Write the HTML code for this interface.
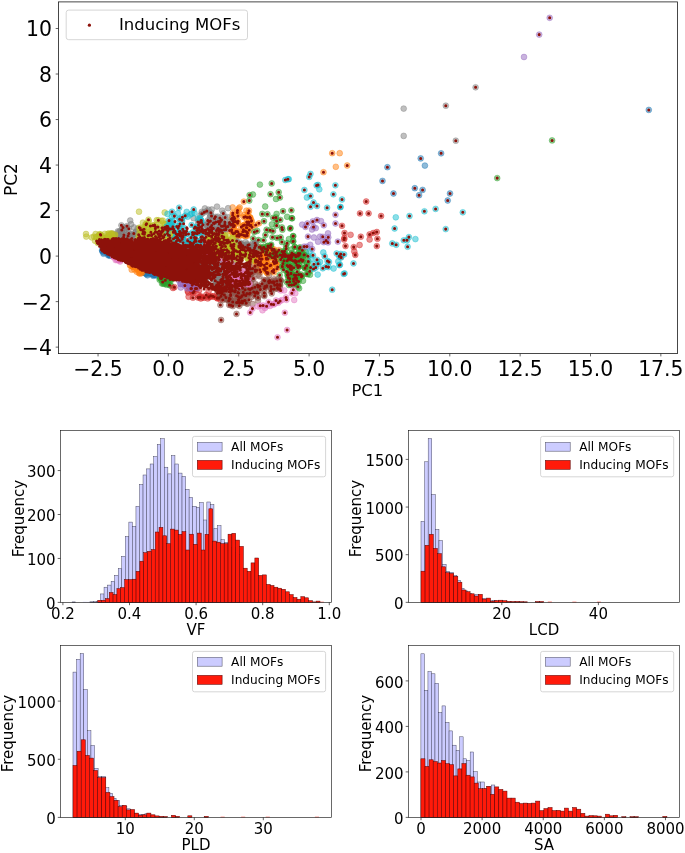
<!DOCTYPE html>
<html><head><meta charset="utf-8"><title>PCA and histograms</title>
<style>html,body{margin:0;padding:0;background:#fff;overflow:hidden}svg{display:block}text{font-family:"DejaVu Sans","Liberation Sans",sans-serif;fill:#000}</style>
</head><body>
<svg width="685" height="853" viewBox="0 0 685 853">
<rect width="685" height="853" fill="#fff"/>
<g fill-opacity="0.5" stroke-opacity="0.5" stroke-width="0.8"><g fill="#1f77b4" stroke="#1f77b4">
<circle cx="648.8" cy="109.9" r="2.9"/><circle cx="441.1" cy="153.3" r="2.9"/><circle cx="420.7" cy="158.4" r="2.9"/><circle cx="424.9" cy="165.6" r="2.9"/><circle cx="387.4" cy="167.2" r="2.9"/><circle cx="382.5" cy="180.9" r="2.9"/><circle cx="393.5" cy="193.5" r="2.9"/><circle cx="414.8" cy="188.2" r="2.9"/><circle cx="422.6" cy="189.9" r="2.9"/><circle cx="419.1" cy="195.2" r="2.9"/><circle cx="450.0" cy="193.5" r="2.9"/><circle cx="447.7" cy="200.5" r="2.9"/><circle cx="105.6" cy="251.6" r="2.9"/><circle cx="110.7" cy="255.2" r="2.9"/><circle cx="108.3" cy="253.3" r="2.9"/><circle cx="103.9" cy="252.6" r="2.9"/><circle cx="110.0" cy="252.9" r="2.9"/><circle cx="110.1" cy="253.9" r="2.9"/><circle cx="102.4" cy="251.4" r="2.9"/><circle cx="109.7" cy="255.2" r="2.9"/><circle cx="108.3" cy="252.4" r="2.9"/><circle cx="103.5" cy="253.7" r="2.9"/><circle cx="108.2" cy="255.3" r="2.9"/><circle cx="102.1" cy="250.2" r="2.9"/><circle cx="108.8" cy="253.3" r="2.9"/><circle cx="107.7" cy="253.7" r="2.9"/><circle cx="109.2" cy="254.5" r="2.9"/><circle cx="109.5" cy="253.8" r="2.9"/><circle cx="102.7" cy="250.6" r="2.9"/><circle cx="109.9" cy="255.7" r="2.9"/><circle cx="150.7" cy="273.8" r="2.9"/><circle cx="155.0" cy="275.1" r="2.9"/><circle cx="152.9" cy="274.7" r="2.9"/><circle cx="143.3" cy="271.7" r="2.9"/><circle cx="143.5" cy="272.2" r="2.9"/><circle cx="147.5" cy="275.3" r="2.9"/><circle cx="151.1" cy="273.7" r="2.9"/><circle cx="142.7" cy="272.1" r="2.9"/><circle cx="154.2" cy="274.3" r="2.9"/><circle cx="153.2" cy="275.8" r="2.9"/><circle cx="154.0" cy="274.8" r="2.9"/><circle cx="146.3" cy="272.0" r="2.9"/><circle cx="156.5" cy="275.6" r="2.9"/><circle cx="143.8" cy="272.6" r="2.9"/><circle cx="146.7" cy="274.3" r="2.9"/><circle cx="156.8" cy="274.4" r="2.9"/><circle cx="148.8" cy="272.7" r="2.9"/><circle cx="146.6" cy="272.9" r="2.9"/><circle cx="146.2" cy="273.4" r="2.9"/><circle cx="145.4" cy="273.4" r="2.9"/>
</g>
<g fill="#ff7f0e" stroke="#ff7f0e">
<circle cx="339.7" cy="153.2" r="2.9"/><circle cx="347.2" cy="165.5" r="2.9"/><circle cx="332.2" cy="153.2" r="2.9"/><circle cx="335.8" cy="166.8" r="2.9"/><circle cx="323.5" cy="172.2" r="2.9"/><circle cx="243.8" cy="201.6" r="2.9"/><circle cx="232.6" cy="207.4" r="2.9"/><circle cx="239.7" cy="207.4" r="2.9"/><circle cx="249.0" cy="210.7" r="2.9"/><circle cx="247.3" cy="217.4" r="2.9"/><circle cx="259.0" cy="223.3" r="2.9"/><circle cx="255.7" cy="225.0" r="2.9"/><circle cx="250.2" cy="224.4" r="2.9"/><circle cx="246.7" cy="232.1" r="2.9"/><circle cx="246.7" cy="235.0" r="2.9"/><circle cx="247.1" cy="224.8" r="2.9"/><circle cx="235.9" cy="231.5" r="2.9"/><circle cx="229.6" cy="230.5" r="2.9"/><circle cx="252.0" cy="227.2" r="2.9"/><circle cx="236.9" cy="236.0" r="2.9"/><circle cx="234.6" cy="218.4" r="2.9"/><circle cx="232.8" cy="220.9" r="2.9"/><circle cx="251.3" cy="221.3" r="2.9"/><circle cx="248.3" cy="212.9" r="2.9"/><circle cx="250.9" cy="225.3" r="2.9"/><circle cx="246.8" cy="222.1" r="2.9"/><circle cx="248.5" cy="222.1" r="2.9"/><circle cx="230.9" cy="225.0" r="2.9"/><circle cx="247.3" cy="232.4" r="2.9"/><circle cx="244.1" cy="235.5" r="2.9"/><circle cx="234.0" cy="217.2" r="2.9"/><circle cx="231.7" cy="229.8" r="2.9"/><circle cx="238.7" cy="208.6" r="2.9"/><circle cx="245.4" cy="216.8" r="2.9"/><circle cx="234.7" cy="233.3" r="2.9"/><circle cx="246.4" cy="210.6" r="2.9"/><circle cx="247.2" cy="235.7" r="2.9"/><circle cx="244.0" cy="217.3" r="2.9"/><circle cx="246.9" cy="227.7" r="2.9"/><circle cx="233.2" cy="224.3" r="2.9"/><circle cx="232.2" cy="224.2" r="2.9"/><circle cx="250.4" cy="218.0" r="2.9"/><circle cx="247.5" cy="232.9" r="2.9"/><circle cx="233.2" cy="233.6" r="2.9"/><circle cx="249.7" cy="217.0" r="2.9"/><circle cx="232.8" cy="213.1" r="2.9"/><circle cx="231.5" cy="219.1" r="2.9"/><circle cx="237.6" cy="223.1" r="2.9"/><circle cx="241.3" cy="227.1" r="2.9"/><circle cx="245.2" cy="231.1" r="2.9"/><circle cx="248.7" cy="223.3" r="2.9"/><circle cx="237.5" cy="235.3" r="2.9"/><circle cx="236.9" cy="222.0" r="2.9"/><circle cx="246.4" cy="227.6" r="2.9"/><circle cx="239.5" cy="213.2" r="2.9"/><circle cx="235.8" cy="221.5" r="2.9"/><circle cx="237.3" cy="231.4" r="2.9"/><circle cx="243.7" cy="235.3" r="2.9"/><circle cx="237.9" cy="216.1" r="2.9"/><circle cx="238.1" cy="221.3" r="2.9"/><circle cx="234.4" cy="225.6" r="2.9"/><circle cx="244.3" cy="224.9" r="2.9"/><circle cx="242.8" cy="231.8" r="2.9"/><circle cx="233.3" cy="219.1" r="2.9"/><circle cx="243.4" cy="229.7" r="2.9"/><circle cx="245.5" cy="236.1" r="2.9"/><circle cx="249.8" cy="225.4" r="2.9"/><circle cx="233.3" cy="226.7" r="2.9"/><circle cx="232.1" cy="232.3" r="2.9"/><circle cx="233.4" cy="221.7" r="2.9"/><circle cx="250.0" cy="219.3" r="2.9"/><circle cx="232.9" cy="225.2" r="2.9"/><circle cx="232.2" cy="218.3" r="2.9"/><circle cx="243.1" cy="225.4" r="2.9"/><circle cx="249.3" cy="230.0" r="2.9"/><circle cx="234.5" cy="221.4" r="2.9"/><circle cx="237.8" cy="231.8" r="2.9"/><circle cx="241.3" cy="234.6" r="2.9"/><circle cx="234.1" cy="226.4" r="2.9"/><circle cx="237.5" cy="210.5" r="2.9"/><circle cx="244.5" cy="215.0" r="2.9"/><circle cx="243.3" cy="231.6" r="2.9"/><circle cx="239.1" cy="236.2" r="2.9"/><circle cx="250.3" cy="218.0" r="2.9"/><circle cx="237.3" cy="212.4" r="2.9"/><circle cx="239.1" cy="234.1" r="2.9"/><circle cx="231.0" cy="224.6" r="2.9"/><circle cx="243.0" cy="225.8" r="2.9"/><circle cx="251.6" cy="220.7" r="2.9"/><circle cx="232.7" cy="214.9" r="2.9"/><circle cx="258.1" cy="252.2" r="2.9"/><circle cx="273.8" cy="269.7" r="2.9"/><circle cx="261.5" cy="264.2" r="2.9"/><circle cx="258.0" cy="264.7" r="2.9"/><circle cx="262.3" cy="250.1" r="2.9"/><circle cx="257.1" cy="256.3" r="2.9"/><circle cx="278.9" cy="250.1" r="2.9"/><circle cx="266.6" cy="272.4" r="2.9"/><circle cx="267.0" cy="249.3" r="2.9"/><circle cx="261.5" cy="264.3" r="2.9"/><circle cx="253.2" cy="251.1" r="2.9"/><circle cx="255.8" cy="251.6" r="2.9"/><circle cx="263.7" cy="269.1" r="2.9"/><circle cx="266.6" cy="265.9" r="2.9"/><circle cx="268.0" cy="247.0" r="2.9"/><circle cx="255.3" cy="270.0" r="2.9"/><circle cx="270.1" cy="265.7" r="2.9"/><circle cx="268.2" cy="255.2" r="2.9"/><circle cx="270.5" cy="248.0" r="2.9"/><circle cx="266.4" cy="259.1" r="2.9"/><circle cx="274.4" cy="263.5" r="2.9"/><circle cx="260.1" cy="260.5" r="2.9"/><circle cx="267.5" cy="259.4" r="2.9"/><circle cx="273.9" cy="272.4" r="2.9"/><circle cx="267.7" cy="249.9" r="2.9"/><circle cx="276.2" cy="253.1" r="2.9"/><circle cx="261.3" cy="255.6" r="2.9"/><circle cx="258.7" cy="256.0" r="2.9"/><circle cx="260.7" cy="265.6" r="2.9"/><circle cx="256.7" cy="270.3" r="2.9"/><circle cx="276.6" cy="252.6" r="2.9"/><circle cx="270.0" cy="265.8" r="2.9"/><circle cx="265.5" cy="254.7" r="2.9"/><circle cx="256.9" cy="263.8" r="2.9"/><circle cx="253.5" cy="256.8" r="2.9"/><circle cx="272.1" cy="271.2" r="2.9"/><circle cx="277.7" cy="267.0" r="2.9"/><circle cx="256.6" cy="253.8" r="2.9"/><circle cx="277.0" cy="268.7" r="2.9"/><circle cx="266.4" cy="252.0" r="2.9"/><circle cx="267.6" cy="272.5" r="2.9"/><circle cx="253.9" cy="256.4" r="2.9"/><circle cx="277.4" cy="256.4" r="2.9"/><circle cx="259.2" cy="252.9" r="2.9"/><circle cx="261.0" cy="253.0" r="2.9"/><circle cx="255.6" cy="261.9" r="2.9"/><circle cx="255.4" cy="260.9" r="2.9"/><circle cx="261.6" cy="255.1" r="2.9"/><circle cx="257.8" cy="261.1" r="2.9"/><circle cx="260.6" cy="272.0" r="2.9"/><circle cx="260.5" cy="265.4" r="2.9"/><circle cx="272.0" cy="250.3" r="2.9"/><circle cx="272.3" cy="256.9" r="2.9"/><circle cx="257.8" cy="252.7" r="2.9"/><circle cx="261.5" cy="249.1" r="2.9"/><circle cx="273.3" cy="253.4" r="2.9"/><circle cx="275.2" cy="263.1" r="2.9"/><circle cx="276.4" cy="261.4" r="2.9"/><circle cx="254.8" cy="255.2" r="2.9"/><circle cx="273.4" cy="261.6" r="2.9"/><circle cx="276.5" cy="262.7" r="2.9"/><circle cx="255.1" cy="259.2" r="2.9"/><circle cx="267.9" cy="258.9" r="2.9"/><circle cx="267.0" cy="263.5" r="2.9"/><circle cx="258.4" cy="262.4" r="2.9"/><circle cx="277.1" cy="252.0" r="2.9"/><circle cx="255.7" cy="259.9" r="2.9"/><circle cx="264.2" cy="265.3" r="2.9"/><circle cx="266.8" cy="271.4" r="2.9"/><circle cx="267.6" cy="273.5" r="2.9"/><circle cx="259.6" cy="258.5" r="2.9"/><circle cx="274.8" cy="258.5" r="2.9"/><circle cx="271.3" cy="252.2" r="2.9"/><circle cx="257.1" cy="254.3" r="2.9"/><circle cx="259.8" cy="262.8" r="2.9"/><circle cx="272.3" cy="249.0" r="2.9"/><circle cx="261.9" cy="254.0" r="2.9"/><circle cx="272.3" cy="257.7" r="2.9"/><circle cx="258.2" cy="253.1" r="2.9"/><circle cx="255.0" cy="266.3" r="2.9"/><circle cx="265.8" cy="254.2" r="2.9"/><circle cx="274.2" cy="249.5" r="2.9"/><circle cx="272.8" cy="254.3" r="2.9"/><circle cx="256.1" cy="260.8" r="2.9"/><circle cx="265.5" cy="267.7" r="2.9"/><circle cx="266.8" cy="268.1" r="2.9"/><circle cx="266.8" cy="258.3" r="2.9"/><circle cx="266.6" cy="263.5" r="2.9"/><circle cx="277.0" cy="264.4" r="2.9"/><circle cx="270.3" cy="253.5" r="2.9"/><circle cx="253.1" cy="253.5" r="2.9"/><circle cx="270.8" cy="265.3" r="2.9"/><circle cx="262.1" cy="259.0" r="2.9"/><circle cx="260.3" cy="262.0" r="2.9"/><circle cx="275.8" cy="259.5" r="2.9"/><circle cx="252.8" cy="253.9" r="2.9"/><circle cx="259.2" cy="247.3" r="2.9"/><circle cx="259.8" cy="269.7" r="2.9"/><circle cx="271.9" cy="270.9" r="2.9"/><circle cx="260.5" cy="261.9" r="2.9"/><circle cx="256.8" cy="251.8" r="2.9"/><circle cx="257.9" cy="252.3" r="2.9"/><circle cx="263.2" cy="251.6" r="2.9"/><circle cx="257.4" cy="261.6" r="2.9"/><circle cx="265.0" cy="270.3" r="2.9"/><circle cx="266.3" cy="258.3" r="2.9"/><circle cx="260.9" cy="265.2" r="2.9"/><circle cx="275.3" cy="251.5" r="2.9"/><circle cx="266.9" cy="268.2" r="2.9"/><circle cx="261.5" cy="259.3" r="2.9"/><circle cx="141.3" cy="273.3" r="2.9"/><circle cx="140.5" cy="269.6" r="2.9"/><circle cx="133.0" cy="266.8" r="2.9"/><circle cx="134.3" cy="269.5" r="2.9"/><circle cx="139.0" cy="273.1" r="2.9"/><circle cx="136.7" cy="268.8" r="2.9"/><circle cx="133.0" cy="266.5" r="2.9"/><circle cx="136.7" cy="271.7" r="2.9"/><circle cx="134.0" cy="266.4" r="2.9"/><circle cx="130.1" cy="265.5" r="2.9"/><circle cx="140.2" cy="272.4" r="2.9"/><circle cx="131.7" cy="269.7" r="2.9"/><circle cx="142.1" cy="269.1" r="2.9"/><circle cx="132.7" cy="266.3" r="2.9"/><circle cx="137.5" cy="270.1" r="2.9"/><circle cx="142.2" cy="272.2" r="2.9"/><circle cx="130.3" cy="265.0" r="2.9"/><circle cx="139.9" cy="270.7" r="2.9"/><circle cx="138.5" cy="267.8" r="2.9"/><circle cx="136.3" cy="267.0" r="2.9"/><circle cx="139.8" cy="273.5" r="2.9"/><circle cx="139.9" cy="268.3" r="2.9"/><circle cx="142.1" cy="270.1" r="2.9"/><circle cx="135.5" cy="267.2" r="2.9"/><circle cx="132.8" cy="266.2" r="2.9"/><circle cx="136.6" cy="268.0" r="2.9"/>
</g>
<g fill="#2ca02c" stroke="#2ca02c">
<circle cx="552.1" cy="140.4" r="2.9"/><circle cx="497.2" cy="178.1" r="2.9"/><circle cx="291.4" cy="210.3" r="2.9"/><circle cx="292.1" cy="218.3" r="2.9"/><circle cx="290.5" cy="228.1" r="2.9"/><circle cx="293.3" cy="236.1" r="2.9"/><circle cx="293.3" cy="241.3" r="2.9"/><circle cx="294.7" cy="246.9" r="2.9"/><circle cx="299.4" cy="248.3" r="2.9"/><circle cx="305.9" cy="252.1" r="2.9"/><circle cx="308.0" cy="256.3" r="2.9"/><circle cx="308.3" cy="261.4" r="2.9"/><circle cx="259.9" cy="184.6" r="2.9"/><circle cx="271.7" cy="183.4" r="2.9"/><circle cx="278.7" cy="192.2" r="2.9"/><circle cx="270.5" cy="194.2" r="2.9"/><circle cx="279.9" cy="197.5" r="2.9"/><circle cx="276.0" cy="199.0" r="2.9"/><circle cx="249.6" cy="195.1" r="2.9"/><circle cx="252.9" cy="194.5" r="2.9"/><circle cx="249.3" cy="200.6" r="2.9"/><circle cx="265.2" cy="206.5" r="2.9"/><circle cx="262.3" cy="213.9" r="2.9"/><circle cx="267.4" cy="214.2" r="2.9"/><circle cx="283.0" cy="211.2" r="2.9"/><circle cx="276.6" cy="213.9" r="2.9"/><circle cx="273.1" cy="217.8" r="2.9"/><circle cx="276.0" cy="217.4" r="2.9"/><circle cx="276.6" cy="220.9" r="2.9"/><circle cx="280.3" cy="219.8" r="2.9"/><circle cx="287.1" cy="216.8" r="2.9"/><circle cx="291.8" cy="218.2" r="2.9"/><circle cx="264.0" cy="221.2" r="2.9"/><circle cx="271.9" cy="224.4" r="2.9"/><circle cx="276.6" cy="225.6" r="2.9"/><circle cx="281.9" cy="227.4" r="2.9"/><circle cx="282.4" cy="229.7" r="2.9"/><circle cx="290.1" cy="228.5" r="2.9"/><circle cx="266.6" cy="229.7" r="2.9"/><circle cx="270.1" cy="230.3" r="2.9"/><circle cx="273.1" cy="230.9" r="2.9"/><circle cx="257.2" cy="230.9" r="2.9"/><circle cx="254.3" cy="232.1" r="2.9"/><circle cx="265.4" cy="235.0" r="2.9"/><circle cx="272.5" cy="237.3" r="2.9"/><circle cx="277.2" cy="237.9" r="2.9"/><circle cx="280.7" cy="237.3" r="2.9"/><circle cx="293.0" cy="236.2" r="2.9"/><circle cx="288.9" cy="239.1" r="2.9"/><circle cx="253.1" cy="238.5" r="2.9"/><circle cx="258.4" cy="240.0" r="2.9"/><circle cx="263.5" cy="240.3" r="2.9"/><circle cx="281.9" cy="242.0" r="2.9"/><circle cx="287.1" cy="243.2" r="2.9"/><circle cx="293.0" cy="241.4" r="2.9"/><circle cx="270.7" cy="245.5" r="2.9"/><circle cx="271.2" cy="244.6" r="2.9"/><circle cx="260.2" cy="246.7" r="2.9"/><circle cx="263.7" cy="247.3" r="2.9"/><circle cx="286.0" cy="246.1" r="2.9"/><circle cx="294.8" cy="247.1" r="2.9"/><circle cx="300.0" cy="247.3" r="2.9"/><circle cx="299.1" cy="288.3" r="2.9"/><circle cx="294.9" cy="275.3" r="2.9"/><circle cx="285.3" cy="256.5" r="2.9"/><circle cx="286.2" cy="248.8" r="2.9"/><circle cx="280.0" cy="284.6" r="2.9"/><circle cx="283.3" cy="252.6" r="2.9"/><circle cx="279.7" cy="275.1" r="2.9"/><circle cx="294.1" cy="284.6" r="2.9"/><circle cx="288.2" cy="257.2" r="2.9"/><circle cx="293.5" cy="279.1" r="2.9"/><circle cx="287.2" cy="259.1" r="2.9"/><circle cx="295.9" cy="283.3" r="2.9"/><circle cx="294.1" cy="284.8" r="2.9"/><circle cx="284.5" cy="251.2" r="2.9"/><circle cx="290.0" cy="283.0" r="2.9"/><circle cx="263.7" cy="247.3" r="2.9"/><circle cx="302.1" cy="275.9" r="2.9"/><circle cx="287.4" cy="275.1" r="2.9"/><circle cx="296.4" cy="277.9" r="2.9"/><circle cx="280.6" cy="259.6" r="2.9"/><circle cx="301.0" cy="259.5" r="2.9"/><circle cx="280.7" cy="281.0" r="2.9"/><circle cx="299.2" cy="254.9" r="2.9"/><circle cx="291.5" cy="249.4" r="2.9"/><circle cx="289.6" cy="281.7" r="2.9"/><circle cx="267.9" cy="245.9" r="2.9"/><circle cx="288.2" cy="266.6" r="2.9"/><circle cx="274.3" cy="253.9" r="2.9"/><circle cx="291.0" cy="273.3" r="2.9"/><circle cx="287.1" cy="265.4" r="2.9"/><circle cx="275.0" cy="254.5" r="2.9"/><circle cx="298.8" cy="274.6" r="2.9"/><circle cx="304.0" cy="255.0" r="2.9"/><circle cx="291.3" cy="258.9" r="2.9"/><circle cx="290.5" cy="259.5" r="2.9"/><circle cx="301.5" cy="276.7" r="2.9"/><circle cx="283.5" cy="269.8" r="2.9"/><circle cx="298.1" cy="267.5" r="2.9"/><circle cx="265.4" cy="249.0" r="2.9"/><circle cx="298.1" cy="255.9" r="2.9"/><circle cx="282.4" cy="266.7" r="2.9"/><circle cx="282.1" cy="255.0" r="2.9"/><circle cx="299.9" cy="253.5" r="2.9"/><circle cx="302.5" cy="261.1" r="2.9"/><circle cx="299.0" cy="251.7" r="2.9"/><circle cx="266.7" cy="252.5" r="2.9"/><circle cx="302.4" cy="250.3" r="2.9"/><circle cx="293.8" cy="254.6" r="2.9"/><circle cx="285.4" cy="255.0" r="2.9"/><circle cx="282.3" cy="257.2" r="2.9"/><circle cx="295.6" cy="255.3" r="2.9"/><circle cx="280.0" cy="255.0" r="2.9"/><circle cx="276.3" cy="254.4" r="2.9"/><circle cx="304.3" cy="254.7" r="2.9"/><circle cx="295.8" cy="256.8" r="2.9"/><circle cx="285.2" cy="262.3" r="2.9"/><circle cx="289.0" cy="285.1" r="2.9"/><circle cx="290.9" cy="273.8" r="2.9"/><circle cx="267.4" cy="245.9" r="2.9"/><circle cx="262.3" cy="248.5" r="2.9"/><circle cx="274.7" cy="251.6" r="2.9"/><circle cx="288.3" cy="277.9" r="2.9"/><circle cx="270.4" cy="256.2" r="2.9"/><circle cx="286.0" cy="261.1" r="2.9"/><circle cx="274.7" cy="256.3" r="2.9"/><circle cx="298.6" cy="281.6" r="2.9"/><circle cx="287.0" cy="257.4" r="2.9"/><circle cx="289.8" cy="278.6" r="2.9"/><circle cx="274.5" cy="254.9" r="2.9"/><circle cx="283.3" cy="255.4" r="2.9"/><circle cx="296.6" cy="280.3" r="2.9"/><circle cx="292.7" cy="274.4" r="2.9"/><circle cx="299.1" cy="279.1" r="2.9"/><circle cx="305.0" cy="268.0" r="2.9"/><circle cx="303.0" cy="280.8" r="2.9"/><circle cx="285.0" cy="254.2" r="2.9"/><circle cx="300.3" cy="259.9" r="2.9"/><circle cx="291.9" cy="253.0" r="2.9"/><circle cx="289.9" cy="265.5" r="2.9"/><circle cx="290.9" cy="254.9" r="2.9"/><circle cx="299.1" cy="261.1" r="2.9"/><circle cx="309.7" cy="271.3" r="2.9"/><circle cx="291.4" cy="269.5" r="2.9"/><circle cx="291.3" cy="266.3" r="2.9"/><circle cx="295.1" cy="260.5" r="2.9"/><circle cx="292.7" cy="260.8" r="2.9"/><circle cx="296.9" cy="265.2" r="2.9"/><circle cx="306.8" cy="274.0" r="2.9"/><circle cx="306.6" cy="265.6" r="2.9"/><circle cx="307.8" cy="274.2" r="2.9"/><circle cx="296.6" cy="278.4" r="2.9"/><circle cx="297.9" cy="286.7" r="2.9"/><circle cx="283.9" cy="260.7" r="2.9"/><circle cx="289.4" cy="266.0" r="2.9"/><circle cx="297.1" cy="271.8" r="2.9"/><circle cx="291.5" cy="285.1" r="2.9"/><circle cx="301.1" cy="274.5" r="2.9"/><circle cx="282.3" cy="266.3" r="2.9"/><circle cx="289.8" cy="257.2" r="2.9"/><circle cx="295.0" cy="261.5" r="2.9"/><circle cx="296.0" cy="275.3" r="2.9"/><circle cx="281.9" cy="253.7" r="2.9"/><circle cx="293.6" cy="281.3" r="2.9"/><circle cx="282.9" cy="263.4" r="2.9"/><circle cx="295.0" cy="277.9" r="2.9"/><circle cx="310.6" cy="267.6" r="2.9"/><circle cx="303.0" cy="260.2" r="2.9"/><circle cx="293.7" cy="267.7" r="2.9"/><circle cx="286.7" cy="281.9" r="2.9"/><circle cx="293.9" cy="278.7" r="2.9"/><circle cx="288.7" cy="259.3" r="2.9"/><circle cx="299.9" cy="266.2" r="2.9"/><circle cx="287.8" cy="272.6" r="2.9"/><circle cx="290.4" cy="268.7" r="2.9"/><circle cx="307.0" cy="262.8" r="2.9"/><circle cx="303.4" cy="256.5" r="2.9"/><circle cx="288.2" cy="275.2" r="2.9"/><circle cx="310.0" cy="274.7" r="2.9"/><circle cx="282.0" cy="251.4" r="2.9"/><circle cx="299.0" cy="265.7" r="2.9"/><circle cx="286.7" cy="271.4" r="2.9"/><circle cx="305.2" cy="267.3" r="2.9"/><circle cx="305.0" cy="268.3" r="2.9"/><circle cx="287.1" cy="260.8" r="2.9"/><circle cx="291.9" cy="256.6" r="2.9"/><circle cx="298.2" cy="253.5" r="2.9"/><circle cx="288.4" cy="255.8" r="2.9"/><circle cx="286.0" cy="255.6" r="2.9"/><circle cx="294.2" cy="274.9" r="2.9"/><circle cx="296.6" cy="261.5" r="2.9"/><circle cx="295.9" cy="262.7" r="2.9"/><circle cx="167.3" cy="276.9" r="2.9"/><circle cx="166.3" cy="276.5" r="2.9"/><circle cx="165.3" cy="280.3" r="2.9"/><circle cx="170.7" cy="280.7" r="2.9"/><circle cx="163.3" cy="280.9" r="2.9"/><circle cx="169.6" cy="285.2" r="2.9"/><circle cx="162.0" cy="283.5" r="2.9"/><circle cx="163.4" cy="283.7" r="2.9"/><circle cx="167.0" cy="282.2" r="2.9"/><circle cx="160.5" cy="275.5" r="2.9"/><circle cx="160.4" cy="278.7" r="2.9"/><circle cx="159.6" cy="279.7" r="2.9"/><circle cx="164.3" cy="276.8" r="2.9"/><circle cx="170.3" cy="279.5" r="2.9"/><circle cx="162.0" cy="277.8" r="2.9"/><circle cx="162.6" cy="276.9" r="2.9"/><circle cx="167.4" cy="276.7" r="2.9"/><circle cx="160.5" cy="278.3" r="2.9"/><circle cx="166.4" cy="284.7" r="2.9"/><circle cx="164.6" cy="283.6" r="2.9"/><circle cx="166.9" cy="283.8" r="2.9"/><circle cx="168.5" cy="280.7" r="2.9"/><circle cx="164.0" cy="281.5" r="2.9"/><circle cx="162.7" cy="282.0" r="2.9"/><circle cx="161.3" cy="278.6" r="2.9"/><circle cx="171.0" cy="285.6" r="2.9"/><circle cx="162.7" cy="278.2" r="2.9"/><circle cx="171.0" cy="278.9" r="2.9"/>
</g>
<g fill="#d62728" stroke="#d62728">
<circle cx="366.2" cy="201.5" r="2.9"/><circle cx="360.0" cy="213.4" r="2.9"/><circle cx="368.6" cy="213.4" r="2.9"/><circle cx="381.1" cy="216.0" r="2.9"/><circle cx="342.0" cy="225.8" r="2.9"/><circle cx="344.5" cy="233.0" r="2.9"/><circle cx="350.6" cy="234.8" r="2.9"/><circle cx="344.1" cy="239.5" r="2.9"/><circle cx="360.8" cy="236.7" r="2.9"/><circle cx="369.6" cy="234.4" r="2.9"/><circle cx="373.3" cy="233.0" r="2.9"/><circle cx="376.8" cy="232.0" r="2.9"/><circle cx="369.6" cy="239.5" r="2.9"/><circle cx="377.4" cy="238.7" r="2.9"/><circle cx="359.6" cy="245.0" r="2.9"/><circle cx="345.5" cy="246.1" r="2.9"/><circle cx="353.7" cy="247.1" r="2.9"/><circle cx="376.8" cy="246.1" r="2.9"/><circle cx="354.3" cy="251.4" r="2.9"/><circle cx="355.3" cy="254.9" r="2.9"/><circle cx="341.0" cy="256.9" r="2.9"/><circle cx="344.4" cy="238.0" r="2.9"/><circle cx="174.4" cy="287.2" r="2.9"/><circle cx="173.0" cy="288.0" r="2.9"/><circle cx="200.6" cy="296.1" r="2.9"/><circle cx="208.8" cy="297.1" r="2.9"/><circle cx="206.2" cy="295.0" r="2.9"/><circle cx="200.0" cy="297.2" r="2.9"/><circle cx="193.9" cy="291.5" r="2.9"/><circle cx="191.8" cy="290.2" r="2.9"/><circle cx="198.0" cy="297.6" r="2.9"/><circle cx="196.6" cy="288.5" r="2.9"/><circle cx="217.4" cy="293.3" r="2.9"/><circle cx="210.1" cy="297.1" r="2.9"/><circle cx="192.9" cy="297.7" r="2.9"/><circle cx="208.6" cy="291.2" r="2.9"/><circle cx="192.4" cy="291.7" r="2.9"/><circle cx="218.8" cy="291.5" r="2.9"/><circle cx="188.6" cy="296.7" r="2.9"/><circle cx="188.9" cy="287.1" r="2.9"/><circle cx="188.2" cy="292.5" r="2.9"/><circle cx="217.3" cy="298.1" r="2.9"/><circle cx="200.8" cy="298.5" r="2.9"/><circle cx="220.2" cy="299.4" r="2.9"/><circle cx="195.4" cy="288.6" r="2.9"/><circle cx="207.7" cy="298.4" r="2.9"/><circle cx="196.4" cy="289.1" r="2.9"/><circle cx="219.0" cy="298.1" r="2.9"/><circle cx="217.2" cy="298.3" r="2.9"/><circle cx="198.4" cy="295.3" r="2.9"/><circle cx="193.0" cy="292.7" r="2.9"/><circle cx="213.9" cy="296.8" r="2.9"/><circle cx="199.2" cy="290.2" r="2.9"/><circle cx="187.7" cy="290.9" r="2.9"/><circle cx="210.7" cy="295.8" r="2.9"/><circle cx="213.0" cy="296.2" r="2.9"/><circle cx="202.1" cy="297.4" r="2.9"/><circle cx="204.1" cy="297.8" r="2.9"/><circle cx="205.0" cy="241.3" r="2.9"/><circle cx="211.4" cy="240.6" r="2.9"/><circle cx="209.6" cy="250.1" r="2.9"/><circle cx="210.8" cy="243.1" r="2.9"/><circle cx="209.4" cy="249.6" r="2.9"/><circle cx="202.4" cy="241.2" r="2.9"/><circle cx="202.1" cy="252.7" r="2.9"/><circle cx="186.8" cy="241.3" r="2.9"/><circle cx="203.8" cy="250.6" r="2.9"/><circle cx="211.2" cy="250.2" r="2.9"/><circle cx="202.8" cy="250.0" r="2.9"/><circle cx="214.3" cy="242.7" r="2.9"/><circle cx="188.7" cy="243.1" r="2.9"/><circle cx="197.1" cy="248.5" r="2.9"/><circle cx="200.3" cy="240.4" r="2.9"/><circle cx="213.6" cy="250.3" r="2.9"/><circle cx="201.6" cy="244.8" r="2.9"/><circle cx="196.7" cy="245.0" r="2.9"/><circle cx="214.2" cy="251.0" r="2.9"/><circle cx="197.7" cy="249.4" r="2.9"/><circle cx="208.6" cy="240.5" r="2.9"/><circle cx="193.4" cy="243.0" r="2.9"/><circle cx="188.5" cy="241.4" r="2.9"/><circle cx="194.9" cy="244.5" r="2.9"/><circle cx="214.3" cy="244.2" r="2.9"/><circle cx="196.0" cy="251.7" r="2.9"/><circle cx="189.6" cy="240.4" r="2.9"/><circle cx="194.6" cy="251.2" r="2.9"/><circle cx="207.4" cy="245.9" r="2.9"/><circle cx="213.3" cy="240.7" r="2.9"/>
</g>
<g fill="#9467bd" stroke="#9467bd">
<circle cx="549.7" cy="17.8" r="2.9"/><circle cx="539.2" cy="34.6" r="2.9"/><circle cx="524.0" cy="57.0" r="2.9"/><circle cx="335.5" cy="214.8" r="2.9"/><circle cx="335.5" cy="223.5" r="2.9"/><circle cx="317.0" cy="220.0" r="2.9"/><circle cx="312.8" cy="221.4" r="2.9"/><circle cx="307.4" cy="223.5" r="2.9"/><circle cx="302.2" cy="224.6" r="2.9"/><circle cx="305.5" cy="226.9" r="2.9"/><circle cx="313.5" cy="226.9" r="2.9"/><circle cx="321.0" cy="221.1" r="2.9"/><circle cx="323.8" cy="225.3" r="2.9"/><circle cx="312.0" cy="229.5" r="2.9"/><circle cx="315.8" cy="228.1" r="2.9"/><circle cx="328.0" cy="233.3" r="2.9"/><circle cx="308.0" cy="236.6" r="2.9"/><circle cx="313.9" cy="237.5" r="2.9"/><circle cx="320.0" cy="236.6" r="2.9"/><circle cx="322.8" cy="236.8" r="2.9"/><circle cx="328.3" cy="237.3" r="2.9"/><circle cx="318.1" cy="241.7" r="2.9"/><circle cx="323.8" cy="242.2" r="2.9"/><circle cx="326.1" cy="240.5" r="2.9"/><circle cx="328.0" cy="242.4" r="2.9"/><circle cx="337.8" cy="241.6" r="2.9"/><circle cx="310.2" cy="244.8" r="2.9"/><circle cx="304.1" cy="246.6" r="2.9"/><circle cx="306.9" cy="246.6" r="2.9"/><circle cx="312.2" cy="249.0" r="2.9"/><circle cx="178.9" cy="280.3" r="2.9"/><circle cx="187.1" cy="288.4" r="2.9"/><circle cx="180.4" cy="283.8" r="2.9"/><circle cx="190.6" cy="283.0" r="2.9"/><circle cx="184.9" cy="285.6" r="2.9"/><circle cx="189.8" cy="284.8" r="2.9"/><circle cx="189.9" cy="285.7" r="2.9"/><circle cx="180.8" cy="287.5" r="2.9"/><circle cx="192.5" cy="284.0" r="2.9"/><circle cx="197.4" cy="288.3" r="2.9"/><circle cx="196.3" cy="285.5" r="2.9"/><circle cx="180.8" cy="284.1" r="2.9"/><circle cx="191.7" cy="285.6" r="2.9"/><circle cx="191.5" cy="288.6" r="2.9"/><circle cx="192.8" cy="282.5" r="2.9"/><circle cx="185.0" cy="282.9" r="2.9"/><circle cx="182.9" cy="284.2" r="2.9"/><circle cx="190.9" cy="288.6" r="2.9"/>
</g>
<g fill="#8c564b" stroke="#8c564b">
<circle cx="236.5" cy="313.9" r="2.9"/><circle cx="220.4" cy="304.9" r="2.9"/><circle cx="221.1" cy="320.0" r="2.9"/><circle cx="223.6" cy="291.0" r="2.9"/><circle cx="263.8" cy="279.9" r="2.9"/><circle cx="234.3" cy="285.6" r="2.9"/><circle cx="233.5" cy="302.0" r="2.9"/><circle cx="277.5" cy="285.6" r="2.9"/><circle cx="247.5" cy="303.8" r="2.9"/><circle cx="217.2" cy="289.4" r="2.9"/><circle cx="243.9" cy="274.3" r="2.9"/><circle cx="246.3" cy="303.3" r="2.9"/><circle cx="278.2" cy="289.1" r="2.9"/><circle cx="279.9" cy="288.6" r="2.9"/><circle cx="239.6" cy="302.8" r="2.9"/><circle cx="228.3" cy="281.9" r="2.9"/><circle cx="271.4" cy="289.1" r="2.9"/><circle cx="274.2" cy="289.3" r="2.9"/><circle cx="250.1" cy="289.5" r="2.9"/><circle cx="229.8" cy="284.5" r="2.9"/><circle cx="230.0" cy="281.5" r="2.9"/><circle cx="240.6" cy="285.0" r="2.9"/><circle cx="274.9" cy="280.7" r="2.9"/><circle cx="235.0" cy="286.2" r="2.9"/><circle cx="274.7" cy="285.1" r="2.9"/><circle cx="229.4" cy="287.8" r="2.9"/><circle cx="225.6" cy="290.5" r="2.9"/><circle cx="225.1" cy="288.4" r="2.9"/><circle cx="223.7" cy="289.1" r="2.9"/><circle cx="262.0" cy="283.8" r="2.9"/><circle cx="260.4" cy="289.6" r="2.9"/><circle cx="273.0" cy="281.8" r="2.9"/><circle cx="274.2" cy="279.3" r="2.9"/><circle cx="248.9" cy="299.8" r="2.9"/><circle cx="271.3" cy="285.9" r="2.9"/><circle cx="221.7" cy="281.9" r="2.9"/><circle cx="264.3" cy="288.4" r="2.9"/><circle cx="230.2" cy="297.7" r="2.9"/><circle cx="219.4" cy="283.2" r="2.9"/><circle cx="229.4" cy="291.7" r="2.9"/><circle cx="243.3" cy="292.2" r="2.9"/><circle cx="242.7" cy="284.8" r="2.9"/><circle cx="221.9" cy="283.2" r="2.9"/><circle cx="231.2" cy="301.8" r="2.9"/><circle cx="236.0" cy="276.5" r="2.9"/><circle cx="241.8" cy="301.1" r="2.9"/><circle cx="243.2" cy="284.4" r="2.9"/><circle cx="224.4" cy="294.9" r="2.9"/><circle cx="258.0" cy="300.8" r="2.9"/><circle cx="271.5" cy="282.2" r="2.9"/><circle cx="222.3" cy="280.9" r="2.9"/><circle cx="227.0" cy="299.7" r="2.9"/><circle cx="280.2" cy="285.4" r="2.9"/><circle cx="269.0" cy="282.0" r="2.9"/><circle cx="254.7" cy="295.9" r="2.9"/><circle cx="250.2" cy="292.9" r="2.9"/><circle cx="218.3" cy="284.2" r="2.9"/><circle cx="230.9" cy="278.3" r="2.9"/><circle cx="241.9" cy="281.4" r="2.9"/><circle cx="246.6" cy="280.3" r="2.9"/><circle cx="258.2" cy="274.7" r="2.9"/><circle cx="268.6" cy="281.4" r="2.9"/><circle cx="252.1" cy="288.3" r="2.9"/><circle cx="233.6" cy="275.0" r="2.9"/><circle cx="227.4" cy="286.8" r="2.9"/><circle cx="237.7" cy="283.1" r="2.9"/><circle cx="253.7" cy="292.0" r="2.9"/><circle cx="257.6" cy="285.3" r="2.9"/><circle cx="241.0" cy="274.8" r="2.9"/><circle cx="234.8" cy="281.9" r="2.9"/><circle cx="234.8" cy="283.4" r="2.9"/><circle cx="232.0" cy="282.3" r="2.9"/><circle cx="244.3" cy="300.7" r="2.9"/><circle cx="249.2" cy="282.1" r="2.9"/><circle cx="255.4" cy="293.3" r="2.9"/><circle cx="250.7" cy="287.9" r="2.9"/><circle cx="252.4" cy="273.2" r="2.9"/><circle cx="279.8" cy="283.5" r="2.9"/><circle cx="230.9" cy="305.2" r="2.9"/><circle cx="245.2" cy="273.3" r="2.9"/><circle cx="256.9" cy="291.9" r="2.9"/><circle cx="242.4" cy="303.0" r="2.9"/><circle cx="243.3" cy="281.9" r="2.9"/><circle cx="235.4" cy="284.4" r="2.9"/><circle cx="276.9" cy="281.0" r="2.9"/><circle cx="218.5" cy="291.3" r="2.9"/><circle cx="225.1" cy="281.2" r="2.9"/><circle cx="236.9" cy="302.7" r="2.9"/><circle cx="235.3" cy="296.2" r="2.9"/><circle cx="274.1" cy="282.1" r="2.9"/><circle cx="241.9" cy="295.7" r="2.9"/><circle cx="225.9" cy="283.0" r="2.9"/><circle cx="277.2" cy="288.0" r="2.9"/><circle cx="277.3" cy="285.9" r="2.9"/><circle cx="221.0" cy="296.2" r="2.9"/><circle cx="270.7" cy="290.7" r="2.9"/><circle cx="238.0" cy="292.6" r="2.9"/><circle cx="239.6" cy="289.2" r="2.9"/><circle cx="277.2" cy="284.3" r="2.9"/><circle cx="271.3" cy="287.7" r="2.9"/><circle cx="265.9" cy="284.9" r="2.9"/><circle cx="251.3" cy="297.0" r="2.9"/><circle cx="241.1" cy="285.3" r="2.9"/><circle cx="241.5" cy="296.8" r="2.9"/><circle cx="252.6" cy="304.0" r="2.9"/><circle cx="236.6" cy="302.6" r="2.9"/><circle cx="264.6" cy="280.6" r="2.9"/><circle cx="238.9" cy="288.9" r="2.9"/><circle cx="237.4" cy="288.9" r="2.9"/><circle cx="273.8" cy="283.0" r="2.9"/><circle cx="278.5" cy="284.7" r="2.9"/><circle cx="280.7" cy="280.4" r="2.9"/><circle cx="220.1" cy="293.1" r="2.9"/><circle cx="234.0" cy="276.1" r="2.9"/><circle cx="230.1" cy="299.1" r="2.9"/><circle cx="273.8" cy="281.7" r="2.9"/><circle cx="256.7" cy="292.4" r="2.9"/><circle cx="269.0" cy="282.7" r="2.9"/><circle cx="264.4" cy="296.1" r="2.9"/><circle cx="230.9" cy="281.6" r="2.9"/><circle cx="237.8" cy="275.2" r="2.9"/><circle cx="243.8" cy="301.7" r="2.9"/><circle cx="241.5" cy="276.4" r="2.9"/><circle cx="259.9" cy="286.3" r="2.9"/><circle cx="264.1" cy="295.1" r="2.9"/><circle cx="219.8" cy="282.4" r="2.9"/><circle cx="249.4" cy="293.5" r="2.9"/><circle cx="217.8" cy="288.2" r="2.9"/><circle cx="227.2" cy="285.3" r="2.9"/><circle cx="238.5" cy="296.8" r="2.9"/><circle cx="241.6" cy="276.9" r="2.9"/><circle cx="266.4" cy="287.0" r="2.9"/><circle cx="232.0" cy="287.2" r="2.9"/><circle cx="225.3" cy="287.0" r="2.9"/><circle cx="269.1" cy="275.3" r="2.9"/><circle cx="230.0" cy="283.6" r="2.9"/><circle cx="218.6" cy="290.5" r="2.9"/><circle cx="255.2" cy="283.8" r="2.9"/><circle cx="228.8" cy="300.7" r="2.9"/><circle cx="258.2" cy="287.0" r="2.9"/><circle cx="249.5" cy="293.9" r="2.9"/><circle cx="231.2" cy="284.5" r="2.9"/><circle cx="241.4" cy="283.2" r="2.9"/><circle cx="217.3" cy="283.3" r="2.9"/><circle cx="223.6" cy="291.2" r="2.9"/><circle cx="269.6" cy="280.5" r="2.9"/><circle cx="278.1" cy="278.8" r="2.9"/><circle cx="234.9" cy="291.8" r="2.9"/><circle cx="237.1" cy="304.6" r="2.9"/><circle cx="225.9" cy="297.4" r="2.9"/><circle cx="258.1" cy="297.4" r="2.9"/><circle cx="266.7" cy="285.8" r="2.9"/><circle cx="277.5" cy="287.7" r="2.9"/><circle cx="264.3" cy="292.7" r="2.9"/><circle cx="264.9" cy="286.6" r="2.9"/><circle cx="229.2" cy="304.9" r="2.9"/><circle cx="257.8" cy="293.1" r="2.9"/><circle cx="236.3" cy="280.2" r="2.9"/><circle cx="258.1" cy="297.5" r="2.9"/><circle cx="237.6" cy="283.8" r="2.9"/><circle cx="280.2" cy="279.8" r="2.9"/><circle cx="232.8" cy="306.1" r="2.9"/><circle cx="236.6" cy="295.8" r="2.9"/><circle cx="257.3" cy="286.9" r="2.9"/><circle cx="245.1" cy="300.4" r="2.9"/><circle cx="239.3" cy="305.8" r="2.9"/><circle cx="271.7" cy="293.4" r="2.9"/><circle cx="277.1" cy="287.2" r="2.9"/><circle cx="244.0" cy="294.8" r="2.9"/><circle cx="264.0" cy="284.4" r="2.9"/><circle cx="270.9" cy="286.6" r="2.9"/><circle cx="267.1" cy="280.2" r="2.9"/><circle cx="232.7" cy="302.0" r="2.9"/><circle cx="252.0" cy="273.0" r="2.9"/><circle cx="252.6" cy="268.6" r="2.9"/><circle cx="250.7" cy="274.1" r="2.9"/><circle cx="240.3" cy="270.3" r="2.9"/><circle cx="229.2" cy="265.2" r="2.9"/><circle cx="236.2" cy="262.9" r="2.9"/><circle cx="230.5" cy="270.7" r="2.9"/><circle cx="246.9" cy="265.0" r="2.9"/><circle cx="248.8" cy="272.7" r="2.9"/><circle cx="231.1" cy="269.0" r="2.9"/><circle cx="238.1" cy="269.0" r="2.9"/><circle cx="242.1" cy="279.0" r="2.9"/><circle cx="235.7" cy="280.5" r="2.9"/><circle cx="256.2" cy="266.7" r="2.9"/><circle cx="248.5" cy="269.5" r="2.9"/><circle cx="228.7" cy="262.7" r="2.9"/><circle cx="236.5" cy="272.6" r="2.9"/><circle cx="226.7" cy="264.9" r="2.9"/><circle cx="248.6" cy="265.1" r="2.9"/><circle cx="226.8" cy="265.6" r="2.9"/><circle cx="228.6" cy="272.1" r="2.9"/><circle cx="233.0" cy="273.3" r="2.9"/><circle cx="236.1" cy="265.4" r="2.9"/><circle cx="236.8" cy="269.4" r="2.9"/><circle cx="237.2" cy="271.7" r="2.9"/><circle cx="233.2" cy="266.3" r="2.9"/><circle cx="236.1" cy="267.6" r="2.9"/><circle cx="248.3" cy="269.6" r="2.9"/><circle cx="250.6" cy="273.8" r="2.9"/><circle cx="247.8" cy="278.8" r="2.9"/><circle cx="239.3" cy="274.3" r="2.9"/><circle cx="241.0" cy="277.7" r="2.9"/><circle cx="255.4" cy="271.4" r="2.9"/><circle cx="253.5" cy="278.6" r="2.9"/><circle cx="259.4" cy="276.2" r="2.9"/><circle cx="232.2" cy="280.9" r="2.9"/><circle cx="245.6" cy="279.9" r="2.9"/><circle cx="235.7" cy="267.8" r="2.9"/><circle cx="249.8" cy="263.1" r="2.9"/><circle cx="245.6" cy="265.8" r="2.9"/><circle cx="234.8" cy="293.5" r="2.9"/><circle cx="247.8" cy="288.8" r="2.9"/><circle cx="216.9" cy="285.5" r="2.9"/><circle cx="224.5" cy="288.3" r="2.9"/><circle cx="238.6" cy="300.5" r="2.9"/><circle cx="239.0" cy="288.1" r="2.9"/><circle cx="221.6" cy="292.1" r="2.9"/><circle cx="235.9" cy="300.9" r="2.9"/><circle cx="235.7" cy="290.2" r="2.9"/><circle cx="237.7" cy="280.2" r="2.9"/><circle cx="245.0" cy="285.1" r="2.9"/><circle cx="229.1" cy="276.9" r="2.9"/><circle cx="217.3" cy="288.3" r="2.9"/><circle cx="219.9" cy="294.7" r="2.9"/><circle cx="248.1" cy="278.5" r="2.9"/><circle cx="223.6" cy="287.9" r="2.9"/><circle cx="237.7" cy="290.0" r="2.9"/><circle cx="239.5" cy="283.8" r="2.9"/><circle cx="237.4" cy="281.3" r="2.9"/><circle cx="224.0" cy="288.1" r="2.9"/><circle cx="225.8" cy="290.2" r="2.9"/><circle cx="225.3" cy="287.3" r="2.9"/><circle cx="229.1" cy="283.5" r="2.9"/><circle cx="236.8" cy="286.4" r="2.9"/><circle cx="230.6" cy="290.0" r="2.9"/><circle cx="216.4" cy="285.4" r="2.9"/><circle cx="242.6" cy="284.9" r="2.9"/><circle cx="216.7" cy="283.8" r="2.9"/><circle cx="220.2" cy="289.9" r="2.9"/><circle cx="239.7" cy="280.0" r="2.9"/><circle cx="223.2" cy="274.9" r="2.9"/><circle cx="245.1" cy="282.8" r="2.9"/><circle cx="222.8" cy="284.2" r="2.9"/><circle cx="222.8" cy="299.9" r="2.9"/><circle cx="248.7" cy="289.0" r="2.9"/><circle cx="218.6" cy="292.4" r="2.9"/><circle cx="222.6" cy="282.2" r="2.9"/><circle cx="244.4" cy="292.5" r="2.9"/><circle cx="222.2" cy="283.2" r="2.9"/><circle cx="231.4" cy="286.5" r="2.9"/><circle cx="245.9" cy="286.5" r="2.9"/><circle cx="221.9" cy="281.1" r="2.9"/><circle cx="245.2" cy="281.5" r="2.9"/><circle cx="227.4" cy="297.1" r="2.9"/><circle cx="223.0" cy="282.1" r="2.9"/><circle cx="227.9" cy="283.5" r="2.9"/><circle cx="240.9" cy="300.0" r="2.9"/><circle cx="237.2" cy="284.1" r="2.9"/><circle cx="238.0" cy="275.8" r="2.9"/><circle cx="240.3" cy="278.6" r="2.9"/><circle cx="241.5" cy="288.7" r="2.9"/><circle cx="217.8" cy="282.7" r="2.9"/><circle cx="238.5" cy="299.7" r="2.9"/><circle cx="243.0" cy="293.3" r="2.9"/><circle cx="235.6" cy="300.2" r="2.9"/><circle cx="232.1" cy="289.8" r="2.9"/><circle cx="247.6" cy="275.4" r="2.9"/><circle cx="251.4" cy="291.2" r="2.9"/><circle cx="238.6" cy="293.0" r="2.9"/><circle cx="246.1" cy="282.5" r="2.9"/><circle cx="223.7" cy="281.9" r="2.9"/><circle cx="245.9" cy="275.8" r="2.9"/><circle cx="242.5" cy="281.4" r="2.9"/><circle cx="228.7" cy="299.8" r="2.9"/><circle cx="226.2" cy="298.7" r="2.9"/><circle cx="220.8" cy="280.0" r="2.9"/><circle cx="245.9" cy="276.4" r="2.9"/><circle cx="244.4" cy="282.6" r="2.9"/><circle cx="237.2" cy="277.9" r="2.9"/><circle cx="245.0" cy="277.1" r="2.9"/><circle cx="244.9" cy="291.7" r="2.9"/><circle cx="232.4" cy="290.7" r="2.9"/><circle cx="247.0" cy="295.8" r="2.9"/><circle cx="222.4" cy="280.0" r="2.9"/><circle cx="246.6" cy="286.8" r="2.9"/><circle cx="242.4" cy="286.3" r="2.9"/><circle cx="215.5" cy="285.0" r="2.9"/><circle cx="233.1" cy="289.6" r="2.9"/><circle cx="242.0" cy="286.6" r="2.9"/><circle cx="220.1" cy="290.3" r="2.9"/><circle cx="229.8" cy="298.9" r="2.9"/><circle cx="236.7" cy="285.6" r="2.9"/><circle cx="229.4" cy="298.3" r="2.9"/><circle cx="241.9" cy="281.5" r="2.9"/><circle cx="236.2" cy="276.0" r="2.9"/><circle cx="228.7" cy="279.9" r="2.9"/><circle cx="232.6" cy="281.6" r="2.9"/><circle cx="226.7" cy="286.8" r="2.9"/><circle cx="246.0" cy="275.6" r="2.9"/><circle cx="226.1" cy="282.7" r="2.9"/><circle cx="233.5" cy="281.7" r="2.9"/><circle cx="240.0" cy="282.7" r="2.9"/><circle cx="244.9" cy="295.1" r="2.9"/><circle cx="222.1" cy="293.8" r="2.9"/><circle cx="218.2" cy="288.1" r="2.9"/><circle cx="217.6" cy="290.6" r="2.9"/><circle cx="237.3" cy="287.7" r="2.9"/><circle cx="242.8" cy="288.2" r="2.9"/><circle cx="241.4" cy="299.4" r="2.9"/><circle cx="252.2" cy="278.9" r="2.9"/><circle cx="219.8" cy="284.4" r="2.9"/><circle cx="254.9" cy="287.2" r="2.9"/><circle cx="226.2" cy="299.2" r="2.9"/><circle cx="220.7" cy="297.4" r="2.9"/><circle cx="230.8" cy="299.3" r="2.9"/><circle cx="232.0" cy="279.0" r="2.9"/><circle cx="230.5" cy="293.2" r="2.9"/><circle cx="236.8" cy="275.6" r="2.9"/><circle cx="241.3" cy="284.6" r="2.9"/><circle cx="246.9" cy="293.6" r="2.9"/><circle cx="251.1" cy="283.7" r="2.9"/><circle cx="229.7" cy="281.7" r="2.9"/><circle cx="235.4" cy="293.9" r="2.9"/><circle cx="218.5" cy="287.9" r="2.9"/><circle cx="244.5" cy="284.7" r="2.9"/><circle cx="242.7" cy="283.7" r="2.9"/><circle cx="244.1" cy="277.4" r="2.9"/><circle cx="216.1" cy="282.9" r="2.9"/><circle cx="240.7" cy="298.0" r="2.9"/><circle cx="223.6" cy="296.3" r="2.9"/><circle cx="240.2" cy="297.7" r="2.9"/><circle cx="245.6" cy="281.5" r="2.9"/><circle cx="240.9" cy="285.0" r="2.9"/><circle cx="225.9" cy="280.6" r="2.9"/><circle cx="250.4" cy="278.6" r="2.9"/><circle cx="234.4" cy="275.9" r="2.9"/><circle cx="245.9" cy="295.5" r="2.9"/><circle cx="225.4" cy="281.5" r="2.9"/><circle cx="217.1" cy="288.8" r="2.9"/><circle cx="253.7" cy="291.2" r="2.9"/>
</g>
<g fill="#e377c2" stroke="#e377c2">
<circle cx="280.7" cy="290.4" r="2.9"/><circle cx="284.2" cy="290.4" r="2.9"/><circle cx="293.3" cy="289.8" r="2.9"/><circle cx="291.8" cy="293.3" r="2.9"/><circle cx="295.3" cy="293.3" r="2.9"/><circle cx="294.2" cy="300.0" r="2.9"/><circle cx="260.2" cy="305.7" r="2.9"/><circle cx="263.1" cy="305.4" r="2.9"/><circle cx="266.6" cy="306.2" r="2.9"/><circle cx="268.6" cy="302.1" r="2.9"/><circle cx="271.3" cy="304.2" r="2.9"/><circle cx="273.7" cy="304.5" r="2.9"/><circle cx="276.0" cy="300.4" r="2.9"/><circle cx="278.3" cy="302.7" r="2.9"/><circle cx="280.1" cy="301.0" r="2.9"/><circle cx="286.0" cy="297.4" r="2.9"/><circle cx="286.5" cy="299.8" r="2.9"/><circle cx="262.5" cy="310.3" r="2.9"/><circle cx="252.5" cy="308.6" r="2.9"/><circle cx="250.2" cy="312.5" r="2.9"/><circle cx="284.8" cy="312.7" r="2.9"/><circle cx="287.1" cy="330.0" r="2.9"/><circle cx="277.5" cy="337.3" r="2.9"/><circle cx="265.0" cy="308.0" r="2.9"/><circle cx="270.0" cy="306.0" r="2.9"/><circle cx="275.0" cy="303.5" r="2.9"/><circle cx="282.0" cy="300.0" r="2.9"/><circle cx="258.0" cy="306.5" r="2.9"/><circle cx="120.2" cy="259.6" r="2.9"/><circle cx="116.8" cy="259.8" r="2.9"/><circle cx="119.9" cy="259.4" r="2.9"/><circle cx="116.5" cy="257.1" r="2.9"/><circle cx="115.7" cy="260.1" r="2.9"/><circle cx="120.3" cy="260.2" r="2.9"/><circle cx="119.3" cy="259.7" r="2.9"/><circle cx="113.0" cy="255.9" r="2.9"/><circle cx="114.0" cy="256.7" r="2.9"/><circle cx="118.4" cy="258.3" r="2.9"/><circle cx="119.1" cy="259.4" r="2.9"/><circle cx="118.5" cy="260.4" r="2.9"/><circle cx="113.7" cy="257.3" r="2.9"/><circle cx="120.1" cy="261.5" r="2.9"/><circle cx="120.7" cy="259.7" r="2.9"/><circle cx="117.0" cy="258.5" r="2.9"/><circle cx="229.1" cy="262.9" r="2.9"/><circle cx="220.7" cy="257.4" r="2.9"/><circle cx="243.4" cy="283.9" r="2.9"/><circle cx="212.0" cy="252.9" r="2.9"/><circle cx="212.0" cy="253.7" r="2.9"/><circle cx="218.2" cy="253.5" r="2.9"/><circle cx="225.6" cy="271.6" r="2.9"/><circle cx="221.9" cy="272.6" r="2.9"/><circle cx="215.8" cy="264.1" r="2.9"/><circle cx="221.8" cy="267.6" r="2.9"/><circle cx="220.9" cy="250.3" r="2.9"/><circle cx="216.1" cy="258.9" r="2.9"/><circle cx="226.6" cy="264.5" r="2.9"/><circle cx="224.2" cy="264.4" r="2.9"/><circle cx="222.0" cy="269.3" r="2.9"/><circle cx="221.4" cy="264.1" r="2.9"/><circle cx="235.2" cy="269.8" r="2.9"/><circle cx="227.4" cy="273.4" r="2.9"/><circle cx="226.0" cy="265.7" r="2.9"/><circle cx="225.7" cy="257.8" r="2.9"/><circle cx="243.7" cy="284.1" r="2.9"/><circle cx="207.7" cy="254.4" r="2.9"/><circle cx="211.7" cy="259.8" r="2.9"/><circle cx="242.7" cy="281.8" r="2.9"/><circle cx="235.3" cy="282.7" r="2.9"/><circle cx="208.9" cy="255.4" r="2.9"/><circle cx="210.0" cy="251.0" r="2.9"/><circle cx="232.7" cy="280.1" r="2.9"/><circle cx="246.3" cy="284.2" r="2.9"/><circle cx="231.6" cy="272.1" r="2.9"/><circle cx="214.4" cy="265.1" r="2.9"/><circle cx="232.0" cy="273.1" r="2.9"/><circle cx="232.6" cy="276.5" r="2.9"/><circle cx="216.9" cy="256.0" r="2.9"/><circle cx="228.2" cy="267.0" r="2.9"/><circle cx="221.5" cy="272.0" r="2.9"/><circle cx="233.2" cy="269.9" r="2.9"/><circle cx="239.5" cy="275.6" r="2.9"/><circle cx="230.7" cy="271.3" r="2.9"/><circle cx="219.1" cy="255.6" r="2.9"/><circle cx="228.0" cy="273.6" r="2.9"/><circle cx="226.3" cy="261.1" r="2.9"/><circle cx="235.1" cy="284.8" r="2.9"/><circle cx="216.2" cy="267.4" r="2.9"/><circle cx="210.6" cy="253.8" r="2.9"/><circle cx="222.4" cy="262.2" r="2.9"/><circle cx="229.5" cy="268.8" r="2.9"/><circle cx="226.4" cy="258.2" r="2.9"/><circle cx="209.1" cy="257.0" r="2.9"/><circle cx="224.8" cy="264.4" r="2.9"/><circle cx="234.5" cy="266.4" r="2.9"/><circle cx="227.7" cy="272.1" r="2.9"/><circle cx="233.0" cy="279.7" r="2.9"/><circle cx="237.0" cy="275.8" r="2.9"/><circle cx="246.8" cy="282.8" r="2.9"/><circle cx="230.4" cy="275.1" r="2.9"/><circle cx="206.5" cy="250.1" r="2.9"/><circle cx="222.5" cy="266.9" r="2.9"/><circle cx="222.4" cy="254.2" r="2.9"/><circle cx="226.1" cy="264.2" r="2.9"/><circle cx="237.4" cy="275.1" r="2.9"/><circle cx="214.8" cy="261.8" r="2.9"/><circle cx="222.5" cy="264.0" r="2.9"/><circle cx="217.3" cy="265.8" r="2.9"/><circle cx="232.0" cy="274.4" r="2.9"/><circle cx="207.3" cy="251.8" r="2.9"/><circle cx="232.0" cy="275.6" r="2.9"/><circle cx="212.6" cy="262.6" r="2.9"/><circle cx="235.6" cy="276.6" r="2.9"/><circle cx="231.7" cy="279.5" r="2.9"/><circle cx="228.1" cy="271.3" r="2.9"/><circle cx="214.7" cy="256.1" r="2.9"/><circle cx="235.1" cy="274.8" r="2.9"/><circle cx="220.0" cy="255.1" r="2.9"/><circle cx="223.9" cy="259.6" r="2.9"/><circle cx="245.7" cy="283.1" r="2.9"/><circle cx="225.0" cy="265.5" r="2.9"/><circle cx="226.8" cy="276.3" r="2.9"/><circle cx="226.6" cy="268.4" r="2.9"/><circle cx="230.7" cy="270.0" r="2.9"/><circle cx="247.1" cy="282.4" r="2.9"/><circle cx="216.8" cy="258.5" r="2.9"/><circle cx="239.2" cy="277.8" r="2.9"/><circle cx="230.4" cy="281.4" r="2.9"/><circle cx="233.4" cy="279.3" r="2.9"/><circle cx="239.6" cy="282.5" r="2.9"/><circle cx="239.1" cy="279.7" r="2.9"/><circle cx="239.2" cy="275.6" r="2.9"/><circle cx="234.6" cy="275.1" r="2.9"/><circle cx="229.0" cy="272.0" r="2.9"/><circle cx="235.9" cy="272.3" r="2.9"/><circle cx="237.8" cy="286.2" r="2.9"/><circle cx="245.7" cy="276.3" r="2.9"/><circle cx="243.6" cy="275.3" r="2.9"/><circle cx="241.8" cy="275.5" r="2.9"/><circle cx="239.5" cy="285.5" r="2.9"/><circle cx="241.7" cy="276.4" r="2.9"/><circle cx="243.9" cy="275.1" r="2.9"/><circle cx="248.6" cy="284.4" r="2.9"/><circle cx="236.8" cy="278.8" r="2.9"/><circle cx="234.8" cy="273.8" r="2.9"/><circle cx="240.8" cy="274.4" r="2.9"/><circle cx="235.1" cy="282.2" r="2.9"/><circle cx="237.7" cy="286.5" r="2.9"/><circle cx="240.8" cy="277.1" r="2.9"/><circle cx="237.8" cy="284.8" r="2.9"/><circle cx="235.4" cy="277.8" r="2.9"/><circle cx="243.1" cy="271.9" r="2.9"/><circle cx="236.9" cy="273.8" r="2.9"/><circle cx="238.0" cy="282.6" r="2.9"/><circle cx="241.9" cy="276.2" r="2.9"/><circle cx="243.4" cy="282.1" r="2.9"/><circle cx="247.7" cy="280.9" r="2.9"/><circle cx="244.5" cy="271.0" r="2.9"/><circle cx="241.5" cy="282.9" r="2.9"/><circle cx="249.7" cy="283.8" r="2.9"/><circle cx="244.7" cy="281.9" r="2.9"/><circle cx="247.2" cy="281.6" r="2.9"/><circle cx="238.2" cy="272.6" r="2.9"/><circle cx="238.5" cy="284.5" r="2.9"/><circle cx="246.5" cy="280.1" r="2.9"/><circle cx="234.9" cy="279.7" r="2.9"/><circle cx="243.4" cy="282.5" r="2.9"/><circle cx="237.2" cy="280.9" r="2.9"/><circle cx="238.9" cy="284.6" r="2.9"/><circle cx="243.3" cy="283.0" r="2.9"/><circle cx="246.6" cy="278.7" r="2.9"/><circle cx="242.7" cy="280.6" r="2.9"/><circle cx="238.3" cy="286.6" r="2.9"/><circle cx="234.4" cy="281.6" r="2.9"/><circle cx="248.4" cy="278.8" r="2.9"/><circle cx="234.1" cy="273.2" r="2.9"/><circle cx="237.8" cy="276.3" r="2.9"/><circle cx="234.9" cy="281.2" r="2.9"/><circle cx="240.0" cy="274.5" r="2.9"/>
</g>
<g fill="#7f7f7f" stroke="#7f7f7f">
<circle cx="475.6" cy="87.3" r="2.9"/><circle cx="445.8" cy="105.7" r="2.9"/><circle cx="403.7" cy="108.6" r="2.9"/><circle cx="403.7" cy="135.9" r="2.9"/><circle cx="455.8" cy="140.7" r="2.9"/><circle cx="121.4" cy="225.3" r="2.9"/><circle cx="130.2" cy="220.5" r="2.9"/><circle cx="131.9" cy="238.5" r="2.9"/><circle cx="142.8" cy="233.8" r="2.9"/><circle cx="124.9" cy="227.7" r="2.9"/><circle cx="144.8" cy="236.3" r="2.9"/><circle cx="133.8" cy="233.5" r="2.9"/><circle cx="139.4" cy="237.6" r="2.9"/><circle cx="113.0" cy="233.7" r="2.9"/><circle cx="124.5" cy="230.2" r="2.9"/><circle cx="134.0" cy="227.4" r="2.9"/><circle cx="123.6" cy="237.0" r="2.9"/><circle cx="128.5" cy="237.9" r="2.9"/><circle cx="115.7" cy="235.1" r="2.9"/><circle cx="137.6" cy="228.7" r="2.9"/><circle cx="119.0" cy="236.4" r="2.9"/><circle cx="144.0" cy="236.0" r="2.9"/><circle cx="119.0" cy="235.7" r="2.9"/><circle cx="128.9" cy="228.8" r="2.9"/><circle cx="144.1" cy="231.8" r="2.9"/><circle cx="117.6" cy="234.8" r="2.9"/><circle cx="118.7" cy="232.3" r="2.9"/><circle cx="120.3" cy="235.8" r="2.9"/><circle cx="123.9" cy="235.0" r="2.9"/><circle cx="127.0" cy="226.1" r="2.9"/><circle cx="131.1" cy="224.2" r="2.9"/><circle cx="122.1" cy="231.5" r="2.9"/><circle cx="135.9" cy="231.7" r="2.9"/><circle cx="119.9" cy="231.1" r="2.9"/><circle cx="140.9" cy="236.9" r="2.9"/><circle cx="144.3" cy="234.3" r="2.9"/><circle cx="118.4" cy="235.6" r="2.9"/><circle cx="117.9" cy="231.3" r="2.9"/><circle cx="133.9" cy="236.5" r="2.9"/><circle cx="133.0" cy="235.8" r="2.9"/><circle cx="131.9" cy="235.2" r="2.9"/><circle cx="136.0" cy="231.9" r="2.9"/><circle cx="129.3" cy="235.5" r="2.9"/><circle cx="143.1" cy="234.2" r="2.9"/><circle cx="126.5" cy="237.2" r="2.9"/><circle cx="126.8" cy="237.5" r="2.9"/><circle cx="137.3" cy="234.2" r="2.9"/><circle cx="125.4" cy="230.1" r="2.9"/><circle cx="130.8" cy="234.3" r="2.9"/><circle cx="123.9" cy="230.9" r="2.9"/><circle cx="143.5" cy="236.9" r="2.9"/><circle cx="139.8" cy="236.7" r="2.9"/><circle cx="121.8" cy="230.6" r="2.9"/><circle cx="123.0" cy="227.5" r="2.9"/><circle cx="128.1" cy="235.9" r="2.9"/><circle cx="121.8" cy="229.9" r="2.9"/><circle cx="128.8" cy="233.5" r="2.9"/><circle cx="221.5" cy="220.0" r="2.9"/><circle cx="221.5" cy="230.3" r="2.9"/><circle cx="200.0" cy="222.5" r="2.9"/><circle cx="208.5" cy="232.9" r="2.9"/><circle cx="198.7" cy="228.5" r="2.9"/><circle cx="198.9" cy="229.4" r="2.9"/><circle cx="209.1" cy="221.9" r="2.9"/><circle cx="206.8" cy="211.1" r="2.9"/><circle cx="200.7" cy="231.1" r="2.9"/><circle cx="211.5" cy="216.0" r="2.9"/><circle cx="210.6" cy="227.6" r="2.9"/><circle cx="207.8" cy="220.5" r="2.9"/><circle cx="228.1" cy="208.2" r="2.9"/><circle cx="207.0" cy="225.1" r="2.9"/><circle cx="223.3" cy="213.5" r="2.9"/><circle cx="227.2" cy="225.8" r="2.9"/><circle cx="227.8" cy="217.1" r="2.9"/><circle cx="204.3" cy="212.3" r="2.9"/><circle cx="212.7" cy="228.2" r="2.9"/><circle cx="200.4" cy="215.3" r="2.9"/><circle cx="210.1" cy="215.0" r="2.9"/><circle cx="202.6" cy="231.9" r="2.9"/><circle cx="222.5" cy="232.8" r="2.9"/><circle cx="219.1" cy="230.9" r="2.9"/><circle cx="225.9" cy="229.6" r="2.9"/><circle cx="206.0" cy="230.0" r="2.9"/><circle cx="211.7" cy="225.4" r="2.9"/><circle cx="207.9" cy="228.8" r="2.9"/><circle cx="218.1" cy="235.1" r="2.9"/><circle cx="225.1" cy="217.4" r="2.9"/><circle cx="207.7" cy="224.2" r="2.9"/><circle cx="220.4" cy="221.0" r="2.9"/><circle cx="212.7" cy="234.7" r="2.9"/><circle cx="222.8" cy="226.2" r="2.9"/><circle cx="211.6" cy="229.8" r="2.9"/><circle cx="214.5" cy="218.4" r="2.9"/><circle cx="209.1" cy="230.1" r="2.9"/><circle cx="210.1" cy="233.2" r="2.9"/><circle cx="216.5" cy="234.2" r="2.9"/><circle cx="220.1" cy="226.3" r="2.9"/><circle cx="202.9" cy="224.7" r="2.9"/><circle cx="220.4" cy="229.7" r="2.9"/><circle cx="224.9" cy="222.1" r="2.9"/><circle cx="197.9" cy="221.9" r="2.9"/><circle cx="225.5" cy="226.3" r="2.9"/><circle cx="229.2" cy="225.2" r="2.9"/><circle cx="203.2" cy="232.6" r="2.9"/><circle cx="213.4" cy="228.5" r="2.9"/><circle cx="219.4" cy="224.0" r="2.9"/><circle cx="215.4" cy="216.8" r="2.9"/><circle cx="221.5" cy="226.3" r="2.9"/><circle cx="214.2" cy="223.5" r="2.9"/><circle cx="204.9" cy="208.4" r="2.9"/><circle cx="201.2" cy="230.5" r="2.9"/><circle cx="210.9" cy="212.7" r="2.9"/><circle cx="229.6" cy="223.9" r="2.9"/><circle cx="217.0" cy="206.6" r="2.9"/><circle cx="199.2" cy="219.7" r="2.9"/><circle cx="210.5" cy="227.2" r="2.9"/><circle cx="198.7" cy="228.4" r="2.9"/><circle cx="208.5" cy="209.7" r="2.9"/><circle cx="219.9" cy="217.9" r="2.9"/><circle cx="219.3" cy="232.4" r="2.9"/><circle cx="215.3" cy="234.1" r="2.9"/><circle cx="217.9" cy="216.7" r="2.9"/><circle cx="215.8" cy="222.1" r="2.9"/><circle cx="224.2" cy="229.8" r="2.9"/><circle cx="213.5" cy="223.0" r="2.9"/><circle cx="210.4" cy="221.0" r="2.9"/><circle cx="219.0" cy="230.0" r="2.9"/><circle cx="209.1" cy="233.6" r="2.9"/><circle cx="209.9" cy="217.1" r="2.9"/><circle cx="203.4" cy="224.4" r="2.9"/><circle cx="219.0" cy="229.6" r="2.9"/><circle cx="225.9" cy="227.1" r="2.9"/><circle cx="222.2" cy="210.6" r="2.9"/><circle cx="220.4" cy="221.5" r="2.9"/><circle cx="218.4" cy="228.5" r="2.9"/><circle cx="201.7" cy="211.9" r="2.9"/><circle cx="201.9" cy="213.8" r="2.9"/><circle cx="229.5" cy="222.4" r="2.9"/><circle cx="218.2" cy="221.4" r="2.9"/><circle cx="219.4" cy="231.2" r="2.9"/><circle cx="199.6" cy="227.4" r="2.9"/><circle cx="224.8" cy="224.3" r="2.9"/><circle cx="227.8" cy="226.6" r="2.9"/><circle cx="211.7" cy="209.5" r="2.9"/><circle cx="193.6" cy="218.2" r="2.9"/><circle cx="217.8" cy="228.5" r="2.9"/><circle cx="216.9" cy="229.8" r="2.9"/><circle cx="252.7" cy="251.5" r="2.9"/><circle cx="246.7" cy="244.1" r="2.9"/><circle cx="256.0" cy="245.3" r="2.9"/><circle cx="240.1" cy="254.1" r="2.9"/><circle cx="237.2" cy="242.4" r="2.9"/><circle cx="244.4" cy="250.7" r="2.9"/><circle cx="245.5" cy="251.3" r="2.9"/><circle cx="247.9" cy="245.3" r="2.9"/><circle cx="249.1" cy="244.7" r="2.9"/><circle cx="255.3" cy="246.1" r="2.9"/><circle cx="249.9" cy="248.5" r="2.9"/><circle cx="243.7" cy="249.6" r="2.9"/><circle cx="257.7" cy="252.2" r="2.9"/><circle cx="240.9" cy="253.8" r="2.9"/><circle cx="239.7" cy="249.0" r="2.9"/><circle cx="236.4" cy="242.2" r="2.9"/><circle cx="245.6" cy="242.2" r="2.9"/><circle cx="244.1" cy="253.4" r="2.9"/><circle cx="249.7" cy="246.9" r="2.9"/><circle cx="241.4" cy="244.6" r="2.9"/><circle cx="240.5" cy="246.4" r="2.9"/><circle cx="243.3" cy="246.1" r="2.9"/><circle cx="240.5" cy="244.4" r="2.9"/><circle cx="242.1" cy="245.6" r="2.9"/><circle cx="254.1" cy="252.9" r="2.9"/><circle cx="240.8" cy="251.5" r="2.9"/><circle cx="240.9" cy="243.9" r="2.9"/><circle cx="239.0" cy="246.9" r="2.9"/><circle cx="240.2" cy="242.6" r="2.9"/><circle cx="240.1" cy="254.1" r="2.9"/><circle cx="239.1" cy="250.3" r="2.9"/><circle cx="253.5" cy="250.1" r="2.9"/><circle cx="244.9" cy="245.2" r="2.9"/><circle cx="253.7" cy="247.9" r="2.9"/><circle cx="250.3" cy="250.6" r="2.9"/><circle cx="241.3" cy="244.2" r="2.9"/><circle cx="254.1" cy="252.3" r="2.9"/><circle cx="252.8" cy="243.3" r="2.9"/><circle cx="255.3" cy="243.3" r="2.9"/><circle cx="248.5" cy="246.9" r="2.9"/><circle cx="255.5" cy="251.1" r="2.9"/><circle cx="248.2" cy="248.9" r="2.9"/><circle cx="238.9" cy="246.0" r="2.9"/><circle cx="241.2" cy="250.5" r="2.9"/><circle cx="246.1" cy="250.0" r="2.9"/><circle cx="250.8" cy="250.2" r="2.9"/><circle cx="255.1" cy="243.3" r="2.9"/><circle cx="247.2" cy="249.2" r="2.9"/><circle cx="242.4" cy="254.2" r="2.9"/><circle cx="254.6" cy="247.7" r="2.9"/><circle cx="245.4" cy="247.2" r="2.9"/><circle cx="239.9" cy="247.6" r="2.9"/><circle cx="255.6" cy="243.5" r="2.9"/><circle cx="254.9" cy="246.4" r="2.9"/><circle cx="248.8" cy="247.5" r="2.9"/><circle cx="254.3" cy="243.8" r="2.9"/><circle cx="236.7" cy="241.1" r="2.9"/><circle cx="242.6" cy="246.9" r="2.9"/><circle cx="246.3" cy="253.7" r="2.9"/><circle cx="243.6" cy="245.0" r="2.9"/><circle cx="198.6" cy="259.8" r="2.9"/><circle cx="199.8" cy="265.8" r="2.9"/><circle cx="203.3" cy="263.2" r="2.9"/><circle cx="214.8" cy="259.7" r="2.9"/><circle cx="202.2" cy="257.5" r="2.9"/><circle cx="199.7" cy="278.3" r="2.9"/><circle cx="197.4" cy="262.3" r="2.9"/><circle cx="217.1" cy="270.1" r="2.9"/><circle cx="205.3" cy="261.8" r="2.9"/><circle cx="204.1" cy="272.3" r="2.9"/><circle cx="207.8" cy="272.3" r="2.9"/><circle cx="217.4" cy="277.6" r="2.9"/><circle cx="216.4" cy="270.6" r="2.9"/><circle cx="220.7" cy="271.0" r="2.9"/><circle cx="204.3" cy="271.7" r="2.9"/><circle cx="203.8" cy="269.0" r="2.9"/><circle cx="197.9" cy="265.7" r="2.9"/><circle cx="208.1" cy="263.5" r="2.9"/><circle cx="209.9" cy="271.0" r="2.9"/><circle cx="200.5" cy="267.4" r="2.9"/><circle cx="202.8" cy="264.3" r="2.9"/><circle cx="203.7" cy="261.7" r="2.9"/><circle cx="214.3" cy="272.2" r="2.9"/><circle cx="207.3" cy="262.7" r="2.9"/><circle cx="202.5" cy="271.6" r="2.9"/><circle cx="207.0" cy="272.3" r="2.9"/><circle cx="214.3" cy="274.5" r="2.9"/><circle cx="209.9" cy="271.6" r="2.9"/><circle cx="219.9" cy="272.8" r="2.9"/><circle cx="204.3" cy="259.6" r="2.9"/><circle cx="198.4" cy="259.9" r="2.9"/><circle cx="210.9" cy="277.2" r="2.9"/><circle cx="216.9" cy="270.2" r="2.9"/><circle cx="194.4" cy="263.4" r="2.9"/><circle cx="209.8" cy="273.4" r="2.9"/><circle cx="198.7" cy="270.0" r="2.9"/><circle cx="205.1" cy="260.9" r="2.9"/><circle cx="216.6" cy="274.4" r="2.9"/><circle cx="198.2" cy="266.8" r="2.9"/><circle cx="209.8" cy="273.2" r="2.9"/><circle cx="202.8" cy="259.9" r="2.9"/><circle cx="209.7" cy="258.6" r="2.9"/><circle cx="205.9" cy="277.4" r="2.9"/><circle cx="202.5" cy="280.7" r="2.9"/><circle cx="195.2" cy="267.2" r="2.9"/><circle cx="204.3" cy="269.1" r="2.9"/><circle cx="201.6" cy="272.5" r="2.9"/><circle cx="208.3" cy="271.6" r="2.9"/><circle cx="211.4" cy="267.4" r="2.9"/><circle cx="215.2" cy="264.8" r="2.9"/><circle cx="208.1" cy="274.9" r="2.9"/><circle cx="212.3" cy="260.9" r="2.9"/><circle cx="203.5" cy="272.6" r="2.9"/><circle cx="214.2" cy="266.8" r="2.9"/><circle cx="199.7" cy="264.0" r="2.9"/><circle cx="197.1" cy="257.2" r="2.9"/><circle cx="206.5" cy="270.1" r="2.9"/><circle cx="196.8" cy="273.4" r="2.9"/><circle cx="200.2" cy="276.1" r="2.9"/><circle cx="215.4" cy="279.9" r="2.9"/><circle cx="208.2" cy="270.1" r="2.9"/><circle cx="203.6" cy="270.0" r="2.9"/><circle cx="215.2" cy="264.4" r="2.9"/><circle cx="215.6" cy="271.7" r="2.9"/><circle cx="209.7" cy="264.6" r="2.9"/><circle cx="214.9" cy="268.6" r="2.9"/><circle cx="223.9" cy="279.3" r="2.9"/><circle cx="204.2" cy="280.2" r="2.9"/><circle cx="197.5" cy="269.6" r="2.9"/><circle cx="213.7" cy="277.5" r="2.9"/><circle cx="223.9" cy="279.9" r="2.9"/><circle cx="202.8" cy="259.6" r="2.9"/><circle cx="222.1" cy="280.1" r="2.9"/><circle cx="216.9" cy="270.1" r="2.9"/><circle cx="213.9" cy="278.0" r="2.9"/><circle cx="216.3" cy="273.1" r="2.9"/><circle cx="205.3" cy="260.6" r="2.9"/><circle cx="193.3" cy="262.2" r="2.9"/><circle cx="209.3" cy="270.3" r="2.9"/><circle cx="223.1" cy="278.0" r="2.9"/><circle cx="213.0" cy="267.3" r="2.9"/><circle cx="215.4" cy="274.7" r="2.9"/><circle cx="213.3" cy="271.2" r="2.9"/><circle cx="212.6" cy="262.2" r="2.9"/><circle cx="214.3" cy="279.1" r="2.9"/><circle cx="219.9" cy="274.1" r="2.9"/><circle cx="203.8" cy="281.1" r="2.9"/><circle cx="219.3" cy="267.3" r="2.9"/><circle cx="212.2" cy="284.2" r="2.9"/><circle cx="220.7" cy="273.2" r="2.9"/><circle cx="215.4" cy="262.2" r="2.9"/><circle cx="213.1" cy="267.7" r="2.9"/><circle cx="208.7" cy="275.5" r="2.9"/><circle cx="217.8" cy="275.1" r="2.9"/><circle cx="209.3" cy="268.2" r="2.9"/><circle cx="203.0" cy="263.5" r="2.9"/><circle cx="210.4" cy="267.0" r="2.9"/><circle cx="203.4" cy="264.9" r="2.9"/><circle cx="200.6" cy="268.7" r="2.9"/><circle cx="204.8" cy="277.7" r="2.9"/><circle cx="216.6" cy="264.8" r="2.9"/><circle cx="201.1" cy="270.9" r="2.9"/><circle cx="206.3" cy="284.0" r="2.9"/><circle cx="206.3" cy="268.5" r="2.9"/><circle cx="219.7" cy="274.5" r="2.9"/><circle cx="214.8" cy="276.3" r="2.9"/><circle cx="205.6" cy="268.4" r="2.9"/><circle cx="205.2" cy="274.3" r="2.9"/><circle cx="218.4" cy="274.4" r="2.9"/><circle cx="210.2" cy="263.1" r="2.9"/><circle cx="218.6" cy="277.7" r="2.9"/><circle cx="221.0" cy="281.9" r="2.9"/><circle cx="215.0" cy="276.7" r="2.9"/><circle cx="205.7" cy="283.0" r="2.9"/><circle cx="214.7" cy="276.4" r="2.9"/><circle cx="216.0" cy="271.2" r="2.9"/><circle cx="201.9" cy="276.3" r="2.9"/><circle cx="224.5" cy="282.2" r="2.9"/><circle cx="205.0" cy="275.0" r="2.9"/><circle cx="214.1" cy="269.3" r="2.9"/><circle cx="220.0" cy="263.5" r="2.9"/><circle cx="203.0" cy="262.9" r="2.9"/><circle cx="204.4" cy="263.9" r="2.9"/><circle cx="203.9" cy="284.5" r="2.9"/><circle cx="207.4" cy="263.5" r="2.9"/><circle cx="212.9" cy="272.9" r="2.9"/><circle cx="209.4" cy="262.4" r="2.9"/><circle cx="218.6" cy="265.3" r="2.9"/><circle cx="201.7" cy="279.1" r="2.9"/><circle cx="201.5" cy="268.8" r="2.9"/><circle cx="222.2" cy="271.7" r="2.9"/><circle cx="207.6" cy="266.5" r="2.9"/><circle cx="223.5" cy="280.7" r="2.9"/><circle cx="210.2" cy="268.2" r="2.9"/><circle cx="208.2" cy="271.5" r="2.9"/><circle cx="204.7" cy="269.0" r="2.9"/><circle cx="218.3" cy="280.0" r="2.9"/><circle cx="224.6" cy="275.3" r="2.9"/><circle cx="214.0" cy="265.9" r="2.9"/><circle cx="205.9" cy="281.4" r="2.9"/>
</g>
<g fill="#bcbd22" stroke="#bcbd22">
<circle cx="139.0" cy="211.7" r="2.9"/><circle cx="164.7" cy="212.5" r="2.9"/><circle cx="86.0" cy="234.0" r="2.9"/><circle cx="86.3" cy="236.6" r="2.9"/><circle cx="94.0" cy="236.6" r="2.9"/><circle cx="110.2" cy="234.8" r="2.9"/><circle cx="102.2" cy="235.8" r="2.9"/><circle cx="96.6" cy="237.6" r="2.9"/><circle cx="110.6" cy="239.8" r="2.9"/><circle cx="95.6" cy="234.0" r="2.9"/><circle cx="103.4" cy="237.8" r="2.9"/><circle cx="106.4" cy="238.4" r="2.9"/><circle cx="95.0" cy="240.7" r="2.9"/><circle cx="111.6" cy="233.9" r="2.9"/><circle cx="112.9" cy="238.4" r="2.9"/><circle cx="106.6" cy="241.3" r="2.9"/><circle cx="104.1" cy="238.3" r="2.9"/><circle cx="99.4" cy="239.5" r="2.9"/><circle cx="100.1" cy="236.0" r="2.9"/><circle cx="111.2" cy="236.7" r="2.9"/><circle cx="105.3" cy="239.6" r="2.9"/><circle cx="107.6" cy="233.9" r="2.9"/><circle cx="96.2" cy="237.0" r="2.9"/><circle cx="115.2" cy="234.7" r="2.9"/><circle cx="97.8" cy="242.9" r="2.9"/><circle cx="104.8" cy="233.8" r="2.9"/><circle cx="106.7" cy="239.1" r="2.9"/><circle cx="100.7" cy="235.0" r="2.9"/><circle cx="112.8" cy="237.8" r="2.9"/><circle cx="98.4" cy="241.4" r="2.9"/><circle cx="107.1" cy="237.4" r="2.9"/><circle cx="112.7" cy="236.3" r="2.9"/><circle cx="107.8" cy="236.4" r="2.9"/><circle cx="111.1" cy="233.7" r="2.9"/><circle cx="106.3" cy="241.9" r="2.9"/><circle cx="108.9" cy="234.8" r="2.9"/><circle cx="99.4" cy="234.2" r="2.9"/><circle cx="98.8" cy="235.4" r="2.9"/><circle cx="103.4" cy="238.5" r="2.9"/><circle cx="109.3" cy="239.3" r="2.9"/><circle cx="112.8" cy="237.1" r="2.9"/><circle cx="91.8" cy="237.4" r="2.9"/><circle cx="114.7" cy="235.1" r="2.9"/><circle cx="107.6" cy="241.0" r="2.9"/><circle cx="100.4" cy="234.5" r="2.9"/><circle cx="111.8" cy="233.4" r="2.9"/><circle cx="102.5" cy="239.4" r="2.9"/><circle cx="102.1" cy="239.9" r="2.9"/><circle cx="100.7" cy="241.6" r="2.9"/><circle cx="109.0" cy="233.4" r="2.9"/><circle cx="144.1" cy="229.2" r="2.9"/><circle cx="144.8" cy="232.4" r="2.9"/><circle cx="171.1" cy="233.5" r="2.9"/><circle cx="160.2" cy="235.9" r="2.9"/><circle cx="139.2" cy="237.2" r="2.9"/><circle cx="160.6" cy="233.5" r="2.9"/><circle cx="173.2" cy="232.2" r="2.9"/><circle cx="138.7" cy="234.8" r="2.9"/><circle cx="169.5" cy="235.5" r="2.9"/><circle cx="142.9" cy="222.6" r="2.9"/><circle cx="163.2" cy="237.7" r="2.9"/><circle cx="167.1" cy="224.0" r="2.9"/><circle cx="163.4" cy="223.3" r="2.9"/><circle cx="147.9" cy="234.3" r="2.9"/><circle cx="142.4" cy="230.1" r="2.9"/><circle cx="148.1" cy="235.7" r="2.9"/><circle cx="148.8" cy="235.5" r="2.9"/><circle cx="152.0" cy="234.8" r="2.9"/><circle cx="154.6" cy="225.0" r="2.9"/><circle cx="146.1" cy="224.6" r="2.9"/><circle cx="156.7" cy="220.2" r="2.9"/><circle cx="155.5" cy="236.6" r="2.9"/><circle cx="170.0" cy="238.0" r="2.9"/><circle cx="151.7" cy="235.6" r="2.9"/><circle cx="168.1" cy="229.1" r="2.9"/><circle cx="159.0" cy="240.0" r="2.9"/><circle cx="150.0" cy="231.4" r="2.9"/><circle cx="167.7" cy="230.9" r="2.9"/><circle cx="165.1" cy="227.6" r="2.9"/><circle cx="158.0" cy="233.9" r="2.9"/><circle cx="168.3" cy="239.3" r="2.9"/><circle cx="144.4" cy="237.6" r="2.9"/><circle cx="144.3" cy="229.5" r="2.9"/><circle cx="142.3" cy="236.7" r="2.9"/><circle cx="138.5" cy="238.1" r="2.9"/><circle cx="162.5" cy="229.9" r="2.9"/><circle cx="148.5" cy="219.7" r="2.9"/><circle cx="155.2" cy="226.5" r="2.9"/><circle cx="153.0" cy="238.5" r="2.9"/><circle cx="165.2" cy="224.2" r="2.9"/><circle cx="160.3" cy="239.6" r="2.9"/><circle cx="150.3" cy="239.6" r="2.9"/><circle cx="155.0" cy="231.2" r="2.9"/><circle cx="171.0" cy="240.8" r="2.9"/><circle cx="172.9" cy="239.8" r="2.9"/><circle cx="155.4" cy="228.6" r="2.9"/><circle cx="165.9" cy="231.2" r="2.9"/><circle cx="146.5" cy="223.8" r="2.9"/><circle cx="166.1" cy="226.9" r="2.9"/><circle cx="139.3" cy="227.6" r="2.9"/><circle cx="150.9" cy="232.2" r="2.9"/><circle cx="145.5" cy="224.2" r="2.9"/><circle cx="148.6" cy="232.1" r="2.9"/><circle cx="139.6" cy="230.2" r="2.9"/><circle cx="150.4" cy="225.9" r="2.9"/><circle cx="158.4" cy="220.2" r="2.9"/><circle cx="172.3" cy="228.3" r="2.9"/><circle cx="173.5" cy="238.7" r="2.9"/><circle cx="161.4" cy="220.8" r="2.9"/><circle cx="150.4" cy="226.0" r="2.9"/><circle cx="163.0" cy="230.8" r="2.9"/><circle cx="147.6" cy="231.6" r="2.9"/><circle cx="161.7" cy="230.2" r="2.9"/><circle cx="163.6" cy="236.8" r="2.9"/><circle cx="169.5" cy="240.5" r="2.9"/><circle cx="152.9" cy="225.5" r="2.9"/><circle cx="156.6" cy="238.0" r="2.9"/><circle cx="148.4" cy="239.6" r="2.9"/><circle cx="161.1" cy="234.9" r="2.9"/><circle cx="140.1" cy="228.1" r="2.9"/><circle cx="158.0" cy="227.1" r="2.9"/><circle cx="155.2" cy="237.8" r="2.9"/><circle cx="148.6" cy="234.7" r="2.9"/><circle cx="167.9" cy="230.7" r="2.9"/><circle cx="141.6" cy="233.6" r="2.9"/><circle cx="170.9" cy="236.6" r="2.9"/><circle cx="145.5" cy="238.1" r="2.9"/><circle cx="148.8" cy="221.3" r="2.9"/><circle cx="153.6" cy="228.2" r="2.9"/><circle cx="148.7" cy="227.5" r="2.9"/><circle cx="147.1" cy="234.7" r="2.9"/><circle cx="162.9" cy="220.6" r="2.9"/><circle cx="159.9" cy="225.7" r="2.9"/><circle cx="167.8" cy="231.1" r="2.9"/><circle cx="152.4" cy="230.0" r="2.9"/><circle cx="166.4" cy="235.0" r="2.9"/><circle cx="164.6" cy="228.0" r="2.9"/><circle cx="144.5" cy="232.9" r="2.9"/><circle cx="170.3" cy="229.0" r="2.9"/><circle cx="153.1" cy="239.5" r="2.9"/><circle cx="140.7" cy="229.7" r="2.9"/><circle cx="144.9" cy="226.8" r="2.9"/><circle cx="168.4" cy="239.6" r="2.9"/><circle cx="142.4" cy="238.1" r="2.9"/><circle cx="165.8" cy="228.6" r="2.9"/><circle cx="224.0" cy="243.9" r="2.9"/><circle cx="215.3" cy="255.1" r="2.9"/><circle cx="229.8" cy="244.0" r="2.9"/><circle cx="217.3" cy="241.5" r="2.9"/><circle cx="209.7" cy="233.9" r="2.9"/><circle cx="216.7" cy="235.7" r="2.9"/><circle cx="233.2" cy="246.8" r="2.9"/><circle cx="219.6" cy="239.1" r="2.9"/><circle cx="237.5" cy="251.8" r="2.9"/><circle cx="212.9" cy="245.1" r="2.9"/><circle cx="225.2" cy="235.8" r="2.9"/><circle cx="209.2" cy="235.6" r="2.9"/><circle cx="216.3" cy="240.1" r="2.9"/><circle cx="209.4" cy="235.6" r="2.9"/><circle cx="227.9" cy="249.3" r="2.9"/><circle cx="227.6" cy="245.7" r="2.9"/><circle cx="209.5" cy="237.9" r="2.9"/><circle cx="213.0" cy="245.2" r="2.9"/><circle cx="220.4" cy="252.2" r="2.9"/><circle cx="220.8" cy="239.3" r="2.9"/><circle cx="227.4" cy="243.1" r="2.9"/><circle cx="227.6" cy="253.7" r="2.9"/><circle cx="229.0" cy="252.4" r="2.9"/><circle cx="221.7" cy="246.9" r="2.9"/><circle cx="231.5" cy="249.5" r="2.9"/><circle cx="218.5" cy="243.8" r="2.9"/><circle cx="219.8" cy="252.2" r="2.9"/><circle cx="217.5" cy="239.4" r="2.9"/><circle cx="220.4" cy="236.7" r="2.9"/><circle cx="228.1" cy="240.0" r="2.9"/><circle cx="214.6" cy="248.9" r="2.9"/><circle cx="233.8" cy="246.1" r="2.9"/><circle cx="213.5" cy="248.1" r="2.9"/><circle cx="216.9" cy="240.7" r="2.9"/><circle cx="235.2" cy="245.4" r="2.9"/><circle cx="226.9" cy="245.9" r="2.9"/><circle cx="228.1" cy="244.3" r="2.9"/><circle cx="212.6" cy="240.4" r="2.9"/><circle cx="219.3" cy="252.4" r="2.9"/><circle cx="224.9" cy="235.3" r="2.9"/><circle cx="227.6" cy="239.7" r="2.9"/><circle cx="209.1" cy="238.3" r="2.9"/><circle cx="219.7" cy="243.2" r="2.9"/><circle cx="223.0" cy="242.1" r="2.9"/><circle cx="215.3" cy="239.2" r="2.9"/><circle cx="220.8" cy="249.4" r="2.9"/><circle cx="234.4" cy="241.8" r="2.9"/><circle cx="232.0" cy="242.1" r="2.9"/><circle cx="226.6" cy="235.5" r="2.9"/><circle cx="209.9" cy="238.2" r="2.9"/><circle cx="215.1" cy="236.4" r="2.9"/><circle cx="220.7" cy="241.7" r="2.9"/><circle cx="229.0" cy="245.9" r="2.9"/><circle cx="225.0" cy="248.6" r="2.9"/><circle cx="221.0" cy="251.0" r="2.9"/><circle cx="213.3" cy="242.2" r="2.9"/><circle cx="220.2" cy="238.3" r="2.9"/><circle cx="216.9" cy="241.8" r="2.9"/><circle cx="213.7" cy="247.1" r="2.9"/><circle cx="214.7" cy="247.3" r="2.9"/><circle cx="215.3" cy="245.9" r="2.9"/><circle cx="216.5" cy="253.2" r="2.9"/><circle cx="217.8" cy="237.5" r="2.9"/><circle cx="233.8" cy="249.0" r="2.9"/><circle cx="221.1" cy="244.6" r="2.9"/><circle cx="232.9" cy="245.6" r="2.9"/><circle cx="220.3" cy="241.6" r="2.9"/><circle cx="228.1" cy="242.3" r="2.9"/><circle cx="232.3" cy="248.4" r="2.9"/><circle cx="229.0" cy="242.1" r="2.9"/><circle cx="232.6" cy="237.7" r="2.9"/><circle cx="237.3" cy="252.0" r="2.9"/><circle cx="227.9" cy="246.5" r="2.9"/><circle cx="225.6" cy="243.7" r="2.9"/><circle cx="214.4" cy="234.5" r="2.9"/><circle cx="230.9" cy="245.7" r="2.9"/><circle cx="235.9" cy="248.0" r="2.9"/><circle cx="219.8" cy="252.0" r="2.9"/><circle cx="216.2" cy="242.2" r="2.9"/><circle cx="229.9" cy="245.3" r="2.9"/><circle cx="221.8" cy="237.6" r="2.9"/><circle cx="218.3" cy="253.6" r="2.9"/><circle cx="222.4" cy="251.7" r="2.9"/><circle cx="212.7" cy="248.4" r="2.9"/><circle cx="216.9" cy="237.9" r="2.9"/><circle cx="217.1" cy="246.4" r="2.9"/><circle cx="229.4" cy="249.2" r="2.9"/><circle cx="223.5" cy="247.5" r="2.9"/><circle cx="232.2" cy="249.5" r="2.9"/><circle cx="225.5" cy="246.4" r="2.9"/><circle cx="225.5" cy="238.5" r="2.9"/><circle cx="226.8" cy="249.7" r="2.9"/><circle cx="216.4" cy="253.2" r="2.9"/><circle cx="219.1" cy="244.8" r="2.9"/><circle cx="221.6" cy="242.8" r="2.9"/><circle cx="215.6" cy="236.8" r="2.9"/><circle cx="222.3" cy="251.0" r="2.9"/><circle cx="219.3" cy="251.0" r="2.9"/><circle cx="232.9" cy="249.5" r="2.9"/><circle cx="218.9" cy="250.6" r="2.9"/><circle cx="227.9" cy="245.6" r="2.9"/><circle cx="215.4" cy="246.7" r="2.9"/><circle cx="225.8" cy="239.5" r="2.9"/><circle cx="219.4" cy="238.2" r="2.9"/><circle cx="217.7" cy="235.6" r="2.9"/><circle cx="231.7" cy="238.8" r="2.9"/><circle cx="226.5" cy="240.2" r="2.9"/><circle cx="232.9" cy="236.8" r="2.9"/><circle cx="220.6" cy="253.8" r="2.9"/><circle cx="217.9" cy="249.7" r="2.9"/><circle cx="225.7" cy="256.9" r="2.9"/><circle cx="241.8" cy="254.5" r="2.9"/><circle cx="237.7" cy="250.7" r="2.9"/><circle cx="240.4" cy="253.9" r="2.9"/><circle cx="232.0" cy="249.9" r="2.9"/><circle cx="249.5" cy="255.1" r="2.9"/><circle cx="226.8" cy="256.7" r="2.9"/><circle cx="252.6" cy="256.5" r="2.9"/><circle cx="236.6" cy="251.3" r="2.9"/><circle cx="226.0" cy="257.2" r="2.9"/><circle cx="250.4" cy="252.4" r="2.9"/><circle cx="223.4" cy="250.6" r="2.9"/><circle cx="234.8" cy="255.2" r="2.9"/><circle cx="231.3" cy="251.4" r="2.9"/><circle cx="233.9" cy="256.0" r="2.9"/><circle cx="242.2" cy="251.3" r="2.9"/><circle cx="236.9" cy="259.6" r="2.9"/><circle cx="241.8" cy="249.5" r="2.9"/><circle cx="223.1" cy="253.3" r="2.9"/><circle cx="236.0" cy="252.9" r="2.9"/><circle cx="241.6" cy="258.2" r="2.9"/><circle cx="250.9" cy="259.1" r="2.9"/><circle cx="225.4" cy="255.0" r="2.9"/><circle cx="232.2" cy="256.0" r="2.9"/><circle cx="243.6" cy="254.4" r="2.9"/><circle cx="242.7" cy="249.8" r="2.9"/><circle cx="217.7" cy="245.8" r="2.9"/><circle cx="249.0" cy="257.8" r="2.9"/><circle cx="240.0" cy="257.2" r="2.9"/><circle cx="230.1" cy="257.3" r="2.9"/><circle cx="233.8" cy="249.4" r="2.9"/><circle cx="237.1" cy="252.1" r="2.9"/><circle cx="250.3" cy="257.9" r="2.9"/><circle cx="235.0" cy="249.6" r="2.9"/><circle cx="249.3" cy="251.6" r="2.9"/><circle cx="243.3" cy="254.9" r="2.9"/><circle cx="240.5" cy="257.1" r="2.9"/><circle cx="237.4" cy="256.2" r="2.9"/><circle cx="223.9" cy="252.4" r="2.9"/><circle cx="224.9" cy="255.6" r="2.9"/><circle cx="247.8" cy="258.2" r="2.9"/><circle cx="232.9" cy="255.4" r="2.9"/><circle cx="245.2" cy="254.9" r="2.9"/><circle cx="230.5" cy="249.1" r="2.9"/><circle cx="251.8" cy="260.7" r="2.9"/><circle cx="230.7" cy="257.7" r="2.9"/><circle cx="247.9" cy="259.2" r="2.9"/><circle cx="223.7" cy="255.7" r="2.9"/><circle cx="231.9" cy="247.9" r="2.9"/><circle cx="253.9" cy="259.8" r="2.9"/>
</g>
<g fill="#17becf" stroke="#17becf">
<circle cx="342.0" cy="199.5" r="2.9"/><circle cx="340.6" cy="207.0" r="2.9"/><circle cx="395.8" cy="217.3" r="2.9"/><circle cx="409.5" cy="216.0" r="2.9"/><circle cx="424.4" cy="211.3" r="2.9"/><circle cx="435.6" cy="208.9" r="2.9"/><circle cx="462.8" cy="212.3" r="2.9"/><circle cx="445.7" cy="229.1" r="2.9"/><circle cx="394.6" cy="228.5" r="2.9"/><circle cx="408.9" cy="237.1" r="2.9"/><circle cx="415.4" cy="239.1" r="2.9"/><circle cx="403.8" cy="240.3" r="2.9"/><circle cx="407.0" cy="240.3" r="2.9"/><circle cx="392.3" cy="243.4" r="2.9"/><circle cx="396.2" cy="244.8" r="2.9"/><circle cx="407.6" cy="246.7" r="2.9"/><circle cx="353.5" cy="263.4" r="2.9"/><circle cx="343.7" cy="273.9" r="2.9"/><circle cx="344.6" cy="273.4" r="2.9"/><circle cx="344.1" cy="254.4" r="2.9"/><circle cx="340.0" cy="264.7" r="2.9"/><circle cx="310.5" cy="173.9" r="2.9"/><circle cx="309.2" cy="176.9" r="2.9"/><circle cx="288.8" cy="179.2" r="2.9"/><circle cx="318.0" cy="184.9" r="2.9"/><circle cx="316.6" cy="185.4" r="2.9"/><circle cx="319.3" cy="189.3" r="2.9"/><circle cx="304.4" cy="190.0" r="2.9"/><circle cx="335.4" cy="185.3" r="2.9"/><circle cx="333.4" cy="194.3" r="2.9"/><circle cx="310.5" cy="195.9" r="2.9"/><circle cx="306.9" cy="197.5" r="2.9"/><circle cx="313.5" cy="202.5" r="2.9"/><circle cx="310.5" cy="206.7" r="2.9"/><circle cx="317.0" cy="206.0" r="2.9"/><circle cx="327.1" cy="207.7" r="2.9"/><circle cx="340.2" cy="207.1" r="2.9"/><circle cx="285.3" cy="180.0" r="2.9"/><circle cx="287.9" cy="179.2" r="2.9"/><circle cx="323.3" cy="252.5" r="2.9"/><circle cx="324.7" cy="256.3" r="2.9"/><circle cx="313.0" cy="255.3" r="2.9"/><circle cx="317.0" cy="259.8" r="2.9"/><circle cx="327.5" cy="261.0" r="2.9"/><circle cx="329.0" cy="262.0" r="2.9"/><circle cx="313.9" cy="264.3" r="2.9"/><circle cx="318.1" cy="263.8" r="2.9"/><circle cx="315.8" cy="267.5" r="2.9"/><circle cx="313.5" cy="269.0" r="2.9"/><circle cx="322.8" cy="268.3" r="2.9"/><circle cx="326.1" cy="266.6" r="2.9"/><circle cx="328.5" cy="267.1" r="2.9"/><circle cx="333.6" cy="268.5" r="2.9"/><circle cx="317.7" cy="274.6" r="2.9"/><circle cx="336.6" cy="253.5" r="2.9"/><circle cx="340.7" cy="253.9" r="2.9"/><circle cx="339.2" cy="256.3" r="2.9"/><circle cx="341.1" cy="257.4" r="2.9"/><circle cx="338.3" cy="261.4" r="2.9"/><circle cx="339.4" cy="265.2" r="2.9"/><circle cx="311.0" cy="259.0" r="2.9"/><circle cx="320.0" cy="262.0" r="2.9"/><circle cx="309.5" cy="251.5" r="2.9"/><circle cx="172.0" cy="211.7" r="2.9"/><circle cx="179.2" cy="207.7" r="2.9"/><circle cx="332.2" cy="289.7" r="2.9"/><circle cx="176.2" cy="228.6" r="2.9"/><circle cx="182.9" cy="238.1" r="2.9"/><circle cx="187.9" cy="243.2" r="2.9"/><circle cx="172.1" cy="216.4" r="2.9"/><circle cx="189.7" cy="245.1" r="2.9"/><circle cx="178.8" cy="240.2" r="2.9"/><circle cx="195.2" cy="233.2" r="2.9"/><circle cx="183.0" cy="242.8" r="2.9"/><circle cx="182.0" cy="221.5" r="2.9"/><circle cx="180.7" cy="231.4" r="2.9"/><circle cx="183.3" cy="240.0" r="2.9"/><circle cx="176.2" cy="241.4" r="2.9"/><circle cx="200.0" cy="218.0" r="2.9"/><circle cx="201.5" cy="239.4" r="2.9"/><circle cx="184.2" cy="247.5" r="2.9"/><circle cx="201.5" cy="222.2" r="2.9"/><circle cx="167.5" cy="213.9" r="2.9"/><circle cx="200.6" cy="245.3" r="2.9"/><circle cx="192.8" cy="244.4" r="2.9"/><circle cx="199.4" cy="241.2" r="2.9"/><circle cx="185.4" cy="245.8" r="2.9"/><circle cx="201.4" cy="220.6" r="2.9"/><circle cx="188.5" cy="233.9" r="2.9"/><circle cx="167.8" cy="226.5" r="2.9"/><circle cx="194.2" cy="233.3" r="2.9"/><circle cx="169.1" cy="227.9" r="2.9"/><circle cx="171.0" cy="222.6" r="2.9"/><circle cx="202.4" cy="236.7" r="2.9"/><circle cx="193.0" cy="246.8" r="2.9"/><circle cx="171.2" cy="224.8" r="2.9"/><circle cx="180.1" cy="235.7" r="2.9"/><circle cx="179.0" cy="226.2" r="2.9"/><circle cx="170.1" cy="223.9" r="2.9"/><circle cx="201.0" cy="220.4" r="2.9"/><circle cx="190.7" cy="246.3" r="2.9"/><circle cx="191.3" cy="239.2" r="2.9"/><circle cx="177.4" cy="235.4" r="2.9"/><circle cx="191.9" cy="213.6" r="2.9"/><circle cx="197.2" cy="233.6" r="2.9"/><circle cx="167.4" cy="233.5" r="2.9"/><circle cx="183.0" cy="237.1" r="2.9"/><circle cx="179.6" cy="218.8" r="2.9"/><circle cx="192.5" cy="232.4" r="2.9"/><circle cx="182.8" cy="229.2" r="2.9"/><circle cx="173.0" cy="221.6" r="2.9"/><circle cx="200.6" cy="220.2" r="2.9"/><circle cx="169.0" cy="220.6" r="2.9"/><circle cx="189.1" cy="242.5" r="2.9"/><circle cx="190.4" cy="214.5" r="2.9"/><circle cx="182.2" cy="239.3" r="2.9"/><circle cx="191.6" cy="225.0" r="2.9"/><circle cx="194.5" cy="213.1" r="2.9"/><circle cx="173.6" cy="239.4" r="2.9"/><circle cx="198.4" cy="232.8" r="2.9"/><circle cx="193.9" cy="237.1" r="2.9"/><circle cx="176.2" cy="233.9" r="2.9"/><circle cx="172.9" cy="226.8" r="2.9"/><circle cx="195.1" cy="242.2" r="2.9"/><circle cx="182.1" cy="220.2" r="2.9"/><circle cx="199.0" cy="232.8" r="2.9"/><circle cx="186.0" cy="247.6" r="2.9"/><circle cx="186.7" cy="211.9" r="2.9"/><circle cx="177.9" cy="213.2" r="2.9"/><circle cx="184.0" cy="228.0" r="2.9"/><circle cx="166.8" cy="226.3" r="2.9"/><circle cx="194.5" cy="241.7" r="2.9"/><circle cx="180.0" cy="223.9" r="2.9"/><circle cx="175.3" cy="225.6" r="2.9"/><circle cx="193.7" cy="209.5" r="2.9"/><circle cx="175.5" cy="237.5" r="2.9"/><circle cx="201.9" cy="230.6" r="2.9"/><circle cx="190.0" cy="242.2" r="2.9"/><circle cx="180.5" cy="232.4" r="2.9"/><circle cx="183.1" cy="235.8" r="2.9"/><circle cx="197.1" cy="228.0" r="2.9"/><circle cx="197.8" cy="218.8" r="2.9"/><circle cx="176.2" cy="233.2" r="2.9"/><circle cx="177.8" cy="238.0" r="2.9"/><circle cx="170.7" cy="221.5" r="2.9"/><circle cx="193.9" cy="234.1" r="2.9"/><circle cx="177.2" cy="236.1" r="2.9"/><circle cx="200.8" cy="241.8" r="2.9"/><circle cx="195.2" cy="227.1" r="2.9"/><circle cx="179.6" cy="219.2" r="2.9"/><circle cx="182.4" cy="217.3" r="2.9"/><circle cx="179.5" cy="231.6" r="2.9"/><circle cx="196.6" cy="227.1" r="2.9"/><circle cx="194.8" cy="241.5" r="2.9"/><circle cx="174.4" cy="216.1" r="2.9"/><circle cx="194.7" cy="238.3" r="2.9"/><circle cx="171.1" cy="228.2" r="2.9"/><circle cx="185.8" cy="234.5" r="2.9"/><circle cx="194.1" cy="236.0" r="2.9"/><circle cx="187.7" cy="216.7" r="2.9"/><circle cx="185.2" cy="215.7" r="2.9"/>
</g></g>
<polygon points="101,243 114,241 134,242.5 150,242.5 166,244 177,247.5 190,249 198,250 200,262 197,281 190,280 172,276.5 158,272.5 142,267.5 129,261 115,255.5 105,250" fill="#8d110a"/>
<path d="M549.7 17.8h0M539.2 34.6h0M648.8 109.9h0M552.1 140.4h0M497.2 178.1h0M475.6 87.3h0M445.8 105.7h0M455.8 140.7h0M441.1 153.3h0M420.7 158.4h0M387.4 167.2h0M382.5 180.9h0M393.5 193.5h0M414.8 188.2h0M422.6 189.9h0M419.1 195.2h0M450.0 193.5h0M447.7 200.5h0M347.2 165.5h0M332.2 153.2h0M323.5 172.2h0M342.0 199.5h0M340.6 207.0h0M409.5 216.0h0M424.4 211.3h0M435.6 208.9h0M462.8 212.3h0M445.7 229.1h0M394.6 228.5h0M408.9 237.1h0M403.8 240.3h0M407.0 240.3h0M392.3 243.4h0M396.2 244.8h0M407.6 246.7h0M353.5 263.4h0M343.7 273.9h0M344.6 273.4h0M344.1 254.4h0M340.0 264.7h0M366.2 201.5h0M360.0 213.4h0M368.6 213.4h0M381.1 216.0h0M342.0 225.8h0M344.5 233.0h0M344.1 239.5h0M360.8 236.7h0M369.6 234.4h0M373.3 233.0h0M376.8 232.0h0M377.4 238.7h0M345.5 246.1h0M353.7 247.1h0M376.8 246.1h0M355.3 254.9h0M341.0 256.9h0M344.4 238.0h0M310.5 173.9h0M309.2 176.9h0M318.0 184.9h0M316.6 185.4h0M304.4 190.0h0M335.4 185.3h0M333.4 194.3h0M310.5 195.9h0M313.5 202.5h0M310.5 206.7h0M317.0 206.0h0M327.1 207.7h0M340.2 207.1h0M285.3 180.0h0M287.9 179.2h0M335.5 214.8h0M335.5 223.5h0M317.0 220.0h0M312.8 221.4h0M307.4 223.5h0M305.5 226.9h0M313.5 226.9h0M323.8 225.3h0M308.0 236.6h0M322.8 236.8h0M328.3 237.3h0M323.8 242.2h0M326.1 240.5h0M328.0 242.4h0M337.8 241.6h0M304.1 246.6h0M306.9 246.6h0M312.2 249.0h0M324.7 256.3h0M313.0 255.3h0M317.0 259.8h0M327.5 261.0h0M329.0 262.0h0M313.9 264.3h0M318.1 263.8h0M315.8 267.5h0M313.5 269.0h0M322.8 268.3h0M326.1 266.6h0M328.5 267.1h0M336.6 253.5h0M340.7 253.9h0M339.2 256.3h0M341.1 257.4h0M339.4 265.2h0M291.4 210.3h0M292.1 218.3h0M290.5 228.1h0M293.3 236.1h0M293.3 241.3h0M294.7 246.9h0M299.4 248.3h0M308.0 256.3h0M308.3 261.4h0M271.7 183.4h0M278.7 192.2h0M270.5 194.2h0M279.9 197.5h0M249.6 195.1h0M249.3 200.6h0M262.3 213.9h0M267.4 214.2h0M283.0 211.2h0M273.1 217.8h0M276.0 217.4h0M276.6 220.9h0M280.3 219.8h0M291.8 218.2h0M264.0 221.2h0M276.6 225.6h0M281.9 227.4h0M282.4 229.7h0M290.1 228.5h0M266.6 229.7h0M270.1 230.3h0M273.1 230.9h0M257.2 230.9h0M254.3 232.1h0M265.4 235.0h0M272.5 237.3h0M277.2 237.9h0M280.7 237.3h0M293.0 236.2h0M253.1 238.5h0M258.4 240.0h0M263.5 240.3h0M281.9 242.0h0M287.1 243.2h0M293.0 241.4h0M270.7 245.5h0M271.2 244.6h0M260.2 246.7h0M263.7 247.3h0M286.0 246.1h0M294.8 247.1h0M300.0 247.3h0M280.7 290.4h0M293.3 289.8h0M291.8 293.3h0M260.2 305.7h0M263.1 305.4h0M266.6 306.2h0M268.6 302.1h0M271.3 304.2h0M273.7 304.5h0M276.0 300.4h0M278.3 302.7h0M280.1 301.0h0M286.0 297.4h0M286.5 299.8h0M252.5 308.6h0M250.2 312.5h0M284.8 312.7h0M287.1 330.0h0M277.5 337.3h0M236.5 313.9h0M220.4 304.9h0M221.1 320.0h0M243.8 201.6h0M249.0 210.7h0M247.3 217.4h0M259.0 223.3h0M255.7 225.0h0M246.7 232.1h0M246.7 235.0h0M121.4 225.3h0M172.0 211.7h0M179.2 207.7h0M174.4 287.2h0M332.2 289.7h0M99.4 239.5h0M100.7 235.0h0M98.4 241.4h0M100.4 234.5h0M131.9 238.5h0M142.8 233.8h0M133.8 233.5h0M139.4 237.6h0M123.6 237.0h0M128.9 228.8h0M123.9 235.0h0M127.0 226.1h0M144.3 234.3h0M139.8 236.7h0M123.0 227.5h0M128.1 235.9h0M121.8 229.9h0M128.8 233.5h0M144.1 229.2h0M144.8 232.4h0M160.6 233.5h0M173.2 232.2h0M138.7 234.8h0M169.5 235.5h0M163.2 237.7h0M142.4 230.1h0M148.1 235.7h0M152.0 234.8h0M154.6 225.0h0M146.1 224.6h0M155.5 236.6h0M170.0 238.0h0M151.7 235.6h0M165.1 227.6h0M158.0 233.9h0M168.3 239.3h0M144.4 237.6h0M138.5 238.1h0M162.5 229.9h0M148.5 219.7h0M155.2 226.5h0M153.0 238.5h0M171.0 240.8h0M155.4 228.6h0M146.5 223.8h0M139.3 227.6h0M150.9 232.2h0M150.4 225.9h0M158.4 220.2h0M173.5 238.7h0M163.0 230.8h0M163.6 236.8h0M152.9 225.5h0M156.6 238.0h0M148.4 239.6h0M161.1 234.9h0M140.1 228.1h0M158.0 227.1h0M167.9 230.7h0M167.8 231.1h0M144.5 232.9h0M170.3 229.0h0M153.1 239.5h0M140.7 229.7h0M168.4 239.6h0M142.4 238.1h0M165.8 228.6h0M189.7 245.1h0M178.8 240.2h0M195.2 233.2h0M183.0 242.8h0M176.2 241.4h0M201.5 239.4h0M184.2 247.5h0M201.5 222.2h0M200.6 245.3h0M192.8 244.4h0M199.4 241.2h0M201.4 220.6h0M188.5 233.9h0M167.8 226.5h0M194.2 233.3h0M202.4 236.7h0M180.1 235.7h0M179.0 226.2h0M201.0 220.4h0M177.4 235.4h0M197.2 233.6h0M167.4 233.5h0M183.0 237.1h0M192.5 232.4h0M182.8 229.2h0M169.0 220.6h0M182.2 239.3h0M191.6 225.0h0M176.2 233.9h0M172.9 226.8h0M182.1 220.2h0M199.0 232.8h0M186.0 247.6h0M166.8 226.3h0M194.5 241.7h0M180.0 223.9h0M193.7 209.5h0M175.5 237.5h0M201.9 230.6h0M190.0 242.2h0M180.5 232.4h0M183.1 235.8h0M197.1 228.0h0M177.8 238.0h0M193.9 234.1h0M177.2 236.1h0M200.8 241.8h0M195.2 227.1h0M179.6 219.2h0M182.4 217.3h0M179.5 231.6h0M194.8 241.5h0M174.4 216.1h0M194.7 238.3h0M185.8 234.5h0M185.2 215.7h0M221.5 220.0h0M221.5 230.3h0M200.0 222.5h0M208.5 232.9h0M198.9 229.4h0M209.1 221.9h0M206.8 211.1h0M200.7 231.1h0M211.5 216.0h0M207.8 220.5h0M223.3 213.5h0M204.3 212.3h0M212.7 228.2h0M202.6 231.9h0M222.5 232.8h0M225.9 229.6h0M206.0 230.0h0M211.7 225.4h0M207.9 228.8h0M225.1 217.4h0M207.7 224.2h0M220.4 221.0h0M212.7 234.7h0M222.8 226.2h0M211.6 229.8h0M214.5 218.4h0M209.1 230.1h0M216.5 234.2h0M202.9 224.7h0M220.4 229.7h0M224.9 222.1h0M197.9 221.9h0M225.5 226.3h0M203.2 232.6h0M213.4 228.5h0M219.4 224.0h0M215.4 216.8h0M221.5 226.3h0M214.2 223.5h0M201.2 230.5h0M210.9 212.7h0M229.6 223.9h0M210.5 227.2h0M198.7 228.4h0M219.9 217.9h0M219.3 232.4h0M215.3 234.1h0M215.8 222.1h0M224.2 229.8h0M213.5 223.0h0M210.4 221.0h0M219.0 230.0h0M209.1 233.6h0M225.9 227.1h0M220.4 221.5h0M218.4 228.5h0M201.9 213.8h0M229.5 222.4h0M218.2 221.4h0M219.4 231.2h0M199.6 227.4h0M224.8 224.3h0M227.8 226.6h0M217.8 228.5h0M216.9 229.8h0M247.1 224.8h0M235.9 231.5h0M229.6 230.5h0M252.0 227.2h0M236.9 236.0h0M234.6 218.4h0M232.8 220.9h0M251.3 221.3h0M248.3 212.9h0M250.9 225.3h0M246.8 222.1h0M248.5 222.1h0M230.9 225.0h0M247.3 232.4h0M244.1 235.5h0M234.0 217.2h0M231.7 229.8h0M245.4 216.8h0M234.7 233.3h0M247.2 235.7h0M244.0 217.3h0M246.9 227.7h0M233.2 224.3h0M232.2 224.2h0M250.4 218.0h0M247.5 232.9h0M233.2 233.6h0M249.7 217.0h0M232.8 213.1h0M231.5 219.1h0M237.6 223.1h0M241.3 227.1h0M245.2 231.1h0M248.7 223.3h0M237.5 235.3h0M236.9 222.0h0M246.4 227.6h0M235.8 221.5h0M237.3 231.4h0M243.7 235.3h0M237.9 216.1h0M238.1 221.3h0M234.4 225.6h0M244.3 224.9h0M242.8 231.8h0M233.3 219.1h0M243.4 229.7h0M245.5 236.1h0M249.8 225.4h0M233.3 226.7h0M232.1 232.3h0M233.4 221.7h0M232.9 225.2h0M232.2 218.3h0M243.1 225.4h0M249.3 230.0h0M234.5 221.4h0M237.8 231.8h0M241.3 234.6h0M234.1 226.4h0M237.5 210.5h0M243.3 231.6h0M239.1 236.2h0M237.3 212.4h0M239.1 234.1h0M231.0 224.6h0M243.0 225.8h0M251.6 220.7h0M232.7 214.9h0M224.0 243.9h0M215.3 255.1h0M233.2 246.8h0M219.6 239.1h0M237.5 251.8h0M209.2 235.6h0M213.0 245.2h0M229.0 252.4h0M221.7 246.9h0M217.5 239.4h0M228.1 240.0h0M214.6 248.9h0M233.8 246.1h0M215.3 239.2h0M221.0 251.0h0M213.3 242.2h0M213.7 247.1h0M216.5 253.2h0M233.8 249.0h0M232.9 245.6h0M229.0 242.1h0M230.9 245.7h0M219.8 252.0h0M222.4 251.7h0M225.5 246.4h0M226.8 249.7h0M216.4 253.2h0M222.3 251.0h0M219.3 251.0h0M232.9 249.5h0M226.5 240.2h0M217.9 249.7h0M256.0 245.3h0M240.1 254.1h0M245.5 251.3h0M247.9 245.3h0M249.1 244.7h0M255.3 246.1h0M249.9 248.5h0M243.7 249.6h0M257.7 252.2h0M240.9 253.8h0M254.1 252.9h0M240.9 243.9h0M239.0 246.9h0M240.2 242.6h0M240.1 254.1h0M253.5 250.1h0M250.3 250.6h0M254.1 252.3h0M255.5 251.1h0M248.2 248.9h0M238.9 246.0h0M250.8 250.2h0M255.1 243.3h0M254.6 247.7h0M245.4 247.2h0M239.9 247.6h0M236.7 241.1h0M242.6 246.9h0M294.9 275.3h0M285.3 256.5h0M286.2 248.8h0M280.0 284.6h0M283.3 252.6h0M279.7 275.1h0M294.1 284.6h0M288.2 257.2h0M293.5 279.1h0M295.9 283.3h0M294.1 284.8h0M284.5 251.2h0M263.7 247.3h0M302.1 275.9h0M287.4 275.1h0M296.4 277.9h0M280.6 259.6h0M301.0 259.5h0M280.7 281.0h0M299.2 254.9h0M289.6 281.7h0M267.9 245.9h0M288.2 266.6h0M291.0 273.3h0M287.1 265.4h0M298.8 274.6h0M304.0 255.0h0M291.3 258.9h0M290.5 259.5h0M301.5 276.7h0M283.5 269.8h0M298.1 267.5h0M265.4 249.0h0M298.1 255.9h0M282.4 266.7h0M282.1 255.0h0M299.9 253.5h0M302.5 261.1h0M266.7 252.5h0M302.4 250.3h0M293.8 254.6h0M285.4 255.0h0M282.3 257.2h0M295.6 255.3h0M280.0 255.0h0M276.3 254.4h0M304.3 254.7h0M295.8 256.8h0M289.0 285.1h0M290.9 273.8h0M262.3 248.5h0M274.7 251.6h0M288.3 277.9h0M270.4 256.2h0M274.7 256.3h0M298.6 281.6h0M289.8 278.6h0M283.3 255.4h0M296.6 280.3h0M305.0 268.0h0M285.0 254.2h0M291.9 253.0h0M289.9 265.5h0M290.9 254.9h0M299.1 261.1h0M309.7 271.3h0M291.4 269.5h0M291.3 266.3h0M295.1 260.5h0M292.7 260.8h0M296.9 265.2h0M306.8 274.0h0M306.6 265.6h0M296.6 278.4h0M297.9 286.7h0M283.9 260.7h0M289.4 266.0h0M297.1 271.8h0M291.5 285.1h0M301.1 274.5h0M282.3 266.3h0M289.8 257.2h0M295.0 261.5h0M296.0 275.3h0M293.6 281.3h0M282.9 263.4h0M295.0 277.9h0M310.6 267.6h0M303.0 260.2h0M293.7 267.7h0M286.7 281.9h0M288.7 259.3h0M299.9 266.2h0M287.8 272.6h0M290.4 268.7h0M288.2 275.2h0M282.0 251.4h0M299.0 265.7h0M286.7 271.4h0M305.0 268.3h0M287.1 260.8h0M291.9 256.6h0M298.2 253.5h0M288.4 255.8h0M286.0 255.6h0M294.2 274.9h0M296.6 261.5h0M295.9 262.7h0M258.1 252.2h0M273.8 269.7h0M258.0 264.7h0M262.3 250.1h0M257.1 256.3h0M278.9 250.1h0M266.6 272.4h0M267.0 249.3h0M261.5 264.3h0M253.2 251.1h0M255.8 251.6h0M263.7 269.1h0M268.0 247.0h0M255.3 270.0h0M270.1 265.7h0M268.2 255.2h0M270.5 248.0h0M266.4 259.1h0M274.4 263.5h0M273.9 272.4h0M267.7 249.9h0M276.2 253.1h0M261.3 255.6h0M258.7 256.0h0M256.7 270.3h0M276.6 252.6h0M265.5 254.7h0M253.5 256.8h0M272.1 271.2h0M277.7 267.0h0M256.6 253.8h0M277.0 268.7h0M266.4 252.0h0M267.6 272.5h0M253.9 256.4h0M277.4 256.4h0M259.2 252.9h0M261.0 253.0h0M255.6 261.9h0M255.4 260.9h0M257.8 261.1h0M260.6 272.0h0M260.5 265.4h0M272.0 250.3h0M261.5 249.1h0M273.3 253.4h0M275.2 263.1h0M276.4 261.4h0M254.8 255.2h0M273.4 261.6h0M276.5 262.7h0M267.9 258.9h0M267.0 263.5h0M258.4 262.4h0M277.1 252.0h0M255.7 259.9h0M264.2 265.3h0M267.6 273.5h0M259.6 258.5h0M274.8 258.5h0M257.1 254.3h0M259.8 262.8h0M272.3 249.0h0M272.3 257.7h0M258.2 253.1h0M255.0 266.3h0M265.8 254.2h0M274.2 249.5h0M256.1 260.8h0M265.5 267.7h0M266.8 268.1h0M266.8 258.3h0M266.6 263.5h0M270.3 253.5h0M253.1 253.5h0M270.8 265.3h0M262.1 259.0h0M260.3 262.0h0M275.8 259.5h0M252.8 253.9h0M259.2 247.3h0M259.8 269.7h0M260.5 261.9h0M256.8 251.8h0M257.9 252.3h0M263.2 251.6h0M257.4 261.6h0M265.0 270.3h0M266.3 258.3h0M260.9 265.2h0M275.3 251.5h0M266.9 268.2h0M261.5 259.3h0M223.6 291.0h0M263.8 279.9h0M234.3 285.6h0M277.5 285.6h0M217.2 289.4h0M243.9 274.3h0M246.3 303.3h0M278.2 289.1h0M279.9 288.6h0M239.6 302.8h0M228.3 281.9h0M271.4 289.1h0M274.2 289.3h0M250.1 289.5h0M229.8 284.5h0M230.0 281.5h0M240.6 285.0h0M235.0 286.2h0M274.7 285.1h0M229.4 287.8h0M225.1 288.4h0M223.7 289.1h0M262.0 283.8h0M260.4 289.6h0M273.0 281.8h0M248.9 299.8h0M221.7 281.9h0M264.3 288.4h0M229.4 291.7h0M243.3 292.2h0M242.7 284.8h0M221.9 283.2h0M236.0 276.5h0M241.8 301.1h0M224.4 294.9h0M271.5 282.2h0M222.3 280.9h0M280.2 285.4h0M254.7 295.9h0M250.2 292.9h0M218.3 284.2h0M230.9 278.3h0M246.6 280.3h0M268.6 281.4h0M252.1 288.3h0M233.6 275.0h0M253.7 292.0h0M257.6 285.3h0M234.8 281.9h0M234.8 283.4h0M244.3 300.7h0M249.2 282.1h0M255.4 293.3h0M230.9 305.2h0M256.9 291.9h0M242.4 303.0h0M243.3 281.9h0M235.4 284.4h0M276.9 281.0h0M218.5 291.3h0M225.1 281.2h0M236.9 302.7h0M274.1 282.1h0M241.9 295.7h0M225.9 283.0h0M277.2 288.0h0M221.0 296.2h0M270.7 290.7h0M238.0 292.6h0M277.2 284.3h0M241.1 285.3h0M241.5 296.8h0M236.6 302.6h0M264.6 280.6h0M238.9 288.9h0M273.8 283.0h0M280.7 280.4h0M220.1 293.1h0M230.1 299.1h0M273.8 281.7h0M269.0 282.7h0M264.4 296.1h0M230.9 281.6h0M237.8 275.2h0M241.5 276.4h0M259.9 286.3h0M219.8 282.4h0M249.4 293.5h0M217.8 288.2h0M238.5 296.8h0M241.6 276.9h0M266.4 287.0h0M232.0 287.2h0M225.3 287.0h0M230.0 283.6h0M218.6 290.5h0M228.8 300.7h0M258.2 287.0h0M249.5 293.9h0M231.2 284.5h0M241.4 283.2h0M223.6 291.2h0M269.6 280.5h0M234.9 291.8h0M225.9 297.4h0M258.1 297.4h0M266.7 285.8h0M277.5 287.7h0M264.3 292.7h0M264.9 286.6h0M229.2 304.9h0M257.8 293.1h0M236.3 280.2h0M258.1 297.5h0M280.2 279.8h0M232.8 306.1h0M236.6 295.8h0M245.1 300.4h0M239.3 305.8h0M271.7 293.4h0M244.0 294.8h0M270.9 286.6h0M232.7 302.0h0M208.8 297.1h0M206.2 295.0h0M200.0 297.2h0M193.9 291.5h0M198.0 297.6h0M196.6 288.5h0M217.4 293.3h0M192.9 297.7h0M218.8 291.5h0M217.3 298.1h0M195.4 288.6h0M219.0 298.1h0M217.2 298.3h0M193.0 292.7h0M213.9 296.8h0M210.7 295.8h0M213.0 296.2h0M204.1 297.8h0M184.9 285.6h0M192.5 284.0h0M191.5 288.6h0M192.8 282.5h0M190.9 288.6h0M165.3 280.3h0M169.6 285.2h0M170.3 279.5h0M162.0 277.8h0M167.4 276.7h0M160.5 278.3h0M162.7 282.0h0M161.3 278.6h0M132.8 266.2h0M243.4 283.9h0M212.0 252.9h0M225.6 271.6h0M215.8 264.1h0M226.6 264.5h0M224.2 264.4h0M221.4 264.1h0M227.4 273.4h0M226.0 265.7h0M208.9 255.4h0M210.0 251.0h0M232.7 280.1h0M246.3 284.2h0M214.4 265.1h0M232.0 273.1h0M228.2 267.0h0M233.2 269.9h0M219.1 255.6h0M235.1 284.8h0M216.2 267.4h0M226.4 258.2h0M209.1 257.0h0M234.5 266.4h0M237.0 275.8h0M246.8 282.8h0M230.4 275.1h0M222.5 266.9h0M226.1 264.2h0M214.8 261.8h0M222.5 264.0h0M207.3 251.8h0M212.6 262.6h0M231.7 279.5h0M228.1 271.3h0M235.1 274.8h0M223.9 259.6h0M245.7 283.1h0M225.0 265.5h0M226.8 276.3h0M226.6 268.4h0M239.6 282.5h0M237.8 286.2h0M241.8 275.5h0M239.5 285.5h0M241.7 276.4h0M248.6 284.4h0M240.8 274.4h0M236.9 273.8h0M241.9 276.2h0M247.7 280.9h0M241.5 282.9h0M249.7 283.8h0M244.7 281.9h0M247.2 281.6h0M238.5 284.5h0M246.5 280.1h0M237.2 280.9h0M238.9 284.6h0M243.3 283.0h0M246.6 278.7h0M242.7 280.6h0M248.4 278.8h0M198.6 259.8h0M199.8 265.8h0M203.3 263.2h0M202.2 257.5h0M199.7 278.3h0M216.4 270.6h0M220.7 271.0h0M203.7 261.7h0M214.3 272.2h0M207.0 272.3h0M204.3 259.6h0M209.8 273.4h0M205.1 260.9h0M216.6 274.4h0M202.8 259.9h0M209.7 258.6h0M195.2 267.2h0M208.3 271.6h0M208.1 274.9h0M212.3 260.9h0M203.5 272.6h0M197.1 257.2h0M206.5 270.1h0M196.8 273.4h0M208.2 270.1h0M203.6 270.0h0M215.6 271.7h0M213.7 277.5h0M222.1 280.1h0M216.9 270.1h0M213.9 278.0h0M205.3 260.6h0M223.1 278.0h0M240.4 253.9h0M249.5 255.1h0M252.6 256.5h0M250.4 252.4h0M233.9 256.0h0M236.9 259.6h0M241.6 258.2h0M250.9 259.1h0M242.7 249.8h0M249.0 257.8h0M240.0 257.2h0M230.1 257.3h0M233.8 249.4h0M243.3 254.9h0M237.4 256.2h0M231.9 247.9h0M252.0 273.0h0M252.6 268.6h0M240.3 270.3h0M229.2 265.2h0M230.5 270.7h0M246.9 265.0h0M248.8 272.7h0M231.1 269.0h0M238.1 269.0h0M242.1 279.0h0M235.7 280.5h0M248.5 269.5h0M228.7 262.7h0M236.5 272.6h0M226.7 264.9h0M226.8 265.6h0M228.6 272.1h0M233.0 273.3h0M236.1 265.4h0M237.2 271.7h0M233.2 266.3h0M236.1 267.6h0M248.3 269.6h0M250.6 273.8h0M247.8 278.8h0M239.3 274.3h0M241.0 277.7h0M255.4 271.4h0M253.5 278.6h0M232.2 280.9h0M245.6 279.9h0M249.8 263.1h0M245.6 265.8h0M205.0 241.3h0M211.4 240.6h0M210.8 243.1h0M197.1 248.5h0M208.6 240.5h0M214.3 244.2h0M213.3 240.7h0M216.9 285.5h0M238.6 300.5h0M221.6 292.1h0M245.0 285.1h0M229.1 276.9h0M230.6 290.0h0M216.4 285.4h0M220.2 289.9h0M245.1 282.8h0M222.8 284.2h0M222.8 299.9h0M248.7 289.0h0M221.9 281.1h0M223.0 282.1h0M237.2 284.1h0M238.0 275.8h0M238.5 299.7h0M232.1 289.8h0M238.6 293.0h0M220.8 280.0h0M245.9 276.4h0M244.4 282.6h0M245.0 277.1h0M232.4 290.7h0M242.0 286.6h0M229.8 298.9h0M236.7 285.6h0M229.4 298.3h0M228.7 279.9h0M226.7 286.8h0M222.1 293.8h0M218.2 288.1h0M237.3 287.7h0M254.9 287.2h0M246.9 293.6h0M240.2 297.7h0M245.9 295.5h0M212.2 284.2h0M213.1 267.7h0M204.8 277.7h0M219.7 274.5h0M221.0 281.9h0M215.0 276.7h0M214.7 276.4h0M205.0 275.0h0M212.9 272.9h0M201.7 279.1h0M223.5 280.7h0M208.2 271.5h0M98.3 242.3h0M140.0 256.6h0M177.9 245.1h0M98.8 241.8h0M196.5 254.9h0M174.1 275.8h0M169.9 276.5h0M175.6 257.3h0M158.4 264.0h0M129.5 248.5h0M152.1 263.6h0M155.9 257.1h0M225.9 253.1h0M114.0 239.3h0M179.0 266.3h0M229.9 285.6h0M128.5 244.5h0M100.9 243.6h0M234.2 276.5h0M189.2 281.7h0M159.7 276.0h0M144.5 252.3h0M152.5 257.9h0M177.9 274.0h0M200.3 250.7h0M174.7 273.7h0M167.5 269.7h0M130.2 243.0h0M191.6 265.6h0M220.1 255.1h0M197.1 280.6h0M162.8 251.6h0M113.4 253.6h0M180.6 274.4h0M133.2 245.5h0M176.3 270.6h0M196.7 255.6h0M139.5 256.2h0M162.0 253.6h0M144.6 248.3h0M110.4 251.4h0M206.2 253.1h0M146.0 256.7h0M198.9 279.3h0M126.1 247.3h0M205.0 264.7h0M182.3 256.7h0M161.2 265.2h0M207.8 273.7h0M138.6 256.2h0M188.1 276.4h0M158.6 275.2h0M144.5 262.1h0M155.2 273.2h0M194.7 275.0h0M156.5 246.5h0M193.4 256.5h0M122.4 247.2h0M186.8 278.0h0M208.2 277.2h0M108.4 245.6h0M170.5 253.9h0M151.1 257.9h0M161.7 271.6h0M141.8 248.4h0M137.0 241.3h0M243.4 266.6h0M217.6 289.6h0M174.6 250.2h0M204.0 279.1h0M171.4 244.8h0M121.3 246.0h0M183.4 251.7h0M104.6 249.7h0M177.4 276.2h0M157.1 266.4h0M203.5 259.3h0M168.7 259.1h0M169.7 257.8h0M194.2 260.0h0M198.4 278.3h0M192.5 281.8h0M129.2 242.2h0M161.5 243.8h0M139.6 265.5h0M174.5 253.8h0M144.4 258.9h0M218.4 257.5h0M156.9 258.1h0M159.4 259.1h0M204.9 245.9h0M144.5 265.7h0M247.4 270.6h0M200.0 273.7h0M110.8 252.9h0M198.6 246.5h0M155.6 262.6h0M227.7 258.0h0M107.5 239.4h0M161.6 260.1h0M201.5 285.4h0M233.7 258.8h0M115.7 250.4h0M135.8 248.5h0M140.4 267.2h0M208.5 248.8h0M117.6 255.5h0M227.8 277.6h0M174.7 245.1h0M165.5 241.8h0M196.5 269.5h0M204.3 283.4h0M193.6 269.5h0M162.6 244.6h0M156.6 260.9h0M149.7 245.8h0M204.1 252.0h0M158.6 253.5h0M130.2 258.7h0M194.9 281.5h0M184.5 265.7h0M160.5 268.5h0M150.3 261.8h0M153.2 245.9h0M152.8 256.3h0M235.3 287.6h0M180.3 267.0h0M182.3 269.4h0M106.4 248.9h0M145.2 270.5h0M157.6 258.0h0M127.5 239.3h0M192.1 263.8h0M152.2 245.6h0M147.0 250.0h0M136.0 250.9h0M148.4 264.1h0M208.5 282.4h0M117.9 257.4h0M155.0 265.5h0M169.0 254.9h0M120.8 239.8h0M148.7 248.6h0M109.5 245.0h0M188.4 259.8h0M149.5 252.9h0M186.2 261.9h0M196.1 245.2h0M174.3 278.8h0M184.4 246.1h0M117.3 246.7h0M140.2 257.1h0M152.0 252.5h0M140.2 260.5h0M177.6 256.2h0M184.8 258.6h0M150.3 246.2h0M148.6 268.9h0M209.6 273.6h0M156.8 258.0h0M187.8 279.8h0M178.7 244.5h0M176.5 251.0h0M184.1 245.5h0M176.0 250.1h0M208.9 252.7h0M192.8 265.2h0M190.0 248.0h0M209.8 247.7h0M149.0 272.2h0M123.0 240.4h0M199.2 250.4h0M187.6 255.1h0M179.0 269.9h0M183.1 277.1h0M168.0 241.7h0M140.8 253.5h0M101.4 239.8h0M209.5 252.1h0M180.3 252.3h0M200.0 281.7h0M207.1 281.4h0M135.4 264.3h0M163.7 255.2h0M203.3 256.6h0M151.3 242.3h0M170.5 252.0h0M107.2 243.9h0M125.7 252.6h0M137.0 260.4h0M107.1 251.2h0M145.3 244.2h0M195.8 255.3h0M189.0 268.9h0M191.4 253.9h0M226.1 257.1h0M130.0 252.6h0M198.1 278.4h0M167.6 260.3h0M158.3 241.2h0M175.0 252.1h0M167.9 266.4h0M153.1 241.3h0M156.5 253.6h0M211.4 280.1h0M201.2 248.1h0M174.0 245.2h0M186.6 278.8h0M204.6 262.0h0M184.8 245.7h0M116.9 247.0h0M159.7 241.2h0M183.9 275.4h0M135.1 265.1h0M157.6 266.4h0M148.6 271.6h0M199.1 285.8h0M184.7 268.7h0M173.4 247.9h0M137.0 244.8h0M183.3 268.6h0M185.1 268.6h0M222.9 276.4h0M176.0 268.5h0M118.1 258.7h0M149.4 259.7h0M176.8 279.8h0M209.1 254.3h0M201.4 265.4h0M164.2 253.1h0M200.2 257.8h0M120.4 258.8h0M129.8 256.5h0M181.8 272.5h0M197.6 280.1h0M228.8 261.8h0M197.6 256.5h0M154.2 264.9h0M132.1 241.9h0M189.4 255.4h0M144.5 261.7h0M120.5 257.9h0M154.3 272.6h0M152.6 264.6h0M139.2 260.4h0M187.5 281.7h0M110.1 255.0h0M213.9 268.5h0M116.1 257.2h0M149.6 250.9h0M158.0 251.3h0M204.9 276.9h0M166.3 244.8h0M127.5 259.1h0M197.7 245.4h0M190.4 265.9h0M150.9 263.5h0M156.6 240.8h0M190.0 273.7h0M127.8 240.3h0M161.9 254.9h0M150.1 259.2h0M186.9 276.4h0M153.6 270.3h0M150.4 252.2h0M197.1 250.7h0M168.1 275.6h0M154.1 239.9h0M125.3 257.1h0M162.7 248.3h0M166.3 250.0h0M123.8 242.8h0M192.1 248.2h0M119.6 258.3h0M156.7 254.4h0M208.8 248.7h0M97.9 243.0h0M104.9 252.6h0M120.5 256.3h0M159.8 247.6h0M150.6 252.6h0M145.8 257.6h0M174.4 264.2h0M131.8 265.4h0M111.7 245.5h0M163.8 268.0h0M172.8 249.7h0M155.5 274.1h0M217.7 250.0h0M155.6 254.6h0M174.1 246.9h0M178.2 248.3h0M135.4 245.8h0M161.2 263.8h0M132.9 265.3h0M148.7 263.5h0M202.4 247.0h0M131.9 255.5h0M127.6 263.2h0M177.4 247.0h0M246.6 263.6h0M189.9 280.1h0M187.3 252.4h0M108.4 246.5h0M211.1 251.6h0M163.7 250.6h0M143.3 250.0h0M125.6 256.7h0M133.8 262.2h0M120.8 245.8h0M174.7 243.9h0M164.0 247.3h0M185.6 245.6h0M198.6 265.9h0M146.7 263.9h0M186.5 261.9h0M183.7 253.4h0M167.5 246.1h0M131.7 249.8h0M195.4 266.5h0M146.0 252.2h0M229.5 264.2h0M176.4 276.3h0M151.9 240.0h0M198.1 274.0h0M150.5 266.8h0M155.7 262.9h0M133.7 243.9h0M184.6 262.1h0M183.9 263.6h0M141.0 255.7h0M143.3 263.9h0M176.0 273.4h0M142.4 240.5h0M163.2 269.1h0M195.4 256.5h0M165.4 250.2h0M105.3 248.8h0M177.7 256.3h0M121.0 250.4h0M205.0 251.3h0M173.0 248.4h0M113.7 244.3h0M135.3 246.9h0M204.4 274.3h0M182.9 276.2h0M180.4 245.6h0M182.0 269.1h0M111.8 240.6h0M116.7 258.4h0M204.1 262.3h0M196.1 273.6h0M188.4 258.5h0M146.2 254.5h0M115.0 240.5h0M222.4 263.9h0M155.9 259.1h0M126.7 247.1h0M148.4 241.7h0M146.6 244.0h0M175.8 271.7h0M169.4 258.9h0M189.8 258.0h0M189.9 274.8h0M151.0 250.5h0M166.6 253.7h0M118.5 240.5h0M155.4 253.9h0M177.8 246.6h0M142.2 262.2h0M172.6 262.9h0M104.0 251.5h0M180.8 279.0h0M115.2 258.0h0M164.0 259.4h0M187.3 245.4h0M142.1 260.7h0M226.7 280.9h0M180.6 254.6h0M173.7 258.9h0M162.6 271.8h0M202.3 267.8h0M183.5 255.6h0M174.3 272.2h0M160.9 273.7h0M151.9 243.8h0M109.8 243.0h0M163.1 247.5h0M207.6 271.5h0M124.4 241.2h0M152.2 256.2h0M108.5 249.3h0M119.6 239.4h0M197.0 260.5h0M198.3 272.0h0M201.1 286.0h0M173.7 245.0h0M188.0 251.4h0M111.9 253.7h0M168.1 247.6h0M212.7 287.8h0M196.3 254.6h0M134.1 243.3h0M103.1 250.7h0M170.5 275.1h0M121.6 259.3h0M106.1 242.3h0M210.7 252.0h0M124.9 250.9h0M229.6 288.9h0M147.4 271.0h0M121.3 246.1h0M193.9 268.7h0M154.5 240.6h0M153.0 266.8h0M188.6 277.9h0M192.6 279.4h0M206.9 263.3h0M127.9 245.0h0M158.7 248.7h0M172.7 243.8h0M174.9 259.3h0M108.5 250.9h0M185.7 245.3h0M120.4 259.4h0M148.7 255.8h0M237.1 263.3h0M151.5 269.6h0M213.0 263.2h0M167.8 244.5h0M113.8 245.1h0M157.8 246.0h0M134.2 255.2h0M138.0 256.5h0M149.6 272.4h0M190.0 272.6h0M194.8 254.0h0M131.0 240.2h0M114.7 245.1h0M175.4 263.0h0M224.8 287.0h0M150.4 259.9h0M115.0 245.8h0M151.7 239.5h0M166.7 258.8h0M156.1 248.3h0M166.4 270.7h0M197.0 280.0h0M207.9 249.0h0M212.5 287.7h0M154.6 259.2h0M164.4 249.4h0M140.7 244.4h0M239.8 281.0h0M194.5 249.2h0M156.7 248.0h0M104.9 239.3h0M218.0 268.9h0M218.3 272.2h0M184.3 259.3h0M201.7 269.2h0M218.3 250.8h0M102.6 246.4h0M189.7 256.5h0M239.7 268.0h0M145.5 239.4h0M157.5 273.3h0M187.5 266.8h0M125.8 242.5h0M140.7 253.9h0M142.9 251.6h0M167.1 277.7h0M202.6 252.3h0M147.6 245.7h0M165.5 273.1h0M116.2 247.3h0M182.3 261.2h0M154.5 247.9h0M208.6 262.1h0M151.7 267.9h0M133.0 242.8h0M192.0 256.9h0M161.3 264.5h0M109.5 248.9h0M164.3 264.7h0M135.6 263.8h0M183.7 264.4h0M224.6 263.5h0M184.2 252.9h0M227.5 283.2h0M168.5 245.8h0M143.8 264.0h0M155.6 269.5h0M177.0 254.4h0M189.7 247.2h0M210.7 246.9h0M130.2 252.9h0M189.8 269.1h0M126.3 256.9h0M201.7 279.6h0M201.3 248.8h0M160.5 242.7h0M108.3 252.5h0M164.5 255.9h0M204.6 267.3h0M146.9 247.7h0M183.8 245.2h0M187.4 246.4h0M138.3 266.8h0M202.4 273.7h0M119.0 257.6h0M198.0 258.9h0M127.5 251.3h0M201.0 267.6h0M198.1 282.9h0M138.1 249.4h0M146.5 262.2h0M167.3 257.8h0M112.7 238.8h0M162.6 247.2h0M155.1 266.7h0M140.0 250.4h0M176.5 266.5h0M180.0 250.3h0M194.6 277.1h0M143.4 251.3h0M132.0 245.2h0M157.7 249.5h0M172.7 264.1h0M151.9 252.0h0M143.9 244.8h0M191.9 283.0h0M206.9 285.9h0M170.7 266.1h0M152.4 246.8h0M181.7 266.1h0M239.4 259.6h0M189.8 269.4h0M171.5 248.0h0M132.7 261.0h0M126.5 239.1h0M180.5 276.6h0M184.3 270.3h0M204.5 250.9h0M161.3 248.9h0M167.8 247.7h0M192.1 263.4h0M229.2 283.8h0M188.2 258.9h0M184.8 265.0h0M148.5 271.8h0M185.3 266.3h0M125.1 256.0h0M210.0 254.7h0M177.4 274.1h0M138.1 242.8h0M143.8 259.5h0M164.1 263.5h0M193.7 268.9h0M153.6 272.6h0M106.9 247.4h0M210.5 267.6h0M174.5 261.8h0M185.1 280.3h0M182.2 255.5h0M189.1 281.2h0M197.1 256.9h0M167.1 242.5h0M196.7 259.4h0M177.2 259.5h0M116.9 248.3h0M202.3 269.1h0M158.4 240.8h0M147.4 252.1h0M217.7 257.8h0M106.6 244.7h0M157.6 274.9h0M190.4 275.6h0M181.3 256.6h0M217.9 274.5h0M107.1 242.8h0M201.8 257.6h0M113.6 254.8h0M135.8 250.4h0M104.5 250.7h0M136.4 246.7h0M195.2 255.6h0M166.5 243.0h0M173.8 275.2h0M205.7 263.9h0M207.0 267.2h0M198.2 270.8h0M127.2 255.4h0M202.4 281.4h0M164.1 268.8h0M185.3 251.7h0M99.5 243.8h0M173.8 258.8h0M151.5 251.3h0M147.7 249.6h0M147.6 262.0h0M169.1 273.0h0M121.6 256.2h0M165.8 262.4h0M150.6 250.9h0M104.8 240.2h0M125.8 246.6h0M185.7 250.9h0M131.8 243.9h0M125.9 262.4h0M205.0 257.6h0M107.5 254.0h0M129.5 254.5h0M208.2 282.1h0M127.0 256.4h0M142.6 244.2h0M206.9 281.6h0M216.8 287.4h0M165.0 267.8h0M183.4 270.6h0M122.1 241.7h0M176.9 252.6h0M162.9 246.4h0M168.0 246.0h0M165.3 274.5h0M132.4 243.1h0M203.7 254.7h0M101.5 245.2h0M117.3 255.4h0M153.4 271.9h0M226.6 283.3h0M224.8 272.2h0M145.5 246.2h0M169.3 246.4h0M151.5 244.7h0M149.6 272.5h0M131.4 240.0h0M170.0 246.4h0M172.7 266.3h0M187.1 279.9h0M207.9 245.5h0M124.6 239.2h0M110.7 255.1h0M193.1 276.4h0M160.6 243.2h0M184.6 253.7h0M156.5 267.7h0M141.8 250.2h0M184.5 253.6h0M131.5 260.1h0M127.6 255.4h0M165.8 260.9h0M122.9 240.7h0M189.4 259.4h0M186.4 245.8h0M172.0 267.1h0M155.1 242.3h0M162.2 261.9h0M178.2 273.0h0M212.6 267.4h0M176.7 265.3h0M173.0 250.8h0M188.9 252.9h0M210.6 272.7h0M212.5 289.3h0M190.1 260.6h0M132.5 247.7h0M169.4 258.7h0M173.2 270.7h0M127.3 247.9h0M182.1 280.4h0M142.3 246.6h0M196.8 283.8h0M188.2 267.6h0M166.0 276.2h0M226.0 276.3h0M156.0 260.7h0M176.3 250.2h0M178.2 264.7h0M184.5 271.3h0M225.6 281.8h0M160.0 265.3h0M190.0 264.5h0M202.8 277.3h0M170.0 245.5h0M174.5 277.8h0M221.1 287.2h0M221.5 290.1h0M150.1 268.1h0M126.2 254.2h0M159.6 242.4h0M210.3 276.0h0M198.0 274.4h0M141.9 250.4h0M159.3 265.7h0M131.2 254.9h0M171.9 256.7h0M189.9 281.2h0M190.2 276.9h0M147.8 244.9h0M151.2 271.0h0M205.2 271.0h0M138.9 258.0h0M117.2 254.3h0M154.2 268.2h0M145.4 260.1h0M196.8 253.0h0M219.0 284.6h0M208.0 260.6h0M195.2 258.0h0M150.5 256.9h0M124.8 249.2h0M206.8 278.2h0M141.7 257.7h0M153.8 258.0h0M142.9 259.6h0M160.4 257.5h0M135.0 259.1h0M161.6 276.2h0M219.5 253.5h0M219.1 268.5h0M206.2 253.0h0M165.8 259.5h0M162.4 250.3h0M150.9 246.3h0M182.7 276.8h0M133.6 262.4h0M142.1 244.4h0M176.1 274.7h0M154.3 242.6h0M230.4 269.7h0M165.2 275.6h0M111.5 252.1h0M158.7 245.7h0M176.9 268.0h0M141.9 252.5h0M153.1 240.1h0M200.6 267.5h0M218.3 287.2h0M100.1 243.4h0M179.1 270.0h0M108.1 249.2h0M201.5 252.0h0M141.9 250.8h0M214.0 276.0h0M172.7 263.0h0M108.3 251.7h0M165.1 249.1h0M196.8 283.4h0M197.8 253.2h0M185.2 271.7h0M168.1 255.1h0M196.5 254.7h0M209.3 255.9h0M183.3 256.3h0M202.4 251.4h0M193.6 283.5h0M140.9 259.5h0M155.7 258.0h0M99.3 243.2h0M159.7 265.7h0M207.3 266.5h0M108.5 244.1h0M186.5 276.2h0M178.4 254.9h0M161.7 270.7h0M155.9 268.0h0M167.0 272.6h0M163.4 248.1h0M134.5 258.2h0M187.5 251.7h0M202.0 279.4h0M162.8 251.5h0M178.4 253.0h0M122.8 260.6h0M179.3 279.9h0M164.6 243.4h0M125.4 255.7h0M200.5 276.3h0M228.1 285.1h0M154.8 264.5h0M168.5 243.9h0M179.6 279.0h0M156.3 266.7h0M142.4 270.0h0M201.6 268.6h0M208.0 260.7h0M235.7 287.5h0M147.4 245.9h0M136.3 266.2h0M118.1 247.6h0M226.0 254.3h0M198.3 247.2h0M159.3 244.5h0M206.0 273.7h0M115.5 251.9h0M152.9 270.5h0M161.4 263.3h0M111.1 248.2h0M216.9 257.5h0M159.7 241.4h0M144.9 260.5h0M135.3 250.9h0M225.3 253.8h0M199.7 256.4h0M207.6 260.2h0M175.6 255.0h0M110.6 241.0h0M135.3 255.9h0M174.2 249.2h0M153.3 248.8h0M195.2 281.4h0M164.0 244.3h0M200.4 271.9h0M212.7 287.5h0M149.2 247.3h0M187.5 257.6h0M147.8 248.1h0M141.5 257.8h0M184.2 268.6h0M153.7 270.7h0M121.6 239.1h0M124.3 246.4h0M160.7 252.6h0M166.5 263.2h0M103.7 244.8h0M160.0 257.9h0M228.4 251.3h0M120.6 260.2h0M196.2 245.6h0M126.3 253.1h0M148.6 249.7h0M102.6 241.1h0M132.3 245.9h0M167.2 274.5h0M114.4 249.6h0M134.3 255.1h0M165.4 256.8h0M179.1 266.2h0M139.8 254.7h0M136.9 240.0h0M120.4 247.2h0M204.3 282.9h0M194.7 273.9h0M160.3 240.9h0M150.0 251.4h0M163.4 265.6h0M177.5 259.2h0M143.0 246.2h0M170.1 270.9h0M149.9 255.8h0M188.0 246.4h0M163.6 257.9h0M175.9 254.7h0M142.5 248.2h0M212.7 269.0h0M170.3 246.7h0M200.2 255.9h0M207.0 265.6h0M109.7 248.7h0M103.8 245.7h0M119.6 240.2h0M170.6 264.3h0M120.1 252.3h0M195.0 258.5h0M196.1 284.5h0M130.4 247.9h0M118.3 259.6h0M193.4 276.8h0M141.4 256.7h0M155.6 265.7h0M175.6 260.2h0M170.3 249.9h0M223.8 259.9h0M146.6 246.4h0M151.4 253.8h0M174.9 245.6h0M181.9 268.7h0M224.8 271.2h0M102.4 240.3h0M136.1 266.5h0M163.0 251.0h0M132.3 255.4h0M195.0 255.7h0M151.3 262.6h0M148.7 248.2h0M155.7 272.5h0M173.9 266.1h0M184.8 279.7h0M138.2 262.2h0M167.2 270.0h0M138.9 244.5h0M211.3 268.4h0M106.4 239.9h0M119.2 246.4h0M149.3 257.0h0M219.4 253.7h0M140.1 251.4h0M155.2 250.3h0M129.4 253.7h0M169.9 278.0h0M205.5 262.5h0M119.3 239.2h0M110.0 246.1h0M131.7 245.0h0M174.4 278.3h0M101.5 249.7h0M155.6 247.8h0M178.8 262.0h0M193.3 268.5h0M174.0 279.9h0M152.2 254.5h0M211.3 286.3h0M112.2 240.4h0M182.0 268.3h0M186.4 278.7h0M169.2 278.1h0M146.8 259.7h0M117.2 252.7h0M129.1 242.2h0M164.0 254.9h0M218.9 256.4h0M195.3 260.7h0M158.3 253.8h0M163.9 246.7h0M117.0 246.4h0M166.2 276.0h0M215.1 275.7h0M170.4 270.8h0M169.1 245.1h0M141.2 265.0h0M156.2 268.5h0M106.9 247.6h0M182.2 274.0h0M245.4 267.1h0M202.8 256.6h0M168.2 260.5h0M176.6 276.8h0M151.1 261.8h0M158.9 266.9h0M184.6 262.7h0M172.0 245.5h0M135.3 263.9h0M197.5 273.4h0M155.7 247.5h0M148.0 240.1h0M162.6 243.9h0M153.4 249.0h0M171.1 268.6h0M149.2 272.3h0M125.4 243.2h0M209.8 246.1h0M134.0 257.5h0M179.0 260.8h0M158.0 241.7h0M123.5 249.7h0M152.6 269.4h0M119.0 252.7h0M226.3 290.9h0M170.1 265.7h0M187.8 265.4h0M119.6 259.8h0M106.9 239.7h0M208.7 261.2h0M183.7 258.7h0M181.4 256.3h0M225.9 272.4h0M109.8 253.8h0M178.0 275.3h0M164.4 267.4h0M146.9 266.2h0M244.0 264.0h0M195.8 269.2h0M250.3 261.8h0M127.3 260.0h0M172.0 272.1h0M104.3 239.4h0M202.8 259.9h0M158.3 275.3h0M191.7 249.1h0M125.4 250.2h0M154.9 252.8h0M155.5 257.7h0M138.1 252.2h0M168.5 261.9h0M144.5 265.6h0M183.8 272.7h0M111.7 247.6h0M231.2 258.0h0M132.3 264.9h0M118.4 250.1h0M162.6 245.5h0M185.7 271.3h0M188.7 270.7h0M118.5 249.1h0M209.8 278.1h0M187.6 259.8h0M116.9 244.5h0M190.2 266.0h0M148.9 243.3h0M201.9 262.9h0M187.0 265.5h0M149.4 266.5h0M190.6 256.4h0M180.3 263.7h0M193.8 253.6h0M198.4 257.9h0M116.7 239.9h0M141.3 267.2h0M169.7 266.8h0M174.0 274.3h0M135.4 239.4h0M107.9 253.4h0M207.9 247.0h0M157.1 266.2h0M224.0 262.3h0M124.7 246.9h0M139.8 241.3h0M200.9 283.1h0M207.3 287.2h0M142.6 246.1h0M139.3 252.6h0M232.7 285.7h0M154.4 251.3h0M184.3 273.6h0M159.7 252.3h0M140.6 260.5h0M238.6 266.0h0M185.0 264.3h0M120.3 248.1h0M185.3 264.6h0M172.7 247.2h0M198.9 260.1h0M124.7 244.8h0M167.3 246.9h0M167.2 246.4h0M193.6 276.9h0M157.0 264.0h0M204.2 271.8h0M175.8 260.5h0M163.6 270.5h0M104.0 245.8h0M180.2 277.0h0M224.1 255.3h0M188.7 271.5h0M208.3 269.7h0M160.5 270.2h0M105.9 251.0h0M128.2 256.5h0M157.4 256.1h0M153.4 267.2h0M122.9 247.8h0M193.9 279.2h0M187.8 271.3h0M124.3 256.5h0M126.8 254.0h0M122.9 244.7h0M187.1 277.7h0M161.9 246.9h0M168.4 255.1h0M154.9 262.9h0M179.5 262.8h0M205.6 265.5h0M146.1 247.3h0M152.9 239.4h0M136.4 257.1h0M226.7 259.5h0M153.5 248.9h0M139.7 267.6h0M163.3 256.6h0M183.2 255.0h0M195.8 277.8h0M198.5 245.6h0M209.4 274.0h0M137.5 245.9h0M172.9 279.6h0M201.0 245.9h0M213.4 288.1h0M120.6 247.8h0M169.4 265.0h0M122.4 246.9h0M153.2 270.0h0M182.7 247.5h0M204.1 277.4h0M180.8 264.3h0M167.3 263.0h0M226.8 256.3h0M227.3 278.7h0M174.9 276.0h0M206.6 250.8h0M162.1 260.2h0M196.5 252.2h0M248.6 262.3h0M112.4 246.2h0M153.4 273.6h0M146.4 263.3h0M107.1 244.2h0M154.0 268.0h0M195.2 248.1h0M213.1 254.5h0M133.0 264.0h0M134.8 249.2h0M187.5 253.9h0M166.4 268.7h0M145.6 267.9h0M200.0 252.4h0M233.6 254.3h0M189.4 260.3h0M180.6 256.9h0M193.9 283.8h0M172.6 253.9h0M97.9 241.4h0M132.2 245.4h0M203.2 262.5h0M149.6 261.1h0M173.4 270.3h0M211.0 256.1h0M179.4 247.8h0M197.8 255.4h0M166.0 249.1h0M113.2 255.0h0M176.8 254.7h0M221.8 264.3h0M125.9 260.7h0M187.4 264.1h0M140.0 244.4h0M141.6 245.1h0M159.0 256.7h0M180.1 259.1h0M155.7 249.2h0M200.0 272.8h0M183.8 275.0h0M196.5 281.1h0M145.5 264.1h0M154.3 273.0h0M174.9 260.2h0M107.2 249.1h0M200.0 258.4h0M176.4 246.5h0M161.4 257.6h0M127.3 240.4h0M185.6 267.8h0M164.2 250.8h0M156.1 247.7h0M142.7 244.3h0M122.2 241.7h0M102.4 241.6h0M160.8 268.7h0M112.5 239.3h0M188.4 273.5h0M196.6 274.0h0M165.4 249.4h0M119.4 254.3h0M145.3 267.4h0M160.4 249.9h0M144.3 267.3h0M171.6 273.5h0M186.8 281.9h0M111.9 239.5h0M159.5 246.6h0M160.4 243.1h0M163.0 263.3h0M184.8 252.3h0M169.3 242.3h0M155.6 243.5h0M151.0 263.0h0M240.0 264.8h0M148.4 245.5h0M195.0 250.9h0M188.0 278.0h0M159.5 271.0h0M209.7 261.4h0M193.7 279.2h0M184.0 278.2h0M224.8 267.5h0M224.6 267.8h0M119.5 244.9h0M133.6 244.8h0M168.6 266.4h0M122.0 239.4h0M116.9 250.3h0M193.0 257.1h0M150.2 245.5h0M210.0 254.1h0M149.7 265.8h0M105.7 239.6h0M205.6 276.9h0M117.1 256.6h0M164.3 268.7h0M237.5 268.8h0M158.7 265.4h0M190.3 265.6h0M127.6 245.1h0M137.2 242.7h0M98.9 243.9h0M110.6 247.2h0M182.2 268.4h0M120.4 251.7h0M184.5 253.6h0M161.1 265.3h0M189.9 247.1h0M176.5 247.4h0M170.7 264.4h0M176.4 276.7h0M240.1 269.4h0M205.6 264.7h0M123.1 239.6h0M173.6 252.6h0M182.9 280.1h0M155.0 252.6h0M121.3 240.4h0M168.9 273.9h0M188.2 270.3h0M201.7 275.3h0M178.8 266.7h0M129.8 246.5h0M186.8 246.6h0M137.6 254.9h0M216.3 268.4h0M207.4 263.5h0M196.8 268.3h0M144.0 258.9h0M113.4 252.3h0M115.3 238.9h0M120.4 253.3h0M171.7 277.1h0M179.6 249.9h0M144.0 258.9h0M111.9 252.2h0M132.4 255.3h0M193.9 282.3h0M154.1 271.8h0M208.1 261.2h0M222.6 251.1h0M220.0 286.3h0M128.4 263.6h0M200.8 253.7h0M148.0 257.1h0M108.5 248.0h0M176.9 259.5h0M145.6 255.7h0M250.7 268.8h0M202.3 258.0h0M155.0 256.9h0M203.3 279.4h0M149.4 251.1h0M187.3 280.9h0M165.3 255.5h0M165.4 257.8h0M148.6 240.1h0M156.1 253.8h0M209.5 254.2h0M118.5 243.3h0M171.9 260.5h0M163.4 265.4h0M118.7 258.3h0M229.1 267.6h0M121.9 249.8h0M171.0 278.5h0M151.8 266.8h0M195.7 258.5h0M125.6 253.4h0M160.6 247.0h0M134.8 240.7h0M150.0 249.2h0M188.7 274.5h0M207.6 260.0h0M144.2 269.5h0M164.1 264.0h0M128.9 240.5h0M146.0 245.7h0M232.2 287.1h0M233.8 272.3h0M112.1 256.6h0M193.3 252.4h0M144.2 263.1h0M166.5 255.5h0M208.2 276.5h0M203.2 271.6h0M101.1 247.4h0M143.7 251.3h0M141.2 265.9h0M201.8 247.2h0M202.3 269.6h0M226.5 288.5h0M134.3 245.1h0M193.3 246.5h0M116.5 257.5h0M99.1 241.1h0M121.3 241.1h0M160.6 256.0h0M189.1 270.6h0M167.3 265.3h0M159.6 259.4h0M150.3 271.3h0M156.6 242.1h0M156.7 254.1h0M141.0 251.8h0M108.5 250.3h0M192.9 261.1h0M185.9 266.4h0M139.1 262.5h0M118.0 255.1h0M158.1 240.4h0M209.8 246.6h0M129.7 262.1h0M175.0 247.0h0M113.3 252.9h0M180.2 264.3h0M157.5 256.9h0M171.5 260.2h0M196.1 267.1h0M125.4 250.5h0M202.6 272.4h0M170.3 256.4h0M138.9 249.8h0M138.4 263.9h0M106.2 251.2h0M159.2 272.9h0M140.5 256.8h0M168.9 245.6h0M218.4 262.6h0M241.5 263.2h0M224.5 260.7h0M183.7 251.7h0M182.1 265.7h0M191.0 251.4h0M118.4 250.4h0M187.3 245.4h0M157.7 263.0h0M147.5 268.6h0M159.0 241.6h0M179.0 245.8h0M171.1 254.0h0M178.9 248.8h0M187.5 253.9h0M196.5 264.2h0M102.0 241.5h0M185.7 266.7h0M173.6 257.5h0M159.5 242.8h0M187.1 272.4h0M162.3 251.5h0M151.7 241.1h0M123.2 256.6h0M208.7 253.0h0M146.1 251.9h0M150.9 239.3h0M165.4 253.7h0M144.7 269.1h0M140.6 239.4h0M118.6 248.8h0M141.2 260.8h0M209.4 247.9h0M129.9 260.2h0M185.7 278.1h0M194.0 253.5h0M178.3 245.9h0M150.3 258.8h0M190.7 282.8h0M205.3 246.4h0M127.6 245.5h0M149.8 248.8h0M185.1 254.2h0M208.6 245.9h0M179.7 252.4h0M202.5 251.3h0M206.9 245.8h0M187.3 251.2h0M198.9 256.4h0M249.8 267.3h0M212.8 252.5h0M147.5 241.2h0M160.0 270.5h0M159.9 264.1h0M178.8 256.0h0M227.7 277.3h0M138.1 267.3h0M233.7 266.7h0M192.8 270.9h0M150.6 239.6h0M227.5 269.4h0M128.8 248.4h0M152.0 247.7h0M174.1 277.5h0M221.4 279.5h0M151.3 247.3h0M129.5 255.1h0M151.4 240.1h0M175.8 263.1h0M154.2 250.1h0M123.5 251.4h0M201.0 267.6h0M240.5 261.5h0M135.4 249.2h0M190.0 247.1h0M163.0 256.7h0M181.8 253.7h0M165.4 262.4h0M181.7 278.0h0M218.9 259.7h0M109.2 251.8h0M146.8 248.0h0M228.7 262.4h0M181.5 250.9h0M129.5 244.3h0M148.6 264.6h0M104.9 243.9h0M184.0 251.8h0M210.2 250.6h0M184.7 274.1h0M176.7 276.5h0M177.4 263.4h0M158.8 274.4h0M117.0 246.8h0M183.2 271.6h0M164.5 248.6h0M210.6 273.4h0M142.0 260.5h0M126.0 244.6h0M126.8 254.6h0M178.2 265.8h0M220.9 253.8h0M187.9 262.1h0M168.7 250.8h0M159.2 247.3h0M102.9 247.6h0M226.3 281.5h0M197.8 262.5h0M149.1 254.0h0M203.7 272.1h0M142.2 261.8h0M133.5 260.2h0M182.9 245.2h0M134.7 256.6h0M108.4 245.6h0M121.8 251.1h0M193.3 246.9h0M157.0 274.4h0M184.5 255.4h0M177.9 263.9h0M163.1 258.9h0M197.7 259.9h0M193.0 265.0h0M137.1 258.4h0M152.4 251.7h0M206.6 258.0h0M161.1 249.2h0M204.1 259.8h0M131.7 240.9h0M178.8 255.5h0M126.0 245.0h0M148.1 271.1h0M192.6 255.4h0M156.2 272.7h0M149.6 246.0h0M128.0 259.6h0M112.9 242.9h0M131.7 250.2h0M111.2 255.2h0M187.7 246.8h0M184.8 281.4h0M158.5 269.9h0M174.4 255.7h0M215.1 260.0h0M140.7 255.8h0M162.2 248.4h0M170.4 278.5h0M173.9 279.3h0M119.6 257.7h0M136.9 255.5h0M196.3 253.9h0M136.9 247.7h0M117.1 256.8h0M110.5 246.0h0M197.9 276.4h0M174.2 274.8h0M139.8 252.8h0M204.6 286.0h0M174.9 274.8h0M178.2 268.6h0M138.7 260.5h0M159.6 245.5h0M155.5 249.0h0M163.8 273.6h0M205.2 252.9h0M105.0 242.7h0M113.5 239.3h0M167.4 268.0h0M216.0 290.2h0M96.7 241.0h0M192.0 271.8h0M178.1 272.5h0M153.1 265.9h0M139.1 242.1h0M109.1 243.7h0M189.9 279.5h0M119.7 255.8h0M107.8 246.3h0M194.6 268.8h0M148.6 249.2h0M180.9 275.3h0M170.1 260.6h0M220.3 287.3h0M135.3 266.6h0M111.1 248.1h0M170.5 277.6h0M172.1 257.5h0M162.9 241.9h0M198.5 279.7h0M108.3 239.6h0M170.5 246.1h0M104.1 249.5h0M178.3 264.8h0M179.1 265.6h0M115.2 255.3h0M188.4 275.8h0M172.9 276.7h0M100.1 244.6h0M113.5 256.8h0M142.1 254.0h0M161.3 266.1h0M130.0 250.2h0M116.7 257.4h0M112.3 252.9h0M196.4 253.5h0M138.5 243.5h0M183.4 268.2h0M153.7 270.0h0M172.2 246.8h0M148.9 242.9h0M143.0 259.4h0M229.1 271.6h0M173.4 265.1h0M125.2 248.9h0M139.6 252.6h0M140.2 253.3h0M223.7 266.4h0M118.3 243.8h0M195.7 252.2h0M187.3 266.6h0M145.5 250.8h0M195.6 268.4h0M160.3 246.9h0M103.0 248.0h0M118.6 242.9h0M178.8 271.0h0M121.0 254.7h0M121.4 259.2h0M159.5 258.3h0M182.4 255.3h0M126.6 239.1h0M169.2 269.3h0M137.0 251.9h0M170.6 257.0h0M226.9 289.4h0M102.1 247.6h0M141.1 243.6h0M195.4 281.4h0M152.1 259.2h0M201.6 268.8h0M183.8 257.0h0M182.2 246.8h0M216.7 268.8h0M227.1 252.3h0M153.2 248.7h0M142.0 270.3h0M187.2 249.9h0M145.6 269.7h0M122.4 239.9h0M158.1 250.5h0M177.7 271.1h0M212.1 278.6h0M170.1 264.0h0M102.9 241.7h0M108.0 245.6h0M128.4 257.7h0M152.4 262.2h0M206.0 269.4h0M206.0 280.2h0M156.8 271.7h0M106.3 243.7h0M214.4 249.4h0M128.2 260.7h0M164.0 247.8h0M120.9 244.4h0M190.2 271.4h0M190.4 276.1h0M150.7 259.4h0M174.3 272.0h0M181.6 257.1h0M158.1 243.1h0M203.9 261.1h0M155.5 262.4h0M121.3 250.3h0M185.6 246.5h0M189.6 245.8h0M199.6 274.1h0M178.5 269.2h0M175.3 248.5h0M131.5 262.3h0M180.8 256.5h0M114.2 251.6h0M116.9 257.4h0M130.7 250.7h0M175.3 247.8h0M169.9 244.2h0M149.8 243.2h0M109.2 249.2h0M139.1 260.6h0M203.8 262.4h0M204.5 278.3h0M140.4 259.1h0M144.9 257.2h0M168.4 259.9h0M222.8 274.3h0M165.2 270.4h0M137.4 265.8h0M108.5 245.6h0M215.1 257.8h0M162.3 260.8h0M148.7 263.7h0M137.1 247.1h0M170.9 244.7h0M138.5 246.5h0M161.7 274.4h0M190.2 268.7h0M164.6 255.5h0M143.4 245.8h0M169.9 253.6h0M136.3 245.5h0M161.8 260.0h0M140.9 246.5h0M142.1 243.8h0M157.3 243.6h0M161.1 245.9h0M115.2 242.1h0M124.8 244.1h0M171.0 250.7h0M108.6 252.6h0M191.1 263.0h0M168.9 271.0h0M153.8 267.6h0M164.3 240.8h0M195.0 276.5h0M171.6 244.4h0M180.0 253.3h0M99.5 244.2h0M207.0 251.9h0M223.5 269.1h0M138.0 244.7h0M235.1 257.9h0M242.4 282.8h0M139.8 258.7h0M193.0 259.6h0M199.6 254.8h0M191.0 273.4h0M198.5 252.6h0M181.9 261.8h0M132.8 259.1h0M154.2 260.0h0M205.3 256.0h0M112.9 247.0h0M139.0 265.8h0M173.5 261.6h0M113.0 244.4h0M123.5 243.7h0M181.1 253.6h0M154.1 244.9h0M123.5 242.4h0M140.9 265.0h0M180.5 257.3h0M185.5 266.0h0M212.2 269.4h0M105.5 247.7h0M176.4 279.9h0M201.6 285.5h0M209.6 266.8h0M150.8 239.9h0M185.9 274.2h0M182.2 264.1h0M141.4 242.1h0M144.3 252.2h0M155.9 245.6h0M231.7 263.1h0M170.5 243.9h0M133.3 258.7h0M171.5 277.9h0M126.0 256.7h0M175.4 274.4h0M200.3 261.3h0M169.5 274.9h0M189.0 255.5h0M189.9 275.4h0M165.7 253.8h0M211.0 262.3h0M194.6 272.6h0M116.4 244.1h0M184.1 250.4h0M210.3 283.8h0M189.9 266.3h0M153.8 267.0h0M192.2 256.1h0M152.7 262.3h0M160.3 258.3h0M248.1 266.0h0M179.3 276.2h0M115.8 258.3h0M191.8 273.6h0M224.8 255.3h0M119.1 243.7h0M137.1 243.0h0M142.4 245.8h0M142.6 247.1h0M158.0 253.7h0M238.9 261.5h0M157.7 262.1h0M149.7 241.8h0M246.8 263.0h0M198.9 270.9h0M180.1 265.4h0M199.0 260.2h0M237.8 268.0h0M210.2 252.7h0M183.6 281.2h0M129.9 256.3h0M99.6 242.2h0M192.3 272.2h0M191.1 279.2h0M184.3 247.2h0M143.8 242.1h0M183.7 261.2h0M160.6 264.2h0M147.3 239.3h0M146.4 244.6h0M201.2 262.4h0M104.7 243.4h0M234.0 267.9h0M220.0 256.3h0M242.1 260.5h0M203.3 248.6h0M211.5 247.8h0M122.9 248.3h0M192.0 272.7h0M215.3 280.7h0M160.9 261.2h0M119.2 255.3h0M190.5 273.3h0M161.9 247.4h0M134.3 252.3h0M195.0 281.1h0M133.9 252.9h0M133.6 247.5h0M137.6 248.7h0M203.8 261.6h0M128.7 259.9h0M117.3 255.3h0M173.9 269.7h0M196.1 246.4h0M104.1 252.1h0M145.6 249.5h0M213.4 267.9h0M187.3 246.3h0M174.1 270.4h0M125.7 247.8h0M150.5 246.4h0M115.0 239.5h0M137.2 246.1h0M160.9 258.9h0M154.5 251.0h0M107.2 253.5h0M177.1 244.7h0M197.7 283.2h0M149.7 260.1h0M204.3 267.1h0M144.1 241.0h0M136.5 250.2h0M191.4 247.6h0M198.3 280.3h0M173.6 265.3h0M207.8 269.9h0M217.8 282.4h0M154.1 268.4h0M136.0 253.1h0M141.7 242.8h0M175.6 265.8h0M171.1 262.9h0M142.7 247.2h0M223.4 288.9h0M113.2 245.7h0M151.5 272.3h0M197.1 257.1h0M151.7 254.5h0M158.1 263.4h0M241.1 273.4h0M160.9 258.8h0M190.2 253.5h0M153.6 265.4h0M137.7 241.2h0M130.2 240.4h0M139.2 250.2h0M144.5 256.1h0M180.0 254.2h0M144.7 250.2h0M173.2 266.3h0M143.6 240.3h0M212.0 250.2h0M158.1 250.1h0M162.4 268.5h0M119.2 243.3h0M200.3 249.0h0M164.0 269.7h0M126.8 241.4h0M148.7 262.0h0M146.1 244.3h0M161.2 270.6h0M231.6 289.0h0M148.1 252.7h0M127.7 244.9h0M206.0 276.5h0M126.4 258.8h0M100.8 245.4h0M204.1 275.2h0M104.5 243.9h0M197.1 260.3h0M122.1 252.9h0M154.1 273.0h0M189.1 250.1h0M215.8 263.7h0M151.6 268.1h0M133.3 262.6h0M117.8 257.9h0M183.5 245.8h0M121.7 257.0h0M185.2 267.1h0M189.2 281.7h0M147.1 255.4h0M154.6 249.4h0M118.8 242.7h0M235.6 287.2h0M203.4 250.9h0M136.4 254.1h0M126.8 245.1h0M155.7 270.7h0M198.9 250.3h0M144.5 258.0h0M163.0 272.2h0M163.8 261.6h0M219.4 268.7h0M200.5 256.4h0M157.3 269.2h0M151.2 243.6h0M197.3 271.7h0M127.1 256.3h0M148.2 264.2h0M162.4 245.8h0M195.5 261.7h0M158.2 242.7h0M167.4 271.6h0M118.1 253.2h0M178.9 274.4h0M216.7 271.2h0M119.5 239.4h0M148.9 248.0h0M213.6 257.3h0M178.2 247.1h0M171.5 274.1h0M103.7 244.0h0M102.8 248.9h0M193.9 274.5h0M163.5 252.5h0M208.3 266.2h0M139.4 246.6h0M177.7 279.4h0M211.4 268.3h0M151.4 254.8h0M186.3 279.6h0M166.8 276.6h0M173.5 274.7h0M167.6 243.5h0M178.0 279.0h0M103.0 250.8h0M212.2 257.1h0M197.4 275.6h0M185.4 252.6h0M190.4 265.5h0M127.5 253.9h0M222.2 251.0h0M197.7 251.7h0M156.8 245.9h0M161.0 254.5h0M123.1 254.6h0M150.2 244.9h0M153.1 240.5h0M129.4 260.1h0M172.9 244.7h0M162.7 258.1h0M192.7 250.7h0M151.3 240.7h0M136.0 256.3h0M125.2 250.3h0M149.2 267.5h0M158.8 254.4h0M190.9 261.9h0M166.2 242.1h0M210.9 287.9h0M146.9 242.5h0M166.9 259.5h0M192.2 280.0h0M132.2 254.1h0M108.2 244.7h0M171.8 255.1h0M159.3 261.1h0M211.2 267.1h0M178.4 247.0h0M219.4 256.1h0M159.2 256.8h0M204.1 259.7h0M139.7 261.7h0M198.3 250.3h0M162.5 269.3h0M171.3 270.7h0M144.9 242.4h0M200.7 285.7h0M149.4 264.2h0M192.5 274.2h0M201.0 250.7h0M204.6 287.2h0M132.6 245.5h0M105.6 244.0h0M127.2 239.3h0M135.4 251.8h0M177.9 256.0h0M118.0 239.1h0M129.0 252.7h0M148.5 268.7h0M236.9 266.1h0M185.6 279.7h0M179.0 260.1h0M177.5 250.0h0M126.5 242.7h0M137.9 244.0h0M109.4 245.7h0M217.0 252.3h0M151.9 248.6h0M161.1 268.3h0M142.8 248.8h0M205.8 268.7h0M222.4 254.1h0M215.8 259.9h0M139.9 251.1h0M228.7 258.6h0M151.0 241.3h0M145.4 267.6h0M106.2 250.2h0M149.7 258.0h0M139.4 242.5h0M149.6 249.0h0M118.8 239.9h0M143.8 254.5h0M175.3 256.1h0M154.9 269.1h0M97.9 243.5h0M162.2 271.3h0M239.1 262.9h0M168.8 269.3h0M159.8 266.6h0M171.4 246.6h0M178.4 278.6h0M193.5 280.6h0M148.3 251.5h0M222.4 251.7h0M196.0 248.9h0M155.6 239.8h0M172.6 270.7h0M103.0 245.0h0M157.5 261.3h0M225.8 257.9h0M145.6 264.9h0M155.8 265.1h0M174.8 262.0h0M144.0 241.0h0M114.2 241.5h0M187.6 255.5h0M191.9 259.5h0M138.5 267.9h0M196.8 274.7h0M109.1 254.4h0M183.6 274.9h0M163.9 249.2h0M136.3 244.9h0M182.9 274.2h0M137.8 263.4h0M130.2 259.5h0M125.4 250.4h0M174.8 253.1h0M150.3 242.3h0M217.8 258.3h0M157.9 264.9h0M153.3 248.4h0M125.6 245.9h0M211.1 255.5h0M157.7 270.1h0M196.9 249.5h0M127.1 245.7h0M159.8 263.0h0M193.8 249.6h0M204.7 255.0h0M170.0 277.0h0M162.6 245.9h0M226.1 277.3h0M133.9 262.3h0M107.7 240.4h0M230.0 266.8h0M125.1 261.8h0M214.5 288.4h0M142.0 249.7h0M201.0 252.7h0M111.4 244.5h0M178.8 270.6h0M168.1 266.5h0M140.9 262.1h0M155.9 243.0h0M163.4 255.1h0M189.0 278.6h0M186.8 263.5h0M207.5 260.2h0M120.3 258.9h0M151.2 251.0h0M148.4 269.9h0M184.1 273.3h0M116.4 238.9h0M154.8 272.0h0M160.8 255.5h0M145.8 263.2h0M143.3 270.3h0M143.6 259.9h0M157.2 263.4h0M105.9 242.3h0M129.5 248.7h0M201.0 269.4h0M174.1 266.0h0M118.6 247.2h0M161.1 267.4h0M198.4 285.0h0M215.1 275.6h0M205.2 276.8h0M134.7 240.0h0M145.8 249.3h0M196.6 280.9h0M132.1 243.3h0M166.8 250.7h0M201.8 271.0h0M172.6 267.7h0M132.3 244.0h0M164.6 256.9h0M155.1 254.2h0M102.7 247.4h0M244.0 264.7h0M183.2 273.5h0M132.7 244.4h0M182.5 268.7h0M145.6 253.4h0M184.5 269.1h0M160.2 254.3h0M183.4 246.7h0M123.5 245.1h0M122.5 248.2h0M147.0 259.8h0M201.9 265.6h0M140.0 240.9h0M178.1 265.8h0M128.1 246.9h0M108.2 242.5h0M177.2 258.6h0M156.9 274.1h0M166.0 251.3h0M149.4 246.9h0M199.7 256.0h0M143.9 245.1h0M165.5 264.4h0M114.4 241.6h0M199.4 266.5h0M134.7 262.2h0M99.6 246.3h0M138.2 248.2h0M122.4 249.5h0M152.4 269.7h0M172.8 265.9h0M139.4 259.5h0M113.1 240.7h0M163.5 249.2h0M154.6 244.3h0M169.1 244.9h0M166.0 248.7h0M231.9 254.6h0M181.3 258.4h0M155.6 271.5h0M163.1 266.3h0M222.5 285.0h0M197.2 258.5h0M219.1 255.1h0M174.0 277.8h0M137.8 249.9h0M241.6 263.4h0M142.8 240.6h0M240.7 267.3h0M188.4 259.0h0M224.9 290.0h0M127.2 249.7h0M127.8 261.7h0M174.4 243.3h0M107.0 251.4h0M112.2 249.4h0M125.4 253.7h0M121.2 247.7h0M108.5 251.6h0M207.2 248.5h0M247.2 269.3h0M155.2 267.4h0M181.8 273.0h0M106.9 252.0h0M185.0 275.5h0M107.5 250.8h0M134.0 243.1h0M128.2 253.2h0M181.7 264.3h0M204.7 281.5h0M139.0 260.1h0M124.2 253.1h0M222.4 289.3h0M137.0 266.2h0M102.3 241.5h0M183.8 264.3h0M186.3 276.6h0M99.5 241.6h0M182.8 246.4h0M139.3 260.7h0M174.1 254.3h0M165.2 267.7h0M170.2 253.1h0M113.1 246.6h0M198.2 266.6h0M179.2 280.0h0M146.6 262.6h0M217.4 267.0h0M204.3 254.9h0M165.7 252.2h0M142.1 243.0h0M163.8 272.3h0M224.4 271.8h0M148.4 255.7h0M117.5 250.8h0M154.7 256.9h0M165.9 255.4h0M135.4 261.3h0M191.2 252.3h0M172.4 262.1h0M152.5 268.5h0M197.7 279.0h0M198.9 280.8h0M130.9 247.7h0M180.6 266.5h0M202.7 252.8h0M211.4 261.9h0M221.9 257.0h0M205.0 281.9h0M201.8 273.0h0M196.5 274.4h0M218.1 264.9h0M228.5 276.6h0M155.7 261.0h0M168.9 274.9h0M153.2 244.0h0M165.6 268.3h0M173.3 279.7h0M167.4 248.2h0M158.8 272.2h0M103.5 248.5h0M143.6 251.5h0M173.8 273.9h0M156.5 245.6h0M162.7 244.8h0M172.4 259.7h0M189.1 271.3h0M130.7 264.1h0M120.9 258.9h0M213.9 253.0h0M156.1 253.4h0M180.0 263.9h0M178.5 267.0h0M139.6 248.4h0M172.6 242.9h0M184.0 276.6h0M183.7 252.0h0M136.5 261.6h0M227.0 269.0h0M138.0 244.4h0M153.5 246.0h0M250.2 263.7h0M203.8 266.0h0M203.4 265.9h0M159.8 268.4h0M155.5 255.1h0M196.8 278.9h0M191.8 256.3h0M224.1 260.9h0M133.0 252.1h0M184.4 259.5h0M156.6 269.6h0M106.6 243.2h0M224.9 255.3h0M174.5 259.0h0M147.4 254.9h0M188.0 249.9h0M162.9 258.1h0M135.5 262.7h0M171.5 257.3h0M116.8 251.3h0M168.9 247.1h0M154.1 254.1h0M213.5 257.2h0M159.8 247.3h0M122.4 243.0h0M169.7 269.8h0M216.3 266.6h0M143.8 246.2h0M201.5 255.9h0M210.1 263.8h0M247.4 273.5h0M159.0 261.8h0M188.5 257.5h0M121.5 238.9h0M205.5 279.6h0M143.8 251.6h0M155.0 256.0h0M133.5 244.6h0M147.7 259.7h0M182.8 270.1h0M141.0 251.7h0M115.8 257.5h0M152.4 265.8h0M209.8 268.1h0M154.3 263.0h0M226.8 284.7h0M201.4 270.5h0M198.0 261.8h0M182.4 266.9h0M117.7 258.6h0M185.5 258.3h0M185.1 259.1h0M201.3 272.4h0M174.9 272.4h0M196.4 271.7h0M171.0 265.9h0M193.6 258.7h0M131.3 255.6h0M134.6 246.1h0M158.5 254.8h0M179.7 264.5h0M181.8 278.1h0M183.8 259.4h0M175.4 256.6h0M204.5 256.2h0M103.1 246.8h0M193.4 271.8h0M118.2 253.2h0M181.6 264.9h0M135.1 245.5h0M158.0 258.5h0M161.9 276.0h0M173.2 271.0h0M126.0 259.8h0M230.4 258.2h0M193.3 282.7h0M183.4 249.2h0M124.1 253.2h0M189.4 252.0h0M151.6 272.0h0M179.0 262.9h0M173.1 272.5h0M100.4 246.3h0M189.8 280.3h0M194.2 256.9h0M139.1 267.5h0M179.2 244.7h0M139.1 239.1h0M175.2 257.7h0M141.9 266.3h0M163.8 252.6h0M136.2 252.1h0M181.1 277.0h0M140.1 264.4h0M174.6 267.6h0M163.5 242.9h0M180.6 250.0h0M159.0 273.9h0M229.2 282.8h0M151.0 261.8h0M106.9 243.3h0M188.6 268.7h0M187.9 252.2h0M116.6 239.5h0M192.4 273.1h0M198.9 266.9h0M174.2 266.9h0M235.6 258.3h0M197.4 276.6h0M143.6 268.6h0M182.1 268.2h0M205.6 283.8h0M130.5 264.2h0M129.9 242.5h0M137.2 249.7h0M192.3 268.2h0M164.1 243.1h0M165.8 254.4h0M144.9 246.2h0M159.4 263.9h0M178.9 276.6h0M117.3 242.1h0M205.2 263.4h0M184.7 261.2h0M106.4 249.4h0M153.8 246.8h0M167.1 275.6h0M226.1 273.4h0M155.8 257.0h0M159.9 243.9h0M158.5 268.4h0M163.7 268.7h0M139.4 248.7h0M166.9 277.4h0M117.3 248.2h0M154.7 248.3h0M135.4 264.9h0M191.3 267.8h0M186.8 271.5h0M193.4 283.1h0M182.5 249.9h0M135.5 259.3h0M196.4 248.9h0M149.5 251.5h0M220.8 255.3h0M205.1 263.9h0M177.2 256.6h0M194.2 275.1h0M103.4 246.6h0M168.7 269.1h0M128.6 244.0h0M188.9 258.4h0M173.4 261.6h0M158.8 251.5h0M143.4 257.6h0M121.9 257.9h0M123.3 244.0h0M109.6 247.1h0M205.5 282.1h0M161.9 243.6h0M174.6 254.3h0M119.4 239.4h0M160.9 249.5h0M141.4 250.8h0M180.0 273.0h0M121.3 247.7h0M100.7 243.6h0M181.8 271.3h0M176.2 278.6h0M168.6 266.8h0M150.3 270.7h0M202.7 269.4h0M161.9 262.0h0M171.6 252.7h0M168.9 262.6h0M179.7 261.5h0M173.4 275.5h0M173.4 249.4h0M119.5 241.6h0M199.2 268.4h0M133.0 254.9h0M231.0 264.9h0M168.6 264.1h0M157.6 254.7h0M146.9 262.0h0M165.1 258.1h0M249.5 265.8h0M183.6 248.9h0M178.9 278.5h0M173.3 242.9h0M165.9 243.1h0M145.8 271.7h0M153.6 260.5h0M147.8 250.5h0M212.9 260.1h0M173.9 260.8h0M186.3 247.2h0M182.5 260.0h0M144.2 243.3h0M123.5 241.0h0M188.7 255.3h0M196.8 263.9h0M168.9 258.2h0M182.2 260.7h0M135.1 256.3h0M192.5 280.7h0M162.7 275.8h0M117.4 245.2h0M118.8 242.9h0M136.9 252.9h0M159.2 264.9h0M194.8 275.4h0M181.4 251.7h0M186.1 279.4h0M175.8 257.8h0M233.2 253.8h0M112.1 252.6h0M195.7 271.0h0M124.7 260.7h0M222.9 252.3h0M195.7 251.7h0M118.7 238.5h0M216.5 268.7h0M147.7 265.4h0M209.7 278.2h0M222.8 288.2h0M173.0 258.1h0M117.1 247.5h0M135.9 257.2h0M145.7 242.5h0M127.5 257.6h0M201.5 250.2h0M216.0 265.7h0M146.9 265.9h0M145.8 263.5h0M163.4 248.5h0M197.7 257.0h0M114.2 249.2h0M139.6 256.4h0M131.7 246.6h0M156.3 264.8h0M118.4 248.2h0M133.7 264.4h0M160.0 269.7h0M175.3 262.4h0M127.7 249.3h0M153.8 270.8h0M201.0 249.1h0M158.6 253.4h0M180.3 247.8h0M113.8 239.0h0M210.8 266.6h0M181.2 256.1h0M172.6 252.7h0M157.8 259.9h0M191.3 264.0h0M184.8 277.5h0M117.3 246.5h0M176.9 261.1h0M198.0 273.6h0M169.5 257.3h0M144.7 260.3h0M162.0 246.2h0M176.4 258.4h0M148.1 258.3h0M171.8 255.7h0M187.1 266.4h0M210.9 252.2h0M146.9 255.6h0M197.7 252.5h0M158.4 245.7h0M228.2 251.9h0M170.7 251.3h0M211.1 253.4h0M192.5 266.6h0M147.3 245.2h0M137.6 241.2h0M233.7 269.0h0M178.4 256.5h0M104.2 249.2h0M165.6 261.6h0M165.9 240.5h0M175.4 251.8h0M183.5 253.4h0M117.7 241.2h0M113.4 240.7h0M177.7 261.7h0M176.4 275.2h0M138.1 260.8h0M155.2 269.1h0M140.9 244.3h0M135.9 261.1h0M145.6 247.8h0M205.5 250.6h0M166.5 275.7h0M106.1 249.4h0M215.1 261.7h0M232.1 259.9h0M194.9 264.3h0M126.9 245.7h0M124.5 251.6h0M154.3 240.9h0M147.4 249.9h0M168.1 246.3h0M177.0 258.2h0M184.4 259.1h0M117.6 251.9h0M161.2 258.0h0M157.5 258.4h0M168.4 270.8h0M153.6 270.8h0M197.1 250.8h0M160.3 256.7h0M200.4 274.8h0M197.9 276.4h0M191.5 256.7h0M147.6 244.9h0M122.8 256.5h0M121.6 247.9h0M141.4 239.3h0M120.6 256.2h0M165.8 259.1h0M190.3 264.9h0M206.3 252.3h0M134.5 260.1h0M130.3 239.7h0M180.4 271.1h0M157.8 249.5h0M122.6 242.0h0M109.8 242.2h0M171.4 267.0h0M148.2 252.4h0M141.1 254.3h0M218.0 284.3h0M112.3 253.8h0M120.7 239.8h0M124.0 250.8h0M156.9 244.4h0M128.5 241.0h0M158.9 239.8h0M158.1 254.9h0M197.5 249.7h0M183.0 248.9h0M144.9 261.0h0M117.2 250.2h0M154.0 263.3h0M164.0 269.1h0M160.3 242.2h0M128.1 249.4h0M158.2 247.3h0M193.3 250.7h0M150.0 256.9h0M200.5 253.5h0M107.9 245.9h0M143.5 263.2h0M142.3 252.5h0M165.3 263.0h0M137.6 266.1h0M120.8 256.2h0M192.2 251.7h0M147.9 266.5h0M161.4 269.6h0M151.5 267.9h0M162.3 245.7h0M214.3 263.8h0M182.9 267.5h0M170.3 249.1h0M173.5 248.3h0M120.9 249.5h0M197.0 274.6h0M154.9 273.8h0M178.8 275.8h0M117.0 245.9h0M196.2 257.1h0M249.5 272.8h0M147.7 263.4h0M207.8 261.1h0M193.1 249.4h0M131.8 250.7h0M136.2 264.5h0M193.1 256.1h0M211.0 252.7h0M213.9 249.6h0M173.1 269.7h0M193.1 281.4h0M168.7 270.6h0M145.3 247.8h0M138.8 257.7h0M189.1 255.4h0M140.5 263.0h0M222.6 291.0h0M160.7 267.1h0M127.5 249.6h0M155.8 261.6h0M192.3 254.0h0M183.2 278.4h0M111.6 254.2h0M111.2 246.8h0M199.6 246.0h0M140.5 248.4h0M214.2 252.2h0M219.7 286.3h0M136.8 255.4h0M130.8 263.9h0M173.4 265.2h0M171.8 260.9h0M163.7 271.6h0M173.3 262.1h0M141.2 252.4h0M105.0 242.6h0M196.7 262.8h0M207.6 256.1h0M115.2 250.5h0M188.4 270.8h0M249.5 261.4h0M207.3 260.4h0M192.4 276.5h0M176.6 251.8h0M180.1 254.2h0M161.7 263.4h0M173.8 257.4h0M229.2 275.9h0M205.5 275.8h0M195.4 246.4h0M231.3 285.6h0M189.1 262.5h0M208.2 284.8h0M159.3 250.0h0M191.3 278.1h0M154.0 259.9h0M136.3 257.1h0M173.3 259.1h0M152.4 247.6h0M205.6 246.2h0M205.7 278.6h0M113.0 252.3h0M174.8 247.0h0M165.5 247.4h0M165.1 261.4h0M152.2 239.5h0M210.8 287.0h0M145.3 247.2h0M134.0 264.6h0M157.1 249.2h0M202.1 285.5h0M135.3 261.2h0M159.3 250.8h0M203.0 261.9h0M143.3 255.8h0M132.3 263.7h0M210.9 252.3h0M122.9 258.9h0M186.1 275.0h0M189.7 252.6h0M146.3 250.5h0M201.2 286.6h0M174.1 267.9h0M145.4 249.7h0M178.5 249.5h0M122.9 257.4h0M126.8 241.1h0M123.9 247.0h0M154.7 239.5h0M191.0 264.5h0M197.6 276.6h0M176.8 244.0h0M170.4 256.4h0M136.9 263.5h0M130.9 251.9h0M136.2 243.2h0M143.8 255.3h0M125.9 258.2h0M128.5 257.1h0M164.1 247.6h0M180.5 251.4h0M235.1 270.3h0M236.4 264.3h0M158.4 255.7h0M113.0 246.6h0M161.8 248.4h0M143.7 262.2h0M159.4 246.5h0M209.4 249.4h0M115.8 253.5h0M137.5 262.3h0M178.6 271.7h0M186.7 259.7h0M189.6 270.2h0M149.9 270.4h0M130.1 251.2h0M178.3 244.8h0M178.9 280.0h0M178.0 260.9h0M154.7 274.5h0M131.8 253.1h0M132.7 259.8h0M141.3 249.6h0M156.1 258.0h0M148.5 252.2h0M164.7 263.0h0M106.4 249.3h0M152.0 265.5h0M160.0 274.9h0M106.4 243.6h0M163.1 260.8h0M188.6 254.0h0M197.3 279.7h0M140.3 247.6h0M131.8 248.3h0M111.4 247.9h0M133.3 259.6h0M147.5 242.0h0M190.0 269.2h0M200.4 260.8h0M147.5 262.1h0M220.9 270.1h0M164.8 276.4h0M177.4 247.9h0M103.9 241.8h0M138.1 255.4h0M141.1 256.5h0M144.6 247.3h0M112.6 243.8h0M165.9 244.6h0M181.7 278.6h0M116.7 246.4h0M146.3 269.8h0M129.9 254.1h0M176.1 272.1h0M161.1 263.9h0M158.6 253.6h0M184.3 275.2h0M170.6 268.4h0M209.4 263.0h0M176.0 249.5h0M139.8 265.6h0M150.2 243.3h0M102.5 251.0h0M137.9 243.9h0M160.3 264.0h0M111.4 247.4h0M106.3 242.6h0M125.0 241.4h0M188.0 274.2h0M153.6 243.1h0M184.2 268.5h0M171.4 264.8h0M149.6 247.1h0M191.7 259.1h0M180.6 264.0h0M217.7 258.3h0M184.5 276.1h0M198.0 262.2h0M116.4 239.0h0M158.9 245.1h0M201.0 266.1h0M153.0 253.1h0M163.3 268.2h0M208.5 277.3h0M199.7 260.7h0M187.9 265.5h0M193.0 251.5h0M152.2 267.0h0M202.8 282.1h0M208.7 270.7h0M173.1 252.7h0M123.8 246.3h0M139.0 263.5h0M126.9 252.3h0M172.0 252.7h0M184.9 279.4h0M170.6 275.7h0M203.9 256.2h0M138.4 251.6h0M184.5 276.8h0M148.5 243.6h0M145.7 250.0h0M167.8 275.8h0M191.6 260.9h0M147.0 272.0h0M126.5 250.4h0M124.5 255.8h0M226.3 281.0h0M116.6 253.1h0M169.0 248.5h0M209.3 247.4h0M247.5 265.2h0M197.7 269.3h0M143.3 246.8h0M166.1 273.0h0M188.3 253.3h0M108.4 250.4h0M170.4 276.6h0M162.4 255.3h0M188.8 258.3h0M165.6 271.4h0M165.8 256.0h0M162.2 249.9h0M183.7 266.5h0M200.3 257.6h0M209.6 252.1h0M138.5 264.6h0M165.1 271.0h0M178.3 271.4h0M177.3 266.0h0M156.1 269.6h0M116.0 238.6h0M145.9 240.6h0M125.6 247.1h0M103.4 240.2h0M128.8 243.5h0M233.9 268.2h0M97.4 242.9h0M122.1 241.6h0M192.2 270.9h0M127.1 240.1h0M182.6 261.3h0M108.7 248.8h0M158.6 267.7h0M159.9 242.7h0M113.9 238.4h0M143.5 246.3h0M111.5 241.8h0M159.7 252.9h0M171.9 260.7h0M214.2 268.0h0M152.5 267.4h0M169.6 271.2h0M185.2 247.5h0M179.7 269.7h0M115.8 255.1h0M124.3 251.2h0M123.5 240.1h0M148.1 242.7h0M188.4 272.6h0M169.8 263.9h0M200.6 253.3h0M168.4 270.3h0M146.3 249.1h0M165.4 246.1h0M186.5 257.2h0M123.7 243.2h0M170.4 271.1h0M120.4 249.6h0M160.1 251.6h0M205.6 248.5h0M175.2 256.6h0M152.5 241.4h0M148.4 255.8h0M174.4 279.0h0M135.1 245.0h0M208.0 274.0h0M183.9 248.7h0M212.4 247.6h0M249.4 268.2h0M109.9 252.2h0M209.1 288.3h0M176.6 267.9h0M175.9 250.8h0M123.0 239.7h0M198.3 253.2h0M119.7 248.2h0M181.0 278.6h0M148.0 265.4h0M202.6 285.2h0M199.6 250.9h0M135.6 243.8h0M216.1 260.7h0M157.9 242.3h0M168.1 263.4h0M154.6 252.4h0M177.2 271.8h0M160.9 276.2h0M198.1 255.1h0M147.9 249.6h0M122.4 250.9h0M111.7 244.6h0M173.3 245.5h0M215.0 264.2h0M207.4 266.3h0M209.6 276.6h0M197.4 271.7h0M192.6 267.4h0M114.1 257.6h0M117.3 249.3h0M196.8 267.3h0M193.6 279.3h0M193.7 280.7h0M155.1 243.7h0M163.3 267.7h0M119.8 246.4h0M138.1 254.8h0M230.2 256.2h0M173.4 265.1h0M124.9 258.7h0M195.1 264.2h0M145.2 258.4h0M140.3 269.3h0M171.3 265.2h0M204.8 271.2h0M193.4 269.3h0M143.8 264.5h0M119.6 254.2h0M198.7 277.5h0M106.1 240.5h0M138.1 258.3h0M174.6 265.9h0M143.9 252.1h0M196.7 256.5h0M185.7 252.6h0M145.1 256.1h0M149.1 252.7h0M141.3 259.5h0M189.1 279.1h0M159.0 249.9h0M139.8 251.8h0M151.4 239.5h0M228.8 255.6h0M149.5 263.5h0M124.5 239.7h0M114.1 238.7h0M169.7 272.2h0M178.8 251.9h0M172.0 263.4h0M112.3 252.8h0M114.3 248.7h0M179.2 253.4h0M149.7 271.0h0M197.2 248.6h0M117.3 249.5h0M140.6 239.8h0M149.1 255.4h0M202.4 264.0h0M202.1 270.1h0M186.7 259.6h0M170.6 267.6h0M135.3 256.2h0M233.2 253.1h0M191.0 263.3h0M195.1 260.6h0M157.9 267.3h0M191.8 278.3h0M129.6 261.5h0M114.3 245.2h0M103.4 242.2h0M160.2 274.4h0M162.5 273.4h0M193.1 252.4h0M123.4 240.6h0M153.1 244.1h0M149.5 258.6h0M189.5 260.8h0M214.7 289.6h0M196.8 272.1h0M181.6 274.1h0M179.3 273.1h0M224.9 257.6h0M147.1 248.8h0M183.0 262.8h0M141.9 252.8h0M158.5 251.8h0M136.1 242.2h0M175.2 277.8h0M141.7 247.5h0M159.6 264.3h0M196.4 250.7h0M192.8 280.8h0M185.1 267.1h0M161.3 250.2h0M159.5 265.8h0M131.0 243.8h0M188.9 278.3h0M129.5 249.4h0M166.2 245.5h0M185.9 245.6h0M173.2 270.2h0M221.1 269.3h0M199.7 256.8h0M175.6 272.1h0M153.6 257.0h0M137.6 266.9h0M184.2 245.6h0M120.5 252.3h0M111.5 252.8h0M103.2 250.7h0M111.0 244.7h0M137.8 260.6h0M177.0 247.2h0M182.4 259.5h0M117.4 252.7h0M151.4 261.3h0M157.4 266.7h0M182.4 280.7h0M104.9 245.5h0M143.4 264.5h0M199.8 285.6h0M115.0 250.0h0M172.4 268.7h0M133.1 253.2h0M182.5 281.2h0M181.0 271.6h0M163.8 236.9h0M215.4 236.7h0M182.0 236.3h0M222.5 246.4h0M233.1 244.8h0M191.9 243.9h0M194.5 237.4h0M167.8 227.2h0M143.1 232.8h0M157.3 232.5h0M223.6 242.8h0M218.9 234.0h0M213.8 239.2h0M186.6 230.9h0M227.4 240.7h0M177.2 240.3h0M208.5 235.0h0M236.0 250.8h0M201.6 236.8h0M216.4 246.3h0M210.4 243.6h0M209.4 241.4h0M149.3 235.2h0M191.6 243.4h0M211.8 231.6h0M206.9 246.7h0M209.5 246.1h0M223.8 237.0h0M211.0 240.9h0M162.1 227.8h0M183.6 231.5h0M221.3 242.3h0M164.6 227.6h0M171.6 228.7h0M224.2 239.7h0M162.7 236.7h0M181.1 235.0h0M222.4 237.8h0M196.3 238.0h0M204.3 240.2h0M203.9 241.3h0M184.9 232.0h0M159.1 231.0h0M154.2 233.4h0M168.4 235.2h0M205.8 234.0h0M174.6 230.7h0M201.2 237.0h0M174.9 231.6h0M208.1 242.4h0M164.7 234.7h0M184.3 233.1h0M196.1 241.2h0M179.2 239.9h0M204.0 240.4h0M158.9 236.6h0M234.0 244.3h0M217.2 234.7h0M232.0 252.6h0M216.8 233.4h0M159.1 235.6h0M197.2 230.7h0M211.7 237.3h0M210.5 232.3h0M215.7 248.8h0M204.7 238.4h0M241.7 245.9h0M160.6 239.0h0M218.3 237.4h0M212.4 233.3h0M181.8 237.7h0M242.8 245.8h0M194.4 228.2h0M211.7 236.1h0M166.4 227.9h0M224.2 249.7h0M214.5 233.6h0M173.5 228.9h0M187.7 240.7h0M185.7 232.1h0M173.5 231.8h0M221.0 244.2h0M220.4 242.6h0M221.1 245.0h0M194.8 237.5h0M245.7 250.7h0M211.1 241.4h0M165.6 229.2h0M180.2 241.2h0M187.2 228.6h0M168.1 227.6h0M196.8 230.4h0M173.9 230.9h0M207.6 246.0h0M159.6 236.4h0M143.6 232.2h0M227.1 242.5h0M207.4 243.8h0M195.3 240.1h0M221.9 236.3h0M215.3 262.2h0M199.5 271.2h0M218.9 241.8h0M223.3 237.0h0M231.0 244.7h0M224.9 274.4h0M218.2 283.4h0M249.9 256.0h0M211.5 259.4h0M215.3 243.0h0M206.0 237.0h0M161.5 231.8h0M222.5 250.6h0M201.5 226.7h0M225.4 266.1h0M166.8 227.6h0M190.3 281.6h0M204.9 251.7h0M192.5 264.7h0M194.0 242.4h0M200.8 250.0h0M247.8 270.9h0M213.4 277.1h0M201.3 277.7h0M207.0 249.7h0M162.1 232.2h0M218.7 257.7h0M246.9 282.6h0M227.4 280.6h0M178.1 228.3h0M194.8 233.3h0M194.2 232.8h0M217.5 288.2h0M200.5 287.6h0M248.5 276.5h0M224.5 255.5h0M246.6 266.4h0M206.2 232.7h0M226.9 262.9h0M226.9 279.3h0M200.0 279.2h0M205.4 252.2h0M197.3 272.4h0M190.4 248.3h0M197.9 264.0h0M222.4 242.0h0M244.0 282.0h0M202.7 250.6h0M219.4 259.6h0M204.3 238.4h0M222.8 253.3h0M224.6 267.6h0M218.2 282.7h0M192.7 234.8h0M204.6 285.9h0M213.9 274.8h0M192.9 257.4h0M235.9 267.1h0M239.5 243.1h0M184.9 232.1h0M212.1 248.0h0M229.7 241.9h0M232.3 262.0h0M235.2 287.2h0M250.2 259.7h0M248.3 250.1h0M212.8 274.8h0M245.1 289.8h0M207.2 242.8h0M192.2 285.1h0M186.8 227.8h0M239.7 247.4h0M231.1 267.6h0M220.9 248.3h0M248.0 274.9h0M229.5 268.6h0M155.5 231.6h0M227.5 270.4h0M225.4 274.4h0M168.5 228.8h0M203.8 255.4h0M220.0 244.7h0M246.2 283.5h0M234.3 251.2h0M206.8 247.3h0M215.9 265.3h0M199.4 258.3h0M210.1 250.2h0M219.4 270.4h0M198.0 258.3h0M199.7 276.0h0M235.7 282.7h0M205.5 263.3h0M239.6 251.4h0M196.9 266.7h0M240.3 265.1h0M215.3 287.0h0M231.8 257.3h0M236.2 286.5h0M241.1 249.5h0M204.6 230.5h0M198.5 225.0h0M240.5 255.3h0M230.3 291.7h0M245.2 276.2h0M198.0 263.7h0M175.0 221.6h0M224.8 257.7h0M213.7 275.4h0M245.7 254.1h0M206.1 245.5h0M208.8 288.9h0M204.4 245.1h0M222.6 268.0h0M245.4 278.8h0M204.6 241.9h0M203.7 277.3h0M245.0 256.1h0M216.5 230.7h0M216.4 240.7h0M249.7 276.2h0M180.2 231.4h0M195.6 276.5h0M242.4 258.1h0M222.3 237.2h0M211.0 251.3h0M184.1 231.6h0M205.0 260.9h0M215.8 237.4h0M238.3 286.0h0M247.8 248.1h0M219.3 240.9h0M245.2 255.7h0M240.0 282.9h0M244.7 276.0h0M183.6 223.8h0M191.1 237.6h0M230.6 294.4h0M247.0 270.0h0M199.2 286.1h0M204.1 288.9h0M213.0 286.6h0M233.9 251.8h0M212.9 259.7h0M199.3 258.1h0M227.3 243.0h0M222.9 250.6h0M185.5 233.4h0M242.6 288.1h0M205.2 260.1h0M245.5 272.6h0M176.8 226.5h0M192.3 281.1h0M178.4 234.3h0M218.5 234.9h0M175.2 232.4h0M235.4 290.2h0M191.1 245.7h0M209.7 243.2h0M246.2 263.8h0M188.6 260.0h0M224.9 243.2h0M197.2 245.1h0M181.5 233.2h0M232.5 240.4h0M202.2 229.2h0M230.6 295.5h0M164.9 229.0h0M214.9 249.0h0M221.7 292.3h0" stroke="#8d110a" stroke-width="3.05" stroke-linecap="round" fill="none"/>
<rect x="58.5" y="1.9" width="619.00" height="351.70" fill="none" stroke="#1a1a1a" stroke-width="0.8"/>
<line x1="98.05" y1="353.6" x2="98.05" y2="356.40" stroke="#222" stroke-width="0.7"/>
<text x="98.05" y="375.60" font-size="20.4" text-anchor="middle">−2.5</text>
<line x1="168.40" y1="353.6" x2="168.40" y2="356.40" stroke="#222" stroke-width="0.7"/>
<text x="168.40" y="375.60" font-size="20.4" text-anchor="middle">0.0</text>
<line x1="238.75" y1="353.6" x2="238.75" y2="356.40" stroke="#222" stroke-width="0.7"/>
<text x="238.75" y="375.60" font-size="20.4" text-anchor="middle">2.5</text>
<line x1="309.10" y1="353.6" x2="309.10" y2="356.40" stroke="#222" stroke-width="0.7"/>
<text x="309.10" y="375.60" font-size="20.4" text-anchor="middle">5.0</text>
<line x1="379.45" y1="353.6" x2="379.45" y2="356.40" stroke="#222" stroke-width="0.7"/>
<text x="379.45" y="375.60" font-size="20.4" text-anchor="middle">7.5</text>
<line x1="449.80" y1="353.6" x2="449.80" y2="356.40" stroke="#222" stroke-width="0.7"/>
<text x="449.80" y="375.60" font-size="20.4" text-anchor="middle">10.0</text>
<line x1="520.15" y1="353.6" x2="520.15" y2="356.40" stroke="#222" stroke-width="0.7"/>
<text x="520.15" y="375.60" font-size="20.4" text-anchor="middle">12.5</text>
<line x1="590.50" y1="353.6" x2="590.50" y2="356.40" stroke="#222" stroke-width="0.7"/>
<text x="590.50" y="375.60" font-size="20.4" text-anchor="middle">15.0</text>
<line x1="660.85" y1="353.6" x2="660.85" y2="356.40" stroke="#222" stroke-width="0.7"/>
<text x="660.85" y="375.60" font-size="20.4" text-anchor="middle">17.5</text>
<line x1="55.70" y1="28.50" x2="58.5" y2="28.50" stroke="#222" stroke-width="0.7"/>
<text x="51.90" y="36.40" font-size="20.4" text-anchor="end">10</text>
<line x1="55.70" y1="74.02" x2="58.5" y2="74.02" stroke="#222" stroke-width="0.7"/>
<text x="51.90" y="81.92" font-size="20.4" text-anchor="end">8</text>
<line x1="55.70" y1="119.54" x2="58.5" y2="119.54" stroke="#222" stroke-width="0.7"/>
<text x="51.90" y="127.44" font-size="20.4" text-anchor="end">6</text>
<line x1="55.70" y1="165.06" x2="58.5" y2="165.06" stroke="#222" stroke-width="0.7"/>
<text x="51.90" y="172.96" font-size="20.4" text-anchor="end">4</text>
<line x1="55.70" y1="210.58" x2="58.5" y2="210.58" stroke="#222" stroke-width="0.7"/>
<text x="51.90" y="218.48" font-size="20.4" text-anchor="end">2</text>
<line x1="55.70" y1="256.10" x2="58.5" y2="256.10" stroke="#222" stroke-width="0.7"/>
<text x="51.90" y="264.00" font-size="20.4" text-anchor="end">0</text>
<line x1="55.70" y1="301.62" x2="58.5" y2="301.62" stroke="#222" stroke-width="0.7"/>
<text x="51.90" y="309.52" font-size="20.4" text-anchor="end">−2</text>
<line x1="55.70" y1="347.14" x2="58.5" y2="347.14" stroke="#222" stroke-width="0.7"/>
<text x="51.90" y="355.04" font-size="20.4" text-anchor="end">−4</text>
<text x="367.3" y="395.6" font-size="16.4" text-anchor="middle">PC1</text>
<text transform="translate(16.6,179.55) rotate(-90)" font-size="17" text-anchor="middle">PC2</text>
<rect x="66.2" y="10.1" width="181.3" height="29.6" rx="2.5" fill="#fff" fill-opacity="0.8" stroke="#ccc" stroke-width="0.8"/>
<circle cx="89.4" cy="25.2" r="1.6" fill="#8d110a"/>
<text x="119.0" y="29.5" font-size="16.5">Inducing MOFs</text>
<g fill="#ccccff" stroke="#3c3c55" stroke-width="0.45"><rect x="72.14" y="601.90" width="3.54" height="0.50"/><rect x="82.78" y="601.70" width="3.54" height="0.70" stroke="none" fill-opacity="0.7"/><rect x="86.32" y="601.80" width="3.54" height="0.60" stroke="none" fill-opacity="0.7"/><rect x="89.87" y="601.80" width="3.54" height="0.60"/><rect x="93.41" y="601.60" width="3.54" height="0.80"/><rect x="96.95" y="601.20" width="3.54" height="1.20"/><rect x="100.50" y="593.95" width="3.54" height="8.45"/><rect x="104.05" y="587.20" width="3.54" height="15.20"/><rect x="107.59" y="585.10" width="3.54" height="17.30"/><rect x="111.13" y="581.30" width="3.54" height="21.10"/><rect x="114.68" y="575.40" width="3.54" height="27.00"/><rect x="118.22" y="568.60" width="3.54" height="33.80"/><rect x="121.77" y="556.30" width="3.54" height="46.10"/><rect x="125.31" y="536.50" width="3.54" height="65.90"/><rect x="128.86" y="522.10" width="3.54" height="80.30"/><rect x="132.41" y="526.30" width="3.54" height="76.10"/><rect x="135.95" y="506.30" width="3.54" height="96.10"/><rect x="139.50" y="484.50" width="3.54" height="117.90"/><rect x="143.04" y="475.00" width="3.54" height="127.40"/><rect x="146.58" y="468.90" width="3.54" height="133.50"/><rect x="150.13" y="464.00" width="3.54" height="138.40"/><rect x="153.68" y="456.60" width="3.54" height="145.80"/><rect x="157.22" y="444.40" width="3.54" height="158.00"/><rect x="160.76" y="438.70" width="3.54" height="163.70"/><rect x="164.31" y="467.20" width="3.54" height="135.20"/><rect x="167.86" y="473.90" width="3.54" height="128.50"/><rect x="171.40" y="455.60" width="3.54" height="146.80"/><rect x="174.94" y="464.00" width="3.54" height="138.40"/><rect x="178.49" y="473.10" width="3.54" height="129.30"/><rect x="182.03" y="476.30" width="3.54" height="126.10"/><rect x="185.58" y="489.40" width="3.54" height="113.00"/><rect x="189.12" y="497.40" width="3.54" height="105.00"/><rect x="192.67" y="506.30" width="3.54" height="96.10"/><rect x="196.22" y="507.30" width="3.54" height="95.10"/><rect x="199.76" y="502.50" width="3.54" height="99.90"/><rect x="203.31" y="520.00" width="3.54" height="82.40"/><rect x="206.85" y="502.00" width="3.54" height="100.40"/><rect x="210.39" y="504.60" width="3.54" height="97.80"/><rect x="213.94" y="528.50" width="3.54" height="73.90"/><rect x="217.49" y="525.70" width="3.54" height="76.70"/><rect x="221.03" y="539.70" width="3.54" height="62.70"/><rect x="224.57" y="542.40" width="3.54" height="60.00"/><rect x="228.12" y="550.40" width="3.54" height="52.00"/><rect x="231.67" y="547.40" width="3.54" height="55.00"/><rect x="235.21" y="552.40" width="3.54" height="50.00"/><rect x="238.75" y="554.40" width="3.54" height="48.00"/></g><g fill="#ff1a0a" stroke="#5a0000" stroke-width="0.5"><rect x="97.75" y="600.30" width="3.83" height="2.10"/><rect x="101.58" y="600.30" width="3.83" height="2.10"/><rect x="105.41" y="598.60" width="3.83" height="3.80"/><rect x="109.25" y="592.50" width="3.83" height="9.90"/><rect x="113.08" y="594.60" width="3.83" height="7.80"/><rect x="116.91" y="588.70" width="3.83" height="13.70"/><rect x="120.74" y="587.60" width="3.83" height="14.80"/><rect x="124.57" y="579.60" width="3.83" height="22.80"/><rect x="128.41" y="579.60" width="3.83" height="22.80"/><rect x="132.24" y="579.20" width="3.83" height="23.20"/><rect x="136.07" y="571.30" width="3.83" height="31.10"/><rect x="139.90" y="561.20" width="3.83" height="41.20"/><rect x="143.73" y="552.70" width="3.83" height="49.70"/><rect x="147.57" y="551.30" width="3.83" height="51.10"/><rect x="151.40" y="549.60" width="3.83" height="52.80"/><rect x="155.23" y="532.00" width="3.83" height="70.40"/><rect x="159.06" y="527.40" width="3.83" height="75.00"/><rect x="162.89" y="535.80" width="3.83" height="66.60"/><rect x="166.73" y="543.70" width="3.83" height="58.70"/><rect x="170.56" y="529.10" width="3.83" height="73.30"/><rect x="174.39" y="530.10" width="3.83" height="72.30"/><rect x="178.22" y="534.40" width="3.83" height="68.00"/><rect x="182.05" y="531.60" width="3.83" height="70.80"/><rect x="185.89" y="550.00" width="3.83" height="52.40"/><rect x="189.72" y="534.20" width="3.83" height="68.20"/><rect x="193.55" y="544.30" width="3.83" height="58.10"/><rect x="197.38" y="533.10" width="3.83" height="69.30"/><rect x="201.21" y="550.00" width="3.83" height="52.40"/><rect x="205.05" y="534.40" width="3.83" height="68.00"/><rect x="208.88" y="508.80" width="3.83" height="93.60"/><rect x="212.71" y="541.10" width="3.83" height="61.30"/><rect x="216.54" y="542.20" width="3.83" height="60.20"/><rect x="220.37" y="543.70" width="3.83" height="58.70"/><rect x="224.21" y="543.70" width="3.83" height="58.70"/><rect x="228.04" y="534.20" width="3.83" height="68.20"/><rect x="231.87" y="533.30" width="3.83" height="69.10"/><rect x="235.70" y="540.10" width="3.83" height="62.30"/><rect x="239.53" y="546.40" width="3.83" height="56.00"/><rect x="243.37" y="568.20" width="3.83" height="34.20"/><rect x="247.20" y="571.30" width="3.83" height="31.10"/><rect x="251.03" y="562.90" width="3.83" height="39.50"/><rect x="254.86" y="558.00" width="3.83" height="44.40"/><rect x="258.69" y="575.40" width="3.83" height="27.00"/><rect x="262.53" y="574.90" width="3.83" height="27.50"/><rect x="266.36" y="584.40" width="3.83" height="18.00"/><rect x="270.19" y="585.50" width="3.83" height="16.90"/><rect x="274.02" y="587.20" width="3.83" height="15.20"/><rect x="277.85" y="588.20" width="3.83" height="14.20"/><rect x="281.69" y="589.30" width="3.83" height="13.10"/><rect x="285.52" y="591.80" width="3.83" height="10.60"/><rect x="289.35" y="594.60" width="3.83" height="7.80"/><rect x="293.18" y="597.50" width="3.83" height="4.90"/><rect x="297.01" y="599.20" width="3.83" height="3.20"/><rect x="300.85" y="596.70" width="3.83" height="5.70"/><rect x="304.68" y="597.80" width="3.83" height="4.60"/><rect x="308.51" y="600.70" width="3.83" height="1.70"/><rect x="312.34" y="601.90" width="3.83" height="0.50"/><rect x="316.17" y="601.10" width="3.83" height="1.30"/><rect x="320.01" y="601.70" width="3.83" height="0.70" stroke="none" fill-opacity="0.7"/></g>
<rect x="60.5" y="430.5" width="271.00" height="171.90" fill="none" stroke="#1a1a1a" stroke-width="0.65"/>
<line x1="62.90" y1="602.4" x2="62.90" y2="605.20" stroke="#222" stroke-width="0.7"/>
<text x="62.90" y="619.00" font-size="15.0" text-anchor="middle">0.2</text>
<line x1="129.50" y1="602.4" x2="129.50" y2="605.20" stroke="#222" stroke-width="0.7"/>
<text x="129.50" y="619.00" font-size="15.0" text-anchor="middle">0.4</text>
<line x1="196.10" y1="602.4" x2="196.10" y2="605.20" stroke="#222" stroke-width="0.7"/>
<text x="196.10" y="619.00" font-size="15.0" text-anchor="middle">0.6</text>
<line x1="262.70" y1="602.4" x2="262.70" y2="605.20" stroke="#222" stroke-width="0.7"/>
<text x="262.70" y="619.00" font-size="15.0" text-anchor="middle">0.8</text>
<line x1="329.30" y1="602.4" x2="329.30" y2="605.20" stroke="#222" stroke-width="0.7"/>
<text x="329.30" y="619.00" font-size="15.0" text-anchor="middle">1.0</text>
<line x1="57.70" y1="602.40" x2="60.5" y2="602.40" stroke="#222" stroke-width="0.7"/>
<text x="55.60" y="609.00" font-size="15.0" text-anchor="end">0</text>
<line x1="57.70" y1="558.45" x2="60.5" y2="558.45" stroke="#222" stroke-width="0.7"/>
<text x="55.60" y="565.05" font-size="15.0" text-anchor="end">100</text>
<line x1="57.70" y1="514.50" x2="60.5" y2="514.50" stroke="#222" stroke-width="0.7"/>
<text x="55.60" y="521.10" font-size="15.0" text-anchor="end">200</text>
<line x1="57.70" y1="470.55" x2="60.5" y2="470.55" stroke="#222" stroke-width="0.7"/>
<text x="55.60" y="477.15" font-size="15.0" text-anchor="end">300</text>
<text x="196.00" y="635.40" font-size="15.0" text-anchor="middle">VF</text>
<text transform="translate(23.50,518.55) rotate(-90)" font-size="15.0" text-anchor="middle">Frequency</text>
<rect x="192.50" y="436.40" width="133.1" height="40.4" rx="2" fill="#fff" fill-opacity="0.8" stroke="#ccc" stroke-width="0.8"/>
<rect x="197.30" y="442.30" width="24.8" height="8.9" fill="#ccccff" stroke="#55556a" stroke-width="0.55"/>
<rect x="197.30" y="460.40" width="24.8" height="8.9" fill="#ff1a0a" stroke="#5a0000" stroke-width="0.55"/>
<text x="231.10" y="451.40" font-size="12.15">All MOFs</text>
<text x="231.10" y="469.40" font-size="12.15">Inducing MOFs</text>
<g fill="#ccccff" stroke="#3c3c55" stroke-width="0.45"><rect x="421.00" y="521.40" width="3.59" height="80.90"/><rect x="424.59" y="461.80" width="3.59" height="140.50"/><rect x="428.18" y="438.60" width="3.59" height="163.70"/><rect x="431.77" y="494.50" width="3.59" height="107.80"/><rect x="435.36" y="529.40" width="3.59" height="72.90"/><rect x="438.95" y="540.60" width="3.59" height="61.70"/><rect x="442.54" y="564.30" width="3.59" height="38.00"/><rect x="446.13" y="571.30" width="3.59" height="31.00"/><rect x="449.72" y="572.30" width="3.59" height="30.00"/><rect x="453.31" y="575.30" width="3.59" height="27.00"/><rect x="456.90" y="580.30" width="3.59" height="22.00"/><rect x="460.49" y="588.30" width="3.59" height="14.00"/><rect x="464.08" y="590.80" width="3.59" height="11.50"/><rect x="467.67" y="593.30" width="3.59" height="9.00"/><rect x="471.26" y="595.30" width="3.59" height="7.00"/><rect x="474.85" y="594.30" width="3.59" height="8.00"/><rect x="478.44" y="598.30" width="3.59" height="4.00"/><rect x="482.03" y="598.30" width="3.59" height="4.00"/><rect x="485.62" y="600.80" width="3.59" height="1.50"/><rect x="489.21" y="600.80" width="3.59" height="1.50"/><rect x="492.80" y="600.30" width="3.59" height="2.00"/></g><g fill="#ff1a0a" stroke="#5a0000" stroke-width="0.5"><rect x="421.00" y="571.20" width="4.09" height="31.10"/><rect x="425.09" y="545.30" width="4.09" height="57.00"/><rect x="429.18" y="534.30" width="4.09" height="68.00"/><rect x="433.27" y="548.40" width="4.09" height="53.90"/><rect x="437.36" y="553.70" width="4.09" height="48.60"/><rect x="441.45" y="566.80" width="4.09" height="35.50"/><rect x="445.54" y="572.70" width="4.09" height="29.60"/><rect x="449.63" y="573.40" width="4.09" height="28.90"/><rect x="453.72" y="576.30" width="4.09" height="26.00"/><rect x="457.81" y="582.20" width="4.09" height="20.10"/><rect x="461.90" y="590.00" width="4.09" height="12.30"/><rect x="465.99" y="591.70" width="4.09" height="10.60"/><rect x="470.08" y="593.80" width="4.09" height="8.50"/><rect x="474.17" y="596.00" width="4.09" height="6.30"/><rect x="478.26" y="594.30" width="4.09" height="8.00"/><rect x="482.35" y="599.10" width="4.09" height="3.20"/><rect x="486.44" y="598.10" width="4.09" height="4.20"/><rect x="490.53" y="601.20" width="4.09" height="1.10"/><rect x="494.62" y="600.60" width="4.09" height="1.70"/><rect x="498.71" y="600.20" width="4.09" height="2.10"/><rect x="502.80" y="600.70" width="4.09" height="1.60"/><rect x="506.89" y="601.30" width="4.09" height="1.00"/><rect x="510.98" y="601.50" width="4.09" height="0.80"/><rect x="515.07" y="601.40" width="4.09" height="0.90"/><rect x="519.16" y="601.60" width="4.09" height="0.70"/><rect x="523.25" y="601.80" width="4.09" height="0.50"/><rect x="535.52" y="601.50" width="4.09" height="0.80"/><rect x="539.61" y="601.50" width="4.09" height="0.80"/><rect x="547.79" y="601.60" width="4.09" height="0.70" stroke="none" fill-opacity="0.7"/><rect x="572.33" y="601.70" width="4.09" height="0.60" stroke="none" fill-opacity="0.7"/><rect x="596.87" y="601.70" width="4.09" height="0.60" stroke="none" fill-opacity="0.7"/></g>
<rect x="408.5" y="430.5" width="271.10" height="171.85" fill="none" stroke="#1a1a1a" stroke-width="0.65"/>
<line x1="501.80" y1="602.35" x2="501.80" y2="605.15" stroke="#222" stroke-width="0.7"/>
<text x="501.80" y="618.95" font-size="15.0" text-anchor="middle">20</text>
<line x1="598.40" y1="602.35" x2="598.40" y2="605.15" stroke="#222" stroke-width="0.7"/>
<text x="598.40" y="618.95" font-size="15.0" text-anchor="middle">40</text>
<line x1="405.70" y1="602.35" x2="408.5" y2="602.35" stroke="#222" stroke-width="0.7"/>
<text x="403.60" y="608.95" font-size="15.0" text-anchor="end">0</text>
<line x1="405.70" y1="554.70" x2="408.5" y2="554.70" stroke="#222" stroke-width="0.7"/>
<text x="403.60" y="561.30" font-size="15.0" text-anchor="end">500</text>
<line x1="405.70" y1="507.05" x2="408.5" y2="507.05" stroke="#222" stroke-width="0.7"/>
<text x="403.60" y="513.65" font-size="15.0" text-anchor="end">1000</text>
<line x1="405.70" y1="459.40" x2="408.5" y2="459.40" stroke="#222" stroke-width="0.7"/>
<text x="403.60" y="466.00" font-size="15.0" text-anchor="end">1500</text>
<text x="544.05" y="635.35" font-size="15.0" text-anchor="middle">LCD</text>
<text transform="translate(361.20,518.52) rotate(-90)" font-size="15.0" text-anchor="middle">Frequency</text>
<rect x="540.60" y="436.40" width="133.1" height="40.4" rx="2" fill="#fff" fill-opacity="0.8" stroke="#ccc" stroke-width="0.8"/>
<rect x="545.40" y="442.30" width="24.8" height="8.9" fill="#ccccff" stroke="#55556a" stroke-width="0.55"/>
<rect x="545.40" y="460.40" width="24.8" height="8.9" fill="#ff1a0a" stroke="#5a0000" stroke-width="0.55"/>
<text x="579.20" y="451.40" font-size="12.15">All MOFs</text>
<text x="579.20" y="469.40" font-size="12.15">Inducing MOFs</text>
<g fill="#ccccff" stroke="#3c3c55" stroke-width="0.45"><rect x="73.00" y="672.10" width="3.59" height="145.20"/><rect x="76.59" y="659.30" width="3.59" height="158.00"/><rect x="80.18" y="653.60" width="3.59" height="163.70"/><rect x="83.77" y="689.50" width="3.59" height="127.80"/><rect x="87.36" y="730.70" width="3.59" height="86.60"/><rect x="90.95" y="745.50" width="3.59" height="71.80"/><rect x="94.54" y="768.30" width="3.59" height="49.00"/><rect x="98.13" y="776.70" width="3.59" height="40.60"/><rect x="101.72" y="776.50" width="3.59" height="40.80"/><rect x="105.31" y="787.70" width="3.59" height="29.60"/><rect x="108.90" y="793.30" width="3.59" height="24.00"/><rect x="112.49" y="798.30" width="3.59" height="19.00"/><rect x="116.08" y="800.30" width="3.59" height="17.00"/><rect x="119.67" y="805.30" width="3.59" height="12.00"/><rect x="123.26" y="806.30" width="3.59" height="11.00"/><rect x="126.85" y="808.80" width="3.59" height="8.50"/><rect x="130.44" y="810.30" width="3.59" height="7.00"/><rect x="134.03" y="813.30" width="3.59" height="4.00"/><rect x="137.62" y="814.30" width="3.59" height="3.00"/><rect x="141.21" y="814.30" width="3.59" height="3.00"/><rect x="144.80" y="813.80" width="3.59" height="3.50"/></g><g fill="#ff1a0a" stroke="#5a0000" stroke-width="0.5"><rect x="73.00" y="765.50" width="4.10" height="51.80"/><rect x="77.10" y="751.20" width="4.10" height="66.10"/><rect x="81.20" y="739.80" width="4.10" height="77.50"/><rect x="85.30" y="755.40" width="4.10" height="61.90"/><rect x="89.40" y="758.10" width="4.10" height="59.20"/><rect x="93.50" y="770.40" width="4.10" height="46.90"/><rect x="97.60" y="777.60" width="4.10" height="39.70"/><rect x="101.70" y="777.60" width="4.10" height="39.70"/><rect x="105.80" y="792.40" width="4.10" height="24.90"/><rect x="109.90" y="796.60" width="4.10" height="20.70"/><rect x="114.00" y="800.40" width="4.10" height="16.90"/><rect x="118.10" y="806.70" width="4.10" height="10.60"/><rect x="122.20" y="805.30" width="4.10" height="12.00"/><rect x="126.30" y="809.90" width="4.10" height="7.40"/><rect x="130.40" y="809.50" width="4.10" height="7.80"/><rect x="134.50" y="813.10" width="4.10" height="4.20"/><rect x="138.60" y="815.20" width="4.10" height="2.10"/><rect x="142.70" y="814.80" width="4.10" height="2.50"/><rect x="146.80" y="813.10" width="4.10" height="4.20"/><rect x="150.90" y="814.80" width="4.10" height="2.50"/><rect x="155.00" y="815.90" width="4.10" height="1.40"/><rect x="159.10" y="816.30" width="4.10" height="1.00"/><rect x="163.20" y="816.50" width="4.10" height="0.80"/><rect x="171.40" y="815.30" width="4.10" height="2.00"/><rect x="175.50" y="816.30" width="4.10" height="1.00"/><rect x="187.80" y="815.80" width="4.10" height="1.50"/><rect x="204.20" y="816.30" width="4.10" height="1.00"/><rect x="220.60" y="816.70" width="4.10" height="0.60" stroke="none" fill-opacity="0.7"/><rect x="241.10" y="816.70" width="4.10" height="0.60" stroke="none" fill-opacity="0.7"/><rect x="265.70" y="816.70" width="4.10" height="0.60" stroke="none" fill-opacity="0.7"/><rect x="314.90" y="816.70" width="4.10" height="0.60" stroke="none" fill-opacity="0.7"/></g>
<rect x="60.6" y="645.5" width="270.90" height="171.90" fill="none" stroke="#1a1a1a" stroke-width="0.65"/>
<line x1="125.30" y1="817.4" x2="125.30" y2="820.20" stroke="#222" stroke-width="0.7"/>
<text x="125.30" y="834.00" font-size="15.0" text-anchor="middle">10</text>
<line x1="194.30" y1="817.4" x2="194.30" y2="820.20" stroke="#222" stroke-width="0.7"/>
<text x="194.30" y="834.00" font-size="15.0" text-anchor="middle">20</text>
<line x1="263.30" y1="817.4" x2="263.30" y2="820.20" stroke="#222" stroke-width="0.7"/>
<text x="263.30" y="834.00" font-size="15.0" text-anchor="middle">30</text>
<line x1="57.80" y1="817.40" x2="60.6" y2="817.40" stroke="#222" stroke-width="0.7"/>
<text x="55.70" y="824.00" font-size="15.0" text-anchor="end">0</text>
<line x1="57.80" y1="759.25" x2="60.6" y2="759.25" stroke="#222" stroke-width="0.7"/>
<text x="55.70" y="765.85" font-size="15.0" text-anchor="end">500</text>
<line x1="57.80" y1="701.10" x2="60.6" y2="701.10" stroke="#222" stroke-width="0.7"/>
<text x="55.70" y="707.70" font-size="15.0" text-anchor="end">1000</text>
<text x="196.05" y="850.40" font-size="15.0" text-anchor="middle">PLD</text>
<text transform="translate(13.10,733.55) rotate(-90)" font-size="15.0" text-anchor="middle">Frequency</text>
<rect x="192.50" y="651.40" width="133.1" height="40.4" rx="2" fill="#fff" fill-opacity="0.8" stroke="#ccc" stroke-width="0.8"/>
<rect x="197.30" y="657.30" width="24.8" height="8.9" fill="#ccccff" stroke="#55556a" stroke-width="0.55"/>
<rect x="197.30" y="675.40" width="24.8" height="8.9" fill="#ff1a0a" stroke="#5a0000" stroke-width="0.55"/>
<text x="231.10" y="666.40" font-size="12.15">All MOFs</text>
<text x="231.10" y="684.40" font-size="12.15">Inducing MOFs</text>
<g fill="#ccccff" stroke="#3c3c55" stroke-width="0.45"><rect x="420.90" y="653.80" width="3.52" height="163.70"/><rect x="424.42" y="690.30" width="3.52" height="127.20"/><rect x="427.94" y="671.70" width="3.52" height="145.80"/><rect x="431.46" y="673.80" width="3.52" height="143.70"/><rect x="434.98" y="683.30" width="3.52" height="134.20"/><rect x="438.50" y="712.50" width="3.52" height="105.00"/><rect x="442.02" y="705.90" width="3.52" height="111.60"/><rect x="445.54" y="722.40" width="3.52" height="95.10"/><rect x="449.06" y="730.90" width="3.52" height="86.60"/><rect x="452.58" y="745.20" width="3.52" height="72.30"/><rect x="456.10" y="750.30" width="3.52" height="67.20"/><rect x="459.62" y="736.80" width="3.52" height="80.70"/><rect x="463.14" y="758.80" width="3.52" height="58.70"/><rect x="466.66" y="760.50" width="3.52" height="57.00"/><rect x="470.18" y="752.00" width="3.52" height="65.50"/><rect x="473.70" y="771.70" width="3.52" height="45.80"/><rect x="477.22" y="782.00" width="3.52" height="35.50"/><rect x="480.74" y="782.00" width="3.52" height="35.50"/><rect x="484.26" y="788.50" width="3.52" height="29.00"/><rect x="487.78" y="786.50" width="3.52" height="31.00"/><rect x="491.30" y="785.00" width="3.52" height="32.50"/><rect x="494.82" y="789.50" width="3.52" height="28.00"/><rect x="498.34" y="791.50" width="3.52" height="26.00"/><rect x="501.86" y="793.50" width="3.52" height="24.00"/></g><g fill="#ff1a0a" stroke="#5a0000" stroke-width="0.5"><rect x="420.90" y="758.80" width="4.10" height="58.70"/><rect x="425.00" y="766.40" width="4.10" height="51.10"/><rect x="429.10" y="759.80" width="4.10" height="57.70"/><rect x="433.20" y="761.50" width="4.10" height="56.00"/><rect x="437.30" y="763.00" width="4.10" height="54.50"/><rect x="441.40" y="760.50" width="4.10" height="57.00"/><rect x="445.50" y="763.60" width="4.10" height="53.90"/><rect x="449.60" y="764.70" width="4.10" height="52.80"/><rect x="453.70" y="775.90" width="4.10" height="41.60"/><rect x="457.80" y="768.90" width="4.10" height="48.60"/><rect x="461.90" y="763.60" width="4.10" height="53.90"/><rect x="466.00" y="775.20" width="4.10" height="42.30"/><rect x="470.10" y="776.90" width="4.10" height="40.60"/><rect x="474.20" y="783.10" width="4.10" height="34.40"/><rect x="478.30" y="788.60" width="4.10" height="28.90"/><rect x="482.40" y="788.60" width="4.10" height="28.90"/><rect x="486.50" y="786.40" width="4.10" height="31.10"/><rect x="490.60" y="794.30" width="4.10" height="23.20"/><rect x="494.70" y="786.90" width="4.10" height="30.60"/><rect x="498.80" y="789.40" width="4.10" height="28.10"/><rect x="502.90" y="791.10" width="4.10" height="26.40"/><rect x="507.00" y="798.10" width="4.10" height="19.40"/><rect x="511.10" y="798.10" width="4.10" height="19.40"/><rect x="515.20" y="802.20" width="4.10" height="15.30"/><rect x="519.30" y="803.60" width="4.10" height="13.90"/><rect x="523.40" y="803.10" width="4.10" height="14.40"/><rect x="527.50" y="803.40" width="4.10" height="14.10"/><rect x="531.60" y="803.10" width="4.10" height="14.40"/><rect x="535.70" y="801.10" width="4.10" height="16.40"/><rect x="539.80" y="810.60" width="4.10" height="6.90"/><rect x="543.90" y="808.60" width="4.10" height="8.90"/><rect x="548.00" y="807.50" width="4.10" height="10.00"/><rect x="552.10" y="810.60" width="4.10" height="6.90"/><rect x="556.20" y="810.30" width="4.10" height="7.20"/><rect x="560.30" y="811.10" width="4.10" height="6.40"/><rect x="564.40" y="808.10" width="4.10" height="9.40"/><rect x="568.50" y="811.10" width="4.10" height="6.40"/><rect x="572.60" y="807.50" width="4.10" height="10.00"/><rect x="576.70" y="809.20" width="4.10" height="8.30"/><rect x="580.80" y="813.30" width="4.10" height="4.20"/><rect x="584.90" y="816.10" width="4.10" height="1.40"/><rect x="589.00" y="815.60" width="4.10" height="1.90"/><rect x="593.10" y="815.80" width="4.10" height="1.70"/><rect x="597.20" y="816.10" width="4.10" height="1.40"/><rect x="601.30" y="816.90" width="4.10" height="0.60" stroke="none" fill-opacity="0.7"/><rect x="605.40" y="814.20" width="4.10" height="3.30"/><rect x="609.50" y="815.80" width="4.10" height="1.70"/><rect x="613.60" y="815.30" width="4.10" height="2.20"/><rect x="621.80" y="816.70" width="4.10" height="0.80"/><rect x="630.00" y="816.70" width="4.10" height="0.80"/><rect x="634.10" y="816.70" width="4.10" height="0.80"/><rect x="662.80" y="816.40" width="4.10" height="1.10"/></g>
<rect x="408.5" y="645.5" width="271.10" height="171.90" fill="none" stroke="#1a1a1a" stroke-width="0.65"/>
<line x1="421.00" y1="817.4" x2="421.00" y2="820.20" stroke="#222" stroke-width="0.7"/>
<text x="421.00" y="834.00" font-size="15.0" text-anchor="middle">0</text>
<line x1="482.12" y1="817.4" x2="482.12" y2="820.20" stroke="#222" stroke-width="0.7"/>
<text x="482.12" y="834.00" font-size="15.0" text-anchor="middle">2000</text>
<line x1="543.24" y1="817.4" x2="543.24" y2="820.20" stroke="#222" stroke-width="0.7"/>
<text x="543.24" y="834.00" font-size="15.0" text-anchor="middle">4000</text>
<line x1="604.36" y1="817.4" x2="604.36" y2="820.20" stroke="#222" stroke-width="0.7"/>
<text x="604.36" y="834.00" font-size="15.0" text-anchor="middle">6000</text>
<line x1="665.48" y1="817.4" x2="665.48" y2="820.20" stroke="#222" stroke-width="0.7"/>
<text x="665.48" y="834.00" font-size="15.0" text-anchor="middle">8000</text>
<line x1="405.70" y1="817.40" x2="408.5" y2="817.40" stroke="#222" stroke-width="0.7"/>
<text x="403.60" y="824.00" font-size="15.0" text-anchor="end">0</text>
<line x1="405.70" y1="771.90" x2="408.5" y2="771.90" stroke="#222" stroke-width="0.7"/>
<text x="403.60" y="778.50" font-size="15.0" text-anchor="end">200</text>
<line x1="405.70" y1="726.40" x2="408.5" y2="726.40" stroke="#222" stroke-width="0.7"/>
<text x="403.60" y="733.00" font-size="15.0" text-anchor="end">400</text>
<line x1="405.70" y1="680.90" x2="408.5" y2="680.90" stroke="#222" stroke-width="0.7"/>
<text x="403.60" y="687.50" font-size="15.0" text-anchor="end">600</text>
<text x="544.05" y="850.40" font-size="15.0" text-anchor="middle">SA</text>
<text transform="translate(371.10,733.55) rotate(-90)" font-size="15.0" text-anchor="middle">Frequency</text>
<rect x="540.60" y="651.40" width="133.1" height="40.4" rx="2" fill="#fff" fill-opacity="0.8" stroke="#ccc" stroke-width="0.8"/>
<rect x="545.40" y="657.30" width="24.8" height="8.9" fill="#ccccff" stroke="#55556a" stroke-width="0.55"/>
<rect x="545.40" y="675.40" width="24.8" height="8.9" fill="#ff1a0a" stroke="#5a0000" stroke-width="0.55"/>
<text x="579.20" y="666.40" font-size="12.15">All MOFs</text>
<text x="579.20" y="684.40" font-size="12.15">Inducing MOFs</text>
</svg>
</body></html>
